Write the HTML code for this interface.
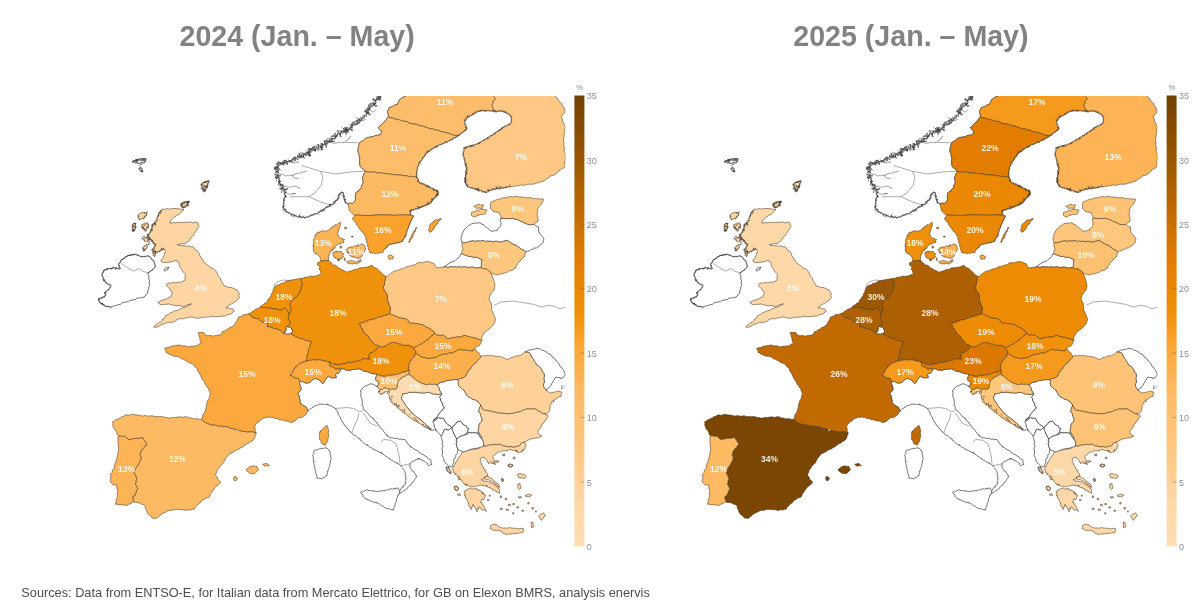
<!DOCTYPE html>
<html><head><meta charset="utf-8"><title>Maps</title>
<style>
html,body{margin:0;padding:0;background:#fff}
body{width:1192px;height:600px;position:relative;overflow:hidden;font-family:"Liberation Sans",Arial,sans-serif}
.t{position:absolute;top:19.5px;font-size:28.6px;font-weight:bold;color:#808284;white-space:nowrap;line-height:32px}
.src{position:absolute;left:21.3px;top:585.7px;font-size:12.76px;color:#4d4d4d;white-space:nowrap;line-height:14px}
svg{position:absolute;left:0;top:0}
.lb{font:bold 8.5px "Liberation Sans",Arial,sans-serif;fill:#fff;text-anchor:middle;opacity:.88}
.tk{font:9px "Liberation Sans",Arial,sans-serif;fill:#8a8f98}
.pc{font:7.5px "Liberation Sans",Arial,sans-serif;fill:#8a8a8a;text-anchor:middle}
</style></head><body>
<div class="t" style="left:179.5px">2024 (Jan. – May)</div>
<div class="t" style="left:793.3px">2025 (Jan. – May)</div>
<svg width="1192" height="600" viewBox="0 0 1192 600">
<defs>
<clipPath id="clip"><rect x="80" y="96" width="485.5" height="456"/></clipPath>
<linearGradient id="cb" x1="0" y1="0" x2="0" y2="1">
<stop offset="0" stop-color="#734002"/>
<stop offset="0.0285714" stop-color="#7b4502"/>
<stop offset="0.0571429" stop-color="#834a02"/>
<stop offset="0.0857143" stop-color="#8b4e02"/>
<stop offset="0.114286" stop-color="#945202"/>
<stop offset="0.142857" stop-color="#9c5701"/>
<stop offset="0.171429" stop-color="#a45c01"/>
<stop offset="0.2" stop-color="#ac6001"/>
<stop offset="0.228571" stop-color="#b66502"/>
<stop offset="0.257143" stop-color="#c16a02"/>
<stop offset="0.285714" stop-color="#ca6f02"/>
<stop offset="0.314286" stop-color="#d27402"/>
<stop offset="0.342857" stop-color="#da7802"/>
<stop offset="0.371429" stop-color="#e37d02"/>
<stop offset="0.4" stop-color="#e68203"/>
<stop offset="0.428571" stop-color="#ea8703"/>
<stop offset="0.457143" stop-color="#ed8c04"/>
<stop offset="0.485714" stop-color="#f0910c"/>
<stop offset="0.514286" stop-color="#f59a1c"/>
<stop offset="0.542857" stop-color="#faa22d"/>
<stop offset="0.571429" stop-color="#fba93e"/>
<stop offset="0.6" stop-color="#fcaf4a"/>
<stop offset="0.628571" stop-color="#fdb457"/>
<stop offset="0.657143" stop-color="#feba63"/>
<stop offset="0.685714" stop-color="#febd6a"/>
<stop offset="0.714286" stop-color="#fec071"/>
<stop offset="0.742857" stop-color="#ffc377"/>
<stop offset="0.771429" stop-color="#ffc67e"/>
<stop offset="0.8" stop-color="#ffc985"/>
<stop offset="0.828571" stop-color="#ffcd8f"/>
<stop offset="0.857143" stop-color="#fed199"/>
<stop offset="0.885714" stop-color="#fed5a3"/>
<stop offset="0.914286" stop-color="#fed8a8"/>
<stop offset="0.942857" stop-color="#fedaac"/>
<stop offset="0.971429" stop-color="#fedcb1"/>
<stop offset="1" stop-color="#fedfb6"/>
</linearGradient>
<g id="under" fill="#fff" stroke="#2e3238" stroke-width=".7">
<path d="M380.8 96.0L380.7 97.0L380.5 97.3L380.6 98.2L380.8 99.1L380.1 98.3L380.0 97.4L379.6 96.6L380.4 98.6L378.2 97.0L379.5 99.5L378.6 99.4L378.6 98.7L379.0 99.6L379.8 99.9L380.6 100.2L379.4 100.2L378.7 99.8L378.3 99.1L376.6 98.0L377.6 100.3L376.0 99.4L375.7 100.0L376.1 101.1L374.5 100.8L376.3 102.8L375.7 103.2L375.4 103.9L373.2 103.2L374.7 105.0L374.0 103.9L374.9 103.6L375.8 103.7L374.9 104.1L374.0 104.3L373.7 105.1L373.7 104.7L374.6 105.0L375.4 105.7L376.5 105.5L377.3 106.3L376.4 105.9L375.3 106.1L374.5 105.5L373.6 105.3L372.4 105.1L371.9 105.6L371.6 106.2L370.3 106.1L370.3 107.0L369.4 107.2L369.7 108.3L370.0 109.4L368.5 109.2L368.0 109.7L367.7 110.3L368.3 111.6L367.3 111.8L368.4 113.4L367.8 112.6L368.7 112.7L369.6 112.9L368.6 113.2L367.6 113.2L366.3 112.8L366.3 113.6L367.1 113.1L368.0 113.6L368.9 113.7L369.8 114.6L370.7 114.6L369.7 115.0L368.8 114.3L367.9 114.0L367.1 113.5L366.5 114.7L366.5 115.5L366.5 116.4L363.7 115.2L364.6 116.7L364.5 117.5L362.9 117.2L363.2 118.3L362.3 118.5L361.2 118.2L361.8 120.1L361.3 120.6L359.4 119.3L360.2 121.5L359.6 121.8L359.6 123.1L357.6 121.6L358.5 123.9L356.9 122.9L357.3 124.6L355.6 123.5L355.8 125.0L355.1 125.2L353.5 124.2L353.1 124.9L352.2 124.8L352.4 126.2L351.2 125.8L352.3 128.5L350.6 127.4L350.2 128.0L349.7 128.5L350.2 128.4L350.6 129.3L351.4 129.6L352.1 130.0L352.9 130.3L351.8 130.5L351.1 129.9L350.4 129.7L350.0 128.9L348.9 128.6L348.7 129.6L348.5 130.7L346.9 129.0L347.5 130.3L347.9 131.1L348.1 132.0L348.1 132.9L347.6 132.1L347.5 131.2L347.0 130.4L346.1 128.8L346.8 130.7L346.5 131.7L346.2 132.6L346.3 133.6L346.1 134.5L345.9 133.5L345.9 132.6L346.1 131.6L346.3 130.7L345.8 129.8L345.9 131.5L345.0 131.1L345.0 132.7L343.1 130.4L343.5 132.6L342.9 132.9L342.5 133.5L340.8 131.7L340.4 132.3L340.7 134.4L339.3 133.0L340.1 134.1L340.5 135.0L340.5 136.1L341.3 136.8L340.0 136.2L340.1 135.2L339.7 134.3L338.8 133.6L337.7 133.3L337.5 134.2L337.9 135.7L337.4 136.1L336.0 135.5L336.4 137.1L334.8 136.3L335.6 138.3L335.0 138.6L334.7 139.3L333.1 138.5L332.0 138.3L332.1 139.5L331.1 139.1L332.0 140.7L332.7 141.1L333.7 141.3L334.6 141.6L333.5 141.7L332.5 141.5L331.7 141.1L331.7 141.4L331.4 140.7L332.0 141.2L332.2 142.0L331.7 141.4L331.0 141.1L331.1 141.8L329.9 141.2L330.1 143.0L328.1 141.0L328.4 142.8L326.8 141.5L327.7 144.3L326.3 143.4L325.5 143.3L325.8 144.2L326.3 145.0L326.2 145.9L326.6 146.7L326.0 147.7L326.3 146.7L325.7 146.0L326.0 145.1L325.4 144.3L325.8 145.2L324.1 143.7L323.7 144.5L323.3 145.1L322.2 144.5L322.9 147.3L321.7 146.4L321.9 147.3L322.5 148.1L321.3 147.4L321.3 146.4L321.9 146.8L320.5 145.4L321.1 148.1L320.9 146.8L321.5 147.5L321.8 148.4L322.0 149.4L323.2 149.6L321.5 149.6L321.5 148.7L321.1 147.7L320.6 147.2L320.4 148.1L318.5 145.9L318.8 148.0L318.7 149.3L318.0 149.3L316.5 147.9L316.1 148.5L315.5 148.8L315.5 149.5L315.2 150.4L315.0 151.3L314.7 150.4L314.9 149.5L315.8 150.9L314.9 150.5L313.7 149.5L312.9 149.6L312.5 150.3L311.6 149.8L311.3 150.7L310.7 151.0L310.9 152.8L309.2 151.0L309.5 153.1L308.8 153.1L308.7 153.0L309.2 153.8L309.2 154.8L309.5 155.7L309.8 156.6L309.2 155.9L308.8 155.0L308.8 153.9L308.2 153.2L307.3 151.7L308.4 153.0L309.0 153.6L309.4 154.4L309.9 155.1L311.0 155.2L309.6 155.5L309.1 154.9L308.7 153.9L308.0 153.4L306.8 152.1L307.3 154.5L306.2 153.8L306.2 155.3L304.6 153.6L304.2 154.4L303.6 154.6L303.5 155.9L303.3 156.9L302.7 156.1L303.4 156.7L304.2 157.4L304.3 158.4L303.8 157.6L303.1 156.9L302.3 156.4L301.6 155.1L302.2 157.7L300.7 156.2L300.9 158.1L299.4 156.5L299.4 158.1L298.6 157.9L298.2 158.5L298.0 159.7L296.8 158.8L295.7 158.0L295.6 159.4L295.5 160.6L295.0 161.0L293.5 159.6L292.6 158.8L292.9 161.8L292.3 162.2L291.6 162.3L290.2 160.1L290.2 162.3L289.4 161.9L288.4 161.1L288.0 162.0L287.0 160.9L287.0 162.5L287.6 163.2L287.6 163.9L287.4 164.7L287.3 164.0L287.0 163.2L286.6 162.5L287.0 163.2L286.4 163.3L285.9 163.9L284.4 161.7L284.2 163.1L283.9 163.5L284.4 164.2L284.0 165.0L283.9 164.2L283.5 163.5L283.5 163.0L282.8 162.9L282.1 162.9L282.1 164.6L280.9 163.4L280.2 163.5L279.9 164.4L279.2 164.3L278.9 165.3L278.4 165.7L277.6 165.5L278.0 166.2L278.3 166.9L276.8 167.4L278.0 167.9L278.7 168.4L279.3 169.0L280.0 169.4L280.4 170.2L279.7 169.7L278.9 169.3L278.5 168.8L277.7 168.2L278.2 168.3L277.4 168.9L277.0 169.5L278.1 170.3L278.9 171.1L276.9 171.5L276.7 172.2L278.4 172.5L278.2 173.2L279.2 173.7L277.6 174.8L276.9 175.7L279.2 175.8L278.7 175.9L279.6 175.5L280.7 175.8L279.7 176.0L278.9 176.4L278.4 176.8L278.3 177.5L279.7 177.9L278.4 178.9L278.8 179.4L279.1 180.1L279.9 180.4L279.6 181.3L279.4 182.2L279.3 183.0L279.7 183.6L280.3 184.0L280.4 184.8L282.7 184.4L281.8 185.6L283.8 185.5L283.0 186.6L281.8 187.8L283.1 188.1L284.3 188.3L283.5 189.4L284.3 189.5L285.2 189.8L286.1 188.8L287.0 188.8L287.9 188.7L287.0 189.3L286.1 189.1L285.2 190.2L284.3 190.0L285.5 189.3L285.8 190.0L284.3 191.3L284.1 192.2L286.6 191.9L284.4 193.5L285.1 194.0L284.6 194.6L285.7 195.5L285.7 195.2L286.2 195.9L286.7 196.5L286.0 196.3L285.5 195.6L284.7 196.0L285.9 196.9L285.7 197.6L283.9 198.0L284.3 198.7L283.4 199.3L284.9 200.2L283.1 200.6L283.8 201.4L284.0 202.2L283.6 202.8L284.6 203.7L283.7 204.2L283.1 204.8L284.1 205.7L283.7 206.3L282.6 206.8L284.1 206.5L283.4 207.9L283.6 208.5L283.8 209.2L284.8 209.3L285.9 209.3L286.3 209.8L285.4 211.3L286.5 211.3L286.9 211.8L286.8 212.7L287.9 211.8L288.4 212.3L288.7 213.6L289.8 212.7L290.3 213.2L291.0 213.5L291.1 215.0L292.3 214.0L292.9 214.4L293.3 215.2L294.4 214.3L294.6 215.6L295.2 216.0L296.1 215.3L296.5 216.2L297.1 216.5L297.8 216.6L298.6 216.3L299.2 216.6L299.6 216.5L299.4 215.3L300.2 214.6L299.7 215.4L300.1 216.6L299.7 217.2L300.2 217.7L300.8 216.6L301.6 218.2L302.1 217.2L302.7 216.6L303.3 216.1L304.1 217.7L304.8 217.7L305.4 216.9L306.1 217.5L306.7 216.8L307.4 217.2L308.0 217.2L308.6 216.9L309.1 216.1L309.6 215.5L310.4 215.7L311.1 215.6L311.4 214.5L312.2 214.7L313.2 215.3L313.4 213.9L314.0 213.4L314.8 213.6L315.7 213.9L316.5 214.2L317.0 213.5L317.5 212.9L318.2 212.8L318.4 211.8L319.6 212.6L320.0 211.9L320.1 210.5L321.1 210.9L321.8 211.0L322.5 210.8L321.8 210.5L321.3 209.7L322.0 210.0L322.8 209.8L323.7 210.2L323.6 208.7L324.6 209.1L325.0 208.5L325.6 208.2L325.8 207.2L326.3 206.8L326.5 207.6L326.5 206.9L326.8 207.3L327.2 207.0L327.5 206.1L328.8 206.8L328.9 205.8L330.3 206.6L329.7 205.1L329.9 204.1L330.0 205.1L329.8 204.7L330.4 204.5L330.5 204.6L329.5 204.8L330.9 204.3L330.9 204.0L332.1 204.6L332.6 204.1L333.5 204.3L333.8 203.5L333.3 202.0L334.1 201.9L335.4 202.4L335.1 201.1L335.1 200.2L336.1 200.3L337.3 200.5L337.1 199.5L337.1 198.5L338.7 199.2L338.8 198.4L339.3 197.9L338.1 197.0L338.8 196.5L338.8 195.8L338.9 195.2L338.7 195.5L338.1 194.9L338.7 194.9L339.6 194.7L339.3 194.0L339.7 193.4L340.3 193.2L341.1 193.3L341.4 191.9L342.3 192.4L343.0 192.6L343.7 193.1L342.7 193.9L343.3 194.5L344.0 195.1L343.4 195.8L344.8 196.3L343.3 197.2L343.7 197.8L343.9 198.4L344.8 198.7L344.0 199.8L345.0 199.8L345.8 199.3L345.0 200.1L344.9 200.1L344.4 201.0L345.8 201.1L345.0 202.1L345.5 202.6L346.2 202.6L346.6 203.5L347.2 203.9L348.1 203.5L349.5 203.3L350.9 203.1L352.2 203.5L353.7 202.6L354.5 201.2L355.6 200.1L355.4 198.4L355.3 196.7L355.7 195.1L355.6 193.4L356.6 192.0L358.5 191.6L359.1 189.8L360.6 189.0L361.5 187.4L361.5 185.5L362.8 184.0L363.2 182.2L363.1 180.5L362.7 178.9L362.3 177.2L363.5 175.9L363.7 174.1L364.8 172.8L365.7 171.3L364.4 170.4L363.3 169.0L361.9 168.2L360.6 167.1L360.0 165.5L359.7 163.9L359.8 162.1L359.5 160.4L359.9 158.7L359.6 157.0L359.0 155.4L359.1 153.7L358.1 152.1L357.9 150.4L358.1 148.7L358.3 147.2L358.8 145.7L359.1 144.2L359.8 142.8L361.2 141.6L362.8 140.8L364.1 139.5L365.7 138.6L367.2 137.6L369.0 137.6L370.6 136.7L372.5 137.0L374.1 136.1L375.7 135.4L377.4 135.2L379.1 135.1L380.8 134.4L381.3 132.8L381.6 131.1L380.5 129.9L379.3 128.9L378.3 127.7L379.8 126.4L381.3 125.1L382.4 123.5L383.8 122.3L385.2 121.2L386.0 119.5L387.3 118.3L388.3 116.8L388.3 115.1L387.9 113.4L387.5 111.8L387.8 110.3L388.8 109.1L389.2 107.6L390.9 107.2L392.6 106.5L394.1 105.4L395.8 104.8L397.6 104.2L398.1 102.8L398.9 101.5L399.2 100.0L400.8 98.8L402.4 97.7L404.1 96.7L405.9 96.0L405.9 94.3L405.8 92.7L405.9 91.0L404.0 91.4L402.0 90.7L400.0 91.4L398.1 90.8L396.1 90.7L394.1 90.6L392.1 90.6L390.2 91.1L388.2 90.7L386.2 91.3L384.2 91.0L382.3 91.0L382.1 92.8L381.2 94.3Z"/>
<path d="M126.9 256.0L128.6 255.4L130.4 255.6L131.9 254.4L133.6 254.5L135.3 254.3L137.0 255.0L138.8 255.4L140.2 256.5L142.0 256.8L143.7 256.3L145.5 256.9L147.0 255.8L148.8 256.0L150.3 257.0L151.2 258.5L152.2 260.1L153.8 261.0L154.3 262.7L154.6 264.5L155.5 266.0L154.7 267.7L153.3 268.9L152.1 270.2L150.5 270.8L149.6 272.3L147.9 272.8L148.1 274.7L148.8 276.6L148.8 278.6L149.3 280.3L149.5 281.9L149.1 283.7L149.6 285.3L148.8 286.9L148.7 288.7L147.9 290.3L147.9 292.0L147.2 293.4L146.4 294.7L145.0 295.6L144.6 297.1L142.6 297.3L140.7 297.9L138.7 297.9L136.9 298.2L135.5 299.7L133.6 299.5L132.0 300.4L130.2 300.3L128.7 301.7L127.0 301.8L125.3 302.1L123.5 302.5L121.8 303.1L120.4 304.4L118.6 304.6L116.9 305.2L115.1 305.7L113.4 306.1L111.8 307.1L110.2 306.9L108.5 306.7L106.8 306.6L105.1 306.3L104.7 305.8L103.9 305.8L104.1 304.4L102.9 304.9L102.4 304.5L102.2 303.6L101.2 303.9L102.2 303.8L102.6 302.8L102.4 304.2L100.7 303.4L100.5 302.7L99.8 302.5L99.3 302.1L99.8 301.3L98.6 300.8L98.5 300.2L99.1 299.3L98.4 298.8L99.4 299.4L99.4 299.4L99.2 300.2L99.1 299.4L99.8 298.8L100.4 298.6L101.1 298.4L101.8 298.5L101.9 296.9L102.9 297.7L103.5 297.4L104.2 297.5L104.4 296.2L105.1 296.2L105.5 295.4L105.9 295.6L105.8 294.7L105.5 294.0L105.2 293.4L104.3 292.9L105.4 293.2L105.9 292.8L105.7 291.5L106.5 291.4L107.0 290.8L107.7 290.7L107.9 289.9L108.5 289.5L109.1 289.1L109.6 288.6L109.8 287.9L110.5 287.5L110.9 286.9L110.5 285.9L111.0 285.3L110.5 284.8L109.8 284.9L109.4 284.1L108.7 284.2L107.9 284.3L107.4 283.9L106.8 283.7L106.4 283.2L106.3 282.3L105.3 282.3L105.2 281.4L104.7 280.9L103.9 280.8L104.5 280.3L104.2 279.6L105.0 280.4L103.5 280.3L103.9 279.4L103.0 279.0L103.5 278.2L102.8 277.7L102.3 277.2L102.7 276.3L102.7 275.7L101.8 275.3L102.1 274.7L102.2 274.0L102.2 273.3L102.5 272.7L103.6 272.4L103.8 271.7L103.4 270.9L103.5 270.2L104.3 270.7L104.6 269.5L105.4 269.8L106.1 269.8L106.5 268.7L107.3 269.0L107.4 269.6L107.1 270.2L106.9 269.6L107.7 268.3L108.5 268.6L109.2 268.9L109.8 268.2L110.6 269.1L111.2 268.6L111.8 268.1L111.6 268.7L111.7 269.3L111.3 268.7L112.4 268.0L113.1 267.9L113.7 267.5L114.4 267.7L115.0 267.7L115.7 267.8L116.3 268.1L116.1 268.9L115.2 269.4L115.7 268.6L117.0 267.7L117.6 268.0L118.2 268.9L118.9 268.7L119.5 269.2L120.2 268.6L119.9 268.0L119.9 267.3L119.2 266.9L119.1 266.2L119.8 265.4L119.2 265.5L118.7 265.0L118.6 264.4L119.2 263.9L119.1 263.0L119.8 262.7L120.7 262.4L121.1 261.8L120.7 260.8L121.1 260.2L121.8 260.1L121.9 259.1L122.7 259.1L123.5 259.0L123.7 258.3L124.7 258.5L124.9 257.6L125.4 257.2L125.7 256.5L126.7 256.8Z"/>
<path d="M307.9 411.4L308.4 410.9L308.9 410.1L309.5 409.5L310.2 409.1L310.5 408.7L310.8 408.6L311.6 408.2L312.4 407.9L312.7 407.0L313.6 406.7L314.3 406.2L315.2 405.9L316.0 405.6L316.8 405.3L317.7 405.0L318.6 405.0L319.3 404.2L320.3 404.2L321.1 404.0L322.0 404.2L322.8 404.4L323.6 404.3L324.5 404.6L325.4 404.2L326.2 404.5L327.0 404.6L327.5 404.6L327.5 403.8L328.0 404.8L327.9 404.5L328.7 405.0L329.3 405.6L330.2 405.7L331.0 405.9L331.8 406.1L332.6 406.5L333.0 407.5L333.8 407.8L334.7 407.8L335.4 408.4L335.6 409.2L336.1 409.9L336.9 410.4L337.3 411.1L337.6 411.9L338.0 412.6L338.3 413.5L338.2 414.4L338.7 415.1L339.3 415.8L339.9 416.4L340.1 417.2L340.6 417.9L340.5 418.9L340.9 419.6L341.7 420.1L342.0 420.9L342.1 421.8L342.5 422.5L343.5 422.8L343.7 423.7L343.9 424.6L344.9 425.0L345.1 425.8L345.6 426.5L346.3 427.0L346.7 427.8L347.1 428.5L348.1 428.8L348.5 429.7L348.9 430.5L349.6 431.0L350.1 431.8L351.1 432.1L351.5 432.9L352.1 433.6L352.8 434.1L353.3 434.8L354.1 435.1L354.9 435.4L355.6 435.9L356.4 436.3L357.1 436.7L357.7 437.4L358.2 438.0L358.9 438.6L359.9 438.8L360.1 439.9L361.0 440.2L361.5 441.0L362.2 441.5L362.8 442.2L363.5 442.8L364.3 443.2L365.0 443.8L365.6 444.5L366.2 445.2L367.0 445.5L367.4 445.0L367.5 444.4L367.8 445.2L368.0 445.6L368.7 446.2L369.3 446.8L369.9 447.4L370.9 447.5L371.6 448.0L372.3 448.7L372.9 449.2L374.0 449.0L374.5 449.8L375.2 450.2L376.1 450.4L376.7 450.9L377.5 451.2L378.4 451.4L379.0 452.0L379.7 452.6L380.0 451.8L380.7 452.6L381.2 453.5L381.8 453.1L381.6 452.4L382.2 453.3L382.2 453.4L382.8 454.3L383.7 454.5L384.3 455.2L385.0 455.7L385.7 456.2L386.5 456.6L387.2 457.0L388.0 457.5L388.7 458.0L389.2 458.8L390.3 458.7L390.7 459.6L391.3 460.3L392.3 460.3L393.0 460.9L393.6 461.5L394.5 461.7L395.2 462.2L395.8 462.9L396.6 463.0L396.8 462.5L397.2 463.6L398.1 463.7L398.8 464.0L399.4 464.6L400.0 465.2L400.8 465.4L401.1 466.3L401.6 467.0L402.3 467.6L402.8 468.3L403.3 469.0L403.8 469.7L404.2 470.5L404.9 471.2L404.7 472.1L405.3 472.9L405.3 473.8L405.3 474.7L405.4 475.5L405.4 476.4L405.8 477.2L406.2 478.1L405.7 478.9L405.5 479.7L405.6 480.6L405.8 481.4L405.1 482.2L405.2 483.1L405.9 483.4L405.0 483.9L404.6 484.7L403.8 485.0L403.3 485.7L403.1 486.6L403.6 486.6L402.2 486.9L401.8 487.6L401.2 488.2L400.8 488.9L400.5 489.7L400.2 490.6L399.3 491.0L399.2 492.0L398.7 492.7L398.3 493.5L397.4 494.0L398.2 493.5L399.2 493.7L399.9 493.0L400.8 493.1L401.3 492.4L402.0 492.1L402.7 491.7L403.3 491.1L404.1 490.8L404.8 490.5L405.3 489.7L406.1 489.5L406.7 488.9L407.2 488.2L407.9 487.7L408.1 486.8L408.7 486.2L409.3 485.5L410.3 485.4L410.9 484.7L411.3 483.9L411.6 483.0L412.2 482.4L413.3 482.1L413.8 481.3L414.2 480.5L414.4 479.7L415.0 479.1L415.7 478.5L416.1 477.8L416.1 476.9L416.7 476.3L416.5 475.5L415.5 475.2L415.4 474.3L414.8 473.7L414.4 473.0L414.2 472.1L413.5 471.7L413.2 470.9L412.2 470.8L411.6 470.3L411.1 469.6L410.9 468.8L410.4 468.0L410.1 467.2L410.0 466.3L409.9 465.5L410.2 464.6L410.0 463.8L410.5 462.9L411.2 462.3L412.2 462.2L412.7 461.4L413.5 461.0L414.2 460.4L415.1 460.3L415.9 459.9L416.7 459.6L417.6 459.3L418.4 459.0L417.6 458.5L419.3 458.7L420.2 458.7L420.6 459.7L421.4 459.9L422.0 460.4L423.0 460.2L423.6 460.8L424.3 461.2L424.9 461.9L425.5 462.4L426.4 462.7L427.0 463.3L427.7 463.4L427.4 464.1L427.8 464.9L428.5 465.4L429.3 465.3L430.2 465.1L431.0 464.6L431.8 464.6L431.4 463.8L431.0 463.0L431.2 462.1L430.7 461.3L431.0 460.4L430.5 459.7L429.6 459.6L429.0 459.0L428.2 458.7L427.8 457.9L427.0 457.5L426.7 456.6L426.0 456.2L425.0 456.1L424.3 455.5L423.8 454.7L422.9 454.5L422.0 454.3L421.4 453.5L420.6 453.2L419.7 452.9L419.3 452.0L418.6 451.4L417.9 450.9L417.0 450.7L416.2 450.2L415.3 450.0L414.8 449.2L414.0 448.9L413.2 448.5L412.6 447.8L411.9 447.3L410.9 447.2L410.7 446.2L410.7 446.8L409.8 446.0L409.1 445.6L408.6 444.8L408.3 443.9L407.5 443.6L407.1 442.9L406.9 442.1L406.2 441.5L405.8 440.9L405.1 440.3L405.0 439.4L404.1 439.6L403.3 439.5L402.4 439.7L401.7 438.8L400.8 439.2L399.9 439.4L399.1 439.2L398.3 438.9L397.4 438.6L396.6 438.5L395.7 438.6L394.9 438.4L394.1 438.4L393.2 438.3L392.4 437.7L391.6 438.0L390.7 437.8L389.8 437.7L389.3 436.8L388.6 436.4L387.7 436.1L387.6 436.5L387.4 435.2L386.5 434.8L386.0 435.2L386.2 434.0L385.5 433.5L385.0 432.8L384.4 432.1L383.7 431.6L383.5 430.6L382.9 430.0L382.3 429.4L381.5 429.0L381.1 428.2L380.3 427.7L379.9 427.5L380.2 426.7L379.5 426.1L378.6 425.8L378.4 424.8L378.0 424.0L377.3 423.5L376.5 423.0L376.3 422.1L375.5 421.6L374.8 421.1L374.6 420.2L373.7 419.8L373.6 418.7L372.5 418.5L372.3 417.6L371.4 417.2L370.8 416.5L370.0 416.1L369.5 415.4L369.1 414.5L368.3 414.0L367.7 413.3L367.2 412.6L366.7 411.9L366.2 411.3L365.1 411.1L364.6 410.4L364.4 409.5L363.4 409.2L363.1 408.4L363.2 406.4L362.1 404.5L362.4 402.5L362.1 400.5L361.8 398.8L361.3 397.1L360.5 395.5L361.0 393.8L361.0 392.1L360.5 390.5L361.8 389.6L362.6 388.1L363.8 387.1L365.4 386.0L367.2 385.4L368.8 384.5L370.5 383.8L372.3 384.0L373.9 384.6L374.9 385.5L376.4 385.9L377.2 387.1L377.4 385.5L378.7 384.5L378.9 382.9L378.2 381.4L376.5 380.8L375.6 379.6L375.9 377.8L376.3 376.1L377.2 374.5L375.6 374.0L373.9 373.7L372.1 373.5L370.5 372.9L368.9 372.3L367.2 371.7L365.6 371.4L363.8 371.2L362.5 370.2L361.0 369.6L359.6 368.7L357.7 369.2L355.7 368.9L353.8 369.5L352.1 369.5L350.5 370.4L348.7 370.1L347.0 370.3L345.4 369.7L343.8 368.9L341.9 368.9L340.3 368.2L340.3 370.2L339.5 372.0L338.4 373.3L336.5 373.3L335.3 374.5L336.0 376.1L336.1 377.9L334.7 377.5L333.3 377.9L331.9 377.9L330.2 377.2L328.6 376.2L327.2 377.1L326.5 378.6L325.2 379.6L324.6 381.1L323.9 382.6L322.7 383.8L321.3 382.3L320.3 380.6L318.5 379.6L317.2 379.1L315.8 378.5L314.3 378.7L312.7 379.5L311.5 381.0L310.1 382.1L308.5 382.8L306.9 383.2L305.1 382.9L303.6 381.9L301.9 381.4L300.1 381.2L299.6 382.5L299.5 383.8L300.2 385.4L300.7 387.1L301.1 388.8L300.6 390.3L299.8 391.5L298.3 392.4L297.8 393.8L298.8 395.3L299.4 397.0L299.5 398.9L300.2 400.5L300.0 402.2L300.3 403.9L302.0 404.4L303.2 405.6L304.8 406.3L306.2 407.2L307.0 408.5L307.4 410.0L307.9 411.4Z"/>
<path d="M314.4 450.3L315.2 449.9L316.2 450.2L317.0 450.0L317.7 449.2L318.7 449.5L319.4 448.7L320.3 448.7L321.1 448.4L321.9 448.3L322.8 448.6L323.6 448.3L324.4 447.9L325.3 448.0L326.2 448.2L327.0 447.8L327.4 448.6L328.2 449.1L328.7 449.9L329.0 450.8L329.8 451.3L330.3 452.0L330.0 452.9L330.4 453.7L330.2 454.6L330.7 455.4L330.5 456.3L331.0 457.0L330.9 457.9L331.2 458.7L331.1 459.6L330.4 460.3L330.6 461.2L330.1 462.0L330.5 463.0L329.9 463.7L329.8 464.5L329.7 465.4L329.6 466.3L329.5 467.1L328.8 467.8L328.6 468.7L328.3 469.5L328.1 470.3L327.9 471.2L327.5 472.0L327.2 471.7L327.4 472.9L327.2 473.7L327.2 474.6L327.0 475.5L326.1 475.7L325.6 476.6L324.9 477.0L324.1 477.4L323.2 477.6L322.5 478.2L321.9 478.9L321.1 478.9L320.3 478.4L319.4 478.4L318.6 478.2L317.8 478.1L316.9 478.0L317.2 477.1L316.7 476.3L316.3 475.5L316.3 474.6L316.5 473.7L315.7 473.0L315.5 472.2L315.8 471.2L315.2 470.5L315.0 469.6L315.0 468.8L314.9 467.9L314.4 467.2L314.7 466.2L314.7 465.4L314.0 464.6L314.1 463.7L313.6 462.9L313.6 462.1L313.6 461.2L314.3 461.0L313.4 460.4L313.1 459.6L313.5 458.7L313.3 457.9L313.3 457.0L313.1 456.2L312.7 455.4L313.2 454.6L313.7 453.8L313.7 452.9L313.7 452.0L314.0 451.2Z"/>
<path d="M360.5 492.3L361.3 491.7L362.4 492.0L363.2 491.6L363.9 491.0L364.7 490.7L365.6 490.4L366.5 490.2L367.2 489.8L368.0 490.4L368.8 490.6L369.2 491.0L369.8 490.3L370.6 490.4L371.4 490.9L372.2 491.1L373.2 490.7L374.0 491.0L374.8 491.0L375.6 491.4L376.5 491.6L377.3 491.5L378.2 491.5L379.0 491.0L379.9 491.2L380.7 490.8L381.5 490.9L382.4 490.8L383.2 490.9L384.0 490.6L384.9 490.7L385.8 490.5L386.5 489.8L387.4 489.9L388.3 490.0L389.1 489.3L390.0 489.4L390.7 488.9L391.6 488.8L392.5 489.2L392.9 489.2L393.3 488.7L394.1 488.3L394.9 488.4L395.6 489.2L395.8 488.2L396.6 488.1L397.4 488.1L398.3 488.1L398.6 488.9L398.9 489.6L399.1 490.5L399.3 491.3L400.1 491.8L399.6 492.5L399.4 493.3L398.6 493.9L398.8 494.9L397.9 495.4L397.5 495.4L397.6 496.1L397.4 497.0L397.2 497.8L396.8 498.5L396.5 499.3L396.5 500.2L396.4 501.1L396.1 501.9L395.6 502.7L395.2 503.5L395.1 504.3L395.1 505.2L395.0 506.1L394.2 506.8L393.8 507.6L393.9 508.6L393.7 509.4L393.4 510.3L392.7 509.7L391.8 509.7L390.9 509.8L390.1 509.1L389.3 509.0L388.5 508.6L387.6 508.5L386.7 508.6L386.0 508.1L385.3 507.6L384.4 507.4L383.7 506.7L383.0 506.2L382.2 505.8L381.4 505.5L380.6 505.0L380.0 504.4L379.3 503.9L378.6 503.4L377.8 503.1L376.9 503.0L376.1 502.8L376.3 502.1L375.3 502.3L374.3 502.6L373.6 502.1L372.7 501.9L372.0 501.5L371.3 500.9L370.4 501.1L369.7 500.4L368.8 500.5L368.2 499.7L368.4 499.4L367.2 499.8L366.5 499.5L366.1 498.5L365.1 498.5L364.6 497.7L363.9 497.3L363.3 496.7L363.2 495.7L362.8 494.9L361.9 494.5L361.6 493.7L361.2 492.9Z"/>
<path d="M441.8 393.8L440.4 393.8L439.0 394.4L437.7 394.7L436.0 394.0L434.2 394.0L432.5 393.8L430.9 393.0L429.3 392.5L427.6 392.4L425.9 392.5L424.2 393.0L422.6 393.0L420.9 392.7L419.2 392.8L417.5 392.6L415.8 392.4L414.2 392.1L412.5 392.5L410.8 392.3L409.1 392.2L407.4 393.0L405.8 393.5L404.1 393.5L402.4 393.8L402.6 395.6L401.3 397.1L401.6 398.9L402.3 400.8L404.0 402.0L404.8 403.8L405.8 405.6L407.0 407.1L408.2 408.5L409.3 410.2L410.8 411.4L411.7 413.1L413.3 414.0L414.6 415.2L415.8 416.5L417.2 417.6L418.8 418.3L420.1 419.4L421.6 420.4L422.6 421.8L423.9 422.8L425.3 423.8L426.3 425.2L427.1 426.7L428.5 427.7L429.2 428.0L430.2 428.0L429.7 429.5L430.5 429.7L431.0 430.2L432.7 430.4L434.4 429.7L436.1 430.2L436.0 428.4L434.7 426.9L434.4 425.2L434.6 423.6L434.0 422.1L433.6 420.6L434.7 418.9L436.2 417.7L437.8 416.4L438.4 414.9L439.3 413.5L440.3 412.2L441.8 411.0L442.7 409.1L444.5 408.0L443.7 406.6L442.8 405.3L442.5 403.7L441.9 402.1L440.7 400.7L440.7 398.6L439.4 397.1L440.5 396.2L441.2 395.1L441.8 393.8Z"/>
<path d="M432.7 421.8L434.2 420.8L435.9 420.1L437.0 418.5L438.6 417.6L440.2 418.1L442.0 417.9L443.6 418.5L444.4 419.8L445.0 421.2L445.8 422.5L447.0 423.5L448.1 424.7L449.5 425.6L450.9 426.5L452.0 427.7L450.8 428.4L449.6 429.2L448.7 430.2L447.3 429.9L445.9 429.3L444.5 429.4L443.7 431.1L443.0 432.8L442.3 434.6L441.1 436.1L440.0 434.4L438.8 433.0L437.2 431.8L436.1 430.2L435.6 428.4L434.3 427.0L434.2 425.1L433.7 423.4Z"/>
<path d="M441.1 436.1L442.3 434.6L443.0 432.8L443.7 431.1L444.5 429.4L445.9 429.3L447.3 429.9L448.7 430.2L449.6 429.2L450.8 428.4L452.0 427.7L452.4 429.2L452.3 430.8L453.6 432.0L453.7 433.6L454.7 434.7L455.1 436.2L455.8 437.6L457.0 438.6L456.3 440.2L457.0 442.0L456.2 443.6L456.6 445.1L456.7 446.7L457.7 448.0L457.9 449.5L457.7 450.9L457.4 452.3L457.0 453.7L455.8 454.9L455.8 456.9L454.6 458.2L453.7 459.6L453.8 461.3L453.8 463.0L452.8 464.6L452.9 466.3L451.6 467.1L449.9 466.3L448.7 467.1L447.9 465.6L446.9 464.3L445.8 463.1L444.5 462.1L443.9 460.4L443.7 458.6L442.9 456.9L441.9 455.4L442.5 453.7L442.4 452.0L442.4 450.3L442.1 448.6L442.8 447.0L442.9 445.3L442.1 443.7L442.6 441.9L441.9 440.3L441.9 438.8L441.4 437.5Z"/>
<path d="M452.0 427.7L453.0 426.0L454.7 424.9L455.9 423.3L457.0 421.8L458.8 421.5L460.4 421.0L461.9 422.3L462.8 424.2L464.6 425.2L466.3 425.9L467.1 427.7L468.8 428.5L468.1 429.9L467.5 431.2L467.1 432.7L466.3 434.0L464.9 434.4L463.8 435.2L462.0 435.9L460.2 436.4L458.7 437.7L457.0 438.6L455.8 437.6L455.1 436.2L454.7 434.7L453.7 433.6L453.6 432.0L452.3 430.8L452.4 429.2Z"/>
<path d="M457.0 438.6L458.7 437.7L460.2 436.4L462.0 435.9L463.8 435.2L465.5 434.9L467.2 434.2L468.6 432.9L470.5 432.7L472.4 432.8L474.2 432.3L476.1 433.1L478.0 432.7L478.6 434.5L479.7 436.0L480.7 437.5L481.7 439.0L483.1 440.3L483.3 442.2L483.9 444.1L483.9 446.1L482.2 446.6L480.6 447.4L478.9 447.8L477.2 448.3L475.5 448.3L473.8 448.7L472.1 449.1L470.3 449.4L468.8 450.3L467.1 450.9L465.5 451.6L463.8 452.0L462.3 451.5L460.9 450.6L459.3 450.3L457.9 449.5L457.7 448.0L456.7 446.7L456.6 445.1L456.2 443.6L457.0 442.0L456.3 440.2Z"/>
<path d="M437.7 384.6L438.5 383.4L439.8 382.8L441.0 382.1L442.7 382.1L444.4 381.6L446.0 380.9L447.6 380.3L449.4 380.4L451.0 379.8L452.7 379.8L454.4 379.7L456.1 379.6L457.8 379.6L458.6 381.4L458.2 383.5L458.7 385.4L459.8 387.0L461.5 388.2L462.9 389.6L464.4 390.6L465.1 392.4L466.3 393.8L466.7 395.2L467.6 396.2L468.8 397.1L470.6 397.7L472.1 398.9L473.8 399.6L475.4 399.8L476.5 401.0L478.0 401.3L478.7 402.5L479.4 403.7L480.5 404.7L480.3 406.5L479.4 408.1L478.9 409.9L478.9 411.7L480.2 413.2L480.5 415.1L481.2 416.7L481.8 418.4L482.2 420.1L481.7 421.6L480.3 422.5L479.6 423.8L478.9 425.2L478.9 426.9L478.7 428.6L478.0 430.2L478.6 432.0L479.5 433.7L480.5 435.2L481.8 436.7L481.7 438.8L483.1 440.3L481.7 439.0L480.7 437.5L479.7 436.0L478.6 434.5L478.0 432.7L476.1 433.1L474.2 432.3L472.4 432.8L470.5 432.7L468.8 432.2L467.1 432.7L467.5 431.2L468.1 429.9L468.8 428.5L467.1 427.7L466.3 425.9L464.6 425.2L462.8 424.2L461.9 422.3L460.4 421.0L458.8 421.5L457.0 421.8L455.9 423.3L454.7 424.9L453.0 426.0L452.0 427.7L450.9 426.5L449.5 425.6L448.1 424.7L447.0 423.5L445.8 422.5L445.0 421.2L444.4 419.8L443.6 418.5L442.0 417.9L440.2 418.1L438.6 417.6L436.9 418.4L435.1 419.1L433.6 420.1L433.6 420.6L434.7 418.9L436.2 417.7L437.8 416.4L438.4 414.9L439.3 413.5L440.3 412.2L441.8 411.0L442.7 409.1L444.5 408.0L443.7 406.6L442.8 405.3L442.5 403.7L441.9 402.1L440.7 400.7L440.7 398.6L439.4 397.1L440.5 396.2L441.2 395.1L441.8 393.8L440.7 392.9L440.6 391.3L439.3 390.5L439.3 388.9L438.7 387.5L437.7 386.2L437.7 384.6Z"/>
<path d="M287.1 326.2L288.7 327.0L290.4 327.1L291.5 328.0L291.7 329.6L293.0 330.4L292.2 332.1L291.3 333.8L289.9 333.9L288.5 334.1L287.1 334.1L285.6 334.1L284.2 333.7L282.9 333.0L284.1 332.5L285.4 332.1L285.9 330.7L286.1 329.1L286.3 327.6L287.1 326.2Z"/>
<path d="M443.8 267.1L445.5 266.7L447.2 267.3L448.9 267.4L450.5 266.6L452.2 266.7L453.9 267.1L455.6 266.5L457.2 267.5L458.9 266.6L460.6 267.2L462.3 267.0L464.0 267.1L465.7 266.6L467.3 267.7L469.0 267.5L470.7 267.2L472.4 267.0L474.0 267.6L475.7 268.0L477.4 268.0L479.1 267.6L480.7 267.6L481.4 265.8L481.4 263.9L481.4 262.4L481.7 261.0L482.2 259.7L480.5 258.9L478.7 258.3L477.2 257.1L475.5 257.3L473.8 257.0L472.1 256.9L470.5 256.3L468.7 256.4L467.0 255.8L465.4 255.0L463.8 254.6L462.6 253.9L461.2 253.8L460.4 254.9L459.9 256.4L459.0 257.5L457.5 258.4L456.1 259.6L454.8 260.9L453.0 261.5L451.1 262.0L449.7 263.1L448.0 264.0L446.5 264.9L445.4 266.3Z"/>
<path d="M525.0 351.8L526.9 351.3L528.6 350.1L530.7 350.0L532.6 349.3L534.3 349.4L535.8 348.4L537.6 348.5L539.3 348.5L540.8 349.5L542.6 350.3L544.4 350.8L546.0 351.8L547.2 352.7L548.3 353.8L550.0 353.9L551.0 355.2L551.9 356.8L553.8 357.4L554.6 359.1L556.0 360.2L556.9 361.5L557.9 362.6L559.0 363.7L559.4 365.2L560.6 366.4L561.3 367.9L562.7 368.9L563.6 370.3L564.3 371.9L564.9 373.6L565.3 375.3L563.8 376.4L562.7 377.8L561.1 378.7L559.6 377.6L557.7 377.5L556.0 377.0L554.9 377.9L554.6 379.4L553.5 380.3L552.8 382.1L551.6 383.6L551.0 385.4L549.9 386.5L549.0 387.9L547.7 388.7L546.5 389.2L546.0 390.4L545.2 389.0L544.1 387.7L543.5 386.2L543.4 384.2L544.3 382.3L544.3 380.3L543.8 378.4L544.3 376.4L544.3 374.5L543.6 372.9L542.2 371.8L541.9 370.0L540.9 368.6L539.8 367.2L538.5 365.9L536.8 365.2L535.9 363.6L535.2 362.2L534.2 361.1L533.7 359.6L532.6 358.5L531.7 357.1L530.9 355.6L530.4 353.9L529.2 352.7L527.8 352.2L526.3 352.6Z"/>
<path d="M132.0 161.8L133.6 160.9L135.4 160.2L137.0 159.3L138.9 159.5L140.7 158.6L142.6 159.3L144.4 158.7L146.2 158.8L145.7 160.1L145.5 161.5L144.6 162.6L142.6 163.0L140.6 162.8L138.7 163.5L137.0 163.1L135.4 162.6L133.7 162.0Z"/>
<path d="M138.7 168.5L139.8 167.7L141.2 167.7L142.1 168.9L142.3 170.4L142.9 171.8L141.5 171.8L140.4 171.0L139.8 169.6Z"/>
<path d="M163.9 270.2L164.8 268.6L166.4 267.7L167.8 267.8L168.9 266.9L168.0 268.0L168.1 269.4L166.3 270.0L165.2 271.4Z"/>
</g>
<g id="rSE1"><path d="M388.3 116.8L388.3 115.1L387.9 113.4L387.5 111.8L387.8 110.3L388.8 109.1L389.2 107.6L390.9 107.2L392.6 106.5L394.1 105.4L395.8 104.8L397.6 104.2L398.1 102.8L398.9 101.5L399.2 100.0L400.8 98.8L402.4 97.7L404.1 96.7L405.9 96.0L405.9 94.3L405.8 92.7L405.9 91.0L407.9 91.0L409.9 91.4L411.9 91.0L413.9 91.3L415.8 91.4L417.8 90.9L419.8 90.8L421.8 91.0L423.8 90.9L425.8 90.9L427.7 91.1L429.7 90.6L431.7 91.2L433.7 90.7L435.7 91.5L437.6 91.2L439.6 91.5L441.6 91.0L443.6 90.5L445.6 91.5L447.5 91.3L449.5 90.7L451.5 90.8L453.5 90.8L455.5 91.2L457.5 90.6L459.4 90.9L461.4 90.9L463.4 91.2L465.4 90.9L467.4 90.8L469.3 91.5L471.3 91.3L473.3 91.4L475.3 91.0L477.3 90.6L479.3 91.2L481.2 90.5L483.2 91.3L485.2 91.1L487.2 90.7L489.2 90.9L491.1 91.0L493.1 91.0L492.6 92.7L493.6 94.4L493.1 96.0L494.3 97.2L495.6 98.4L495.0 99.7L493.6 100.3L493.1 101.7L493.3 103.2L492.1 104.4L492.3 105.9L492.6 107.4L493.4 108.7L494.0 110.1L494.5 110.5L494.7 111.2L495.1 111.6L494.4 112.1L494.8 111.5L495.7 110.8L495.9 111.6L496.5 111.8L495.8 112.0L495.2 111.2L494.6 111.2L494.0 110.5L493.4 110.6L493.3 109.7L493.8 110.5L493.2 111.6L492.6 110.8L492.0 110.8L491.9 110.3L491.3 110.9L490.6 111.0L489.9 110.6L489.3 111.0L488.6 110.4L487.9 110.6L487.2 110.2L486.6 111.0L485.9 111.3L485.2 110.3L484.6 110.7L484.9 110.2L485.4 109.6L485.3 110.4L483.9 111.0L483.2 110.7L482.5 111.0L481.8 110.3L481.1 110.8L481.7 110.5L481.6 109.7L482.1 110.5L480.5 110.9L479.9 111.0L479.5 110.4L480.3 110.8L479.9 111.6L479.1 110.8L478.5 111.5L477.8 110.9L477.2 111.8L476.2 111.5L476.0 112.5L475.0 112.2L475.1 113.5L474.5 113.8L473.7 113.9L473.3 114.5L472.9 113.9L472.7 113.2L473.2 113.6L472.5 114.4L472.1 115.2L471.8 115.8L470.7 115.1L470.2 115.4L469.9 116.2L469.1 116.2L468.5 116.2L468.8 116.8L467.9 116.6L468.2 117.1L467.6 116.4L467.4 115.5L468.0 116.2L467.8 117.7L467.1 117.7L465.9 117.8L466.4 118.7L466.6 119.5L466.1 120.0L465.9 120.6L464.7 120.3L464.0 119.5L464.8 119.9L464.6 120.6L464.7 121.4L464.8 122.1L464.6 122.7L464.2 123.6L464.5 124.2L465.5 124.4L464.7 125.5L465.2 125.9L465.5 126.5L466.1 126.9L467.0 127.2L466.1 127.6L465.4 127.8L465.8 127.2L466.0 128.4L467.1 128.6L466.6 129.0L466.3 129.7L465.8 130.2L464.6 129.9L464.6 130.8L463.7 131.0L463.8 131.9L462.9 131.9L462.3 132.2L462.0 132.9L461.2 132.9L460.7 133.3L460.5 134.1L459.5 133.8L459.7 135.2L459.2 135.6L458.1 135.2L458.0 136.1L456.2 135.2L454.1 135.5L452.3 134.7L450.4 134.1L448.6 133.3L446.7 132.9L444.8 132.3L442.9 131.9L440.9 131.7L439.2 130.5L437.3 130.1L435.3 130.2L433.6 129.0L431.6 128.9L429.6 128.7L427.8 127.8L426.0 127.1L424.1 126.8L422.3 125.7L420.2 126.0L418.4 125.2L416.6 124.4L414.7 124.0L412.7 124.0L410.8 123.4L408.9 123.0L407.2 121.8L405.3 121.2L403.3 121.4L401.5 120.6L399.6 120.1L397.8 119.2L395.7 119.3L393.9 118.6L392.1 117.9L390.1 117.7L388.3 116.8Z"/></g>
<g id="rSE2"><path d="M388.3 116.8L390.1 117.7L392.1 117.9L393.9 118.6L395.7 119.3L397.8 119.2L399.6 120.1L401.5 120.6L403.3 121.4L405.3 121.2L407.2 121.8L408.9 123.0L410.8 123.4L412.7 124.0L414.7 124.0L416.6 124.4L418.4 125.2L420.2 126.0L422.3 125.7L424.1 126.8L426.0 127.1L427.8 127.8L429.6 128.7L431.6 128.9L433.6 129.0L435.3 130.2L437.3 130.1L439.2 130.5L440.9 131.7L442.9 131.9L444.8 132.3L446.7 132.9L448.6 133.3L450.4 134.1L452.3 134.7L454.1 135.5L456.2 135.2L458.0 136.1L457.0 135.8L456.5 136.4L456.0 136.9L455.8 138.0L454.7 137.5L453.9 137.5L453.3 137.9L453.3 139.1L452.6 139.4L451.8 139.4L451.3 140.0L450.3 139.7L450.1 140.6L449.6 141.1L448.6 140.6L447.9 140.8L447.5 141.6L447.2 142.6L446.4 142.6L445.7 141.8L445.3 141.0L446.0 141.5L445.6 142.4L444.8 142.3L444.3 142.9L443.8 143.5L443.0 143.5L442.2 143.4L441.8 144.1L441.2 144.5L440.5 144.6L439.7 144.6L439.2 145.1L438.4 144.9L437.8 145.3L437.6 146.4L436.6 145.8L436.5 147.2L435.7 147.0L435.4 146.7L435.0 146.3L435.7 146.5L434.9 147.0L434.7 148.0L433.6 147.2L433.0 147.6L432.8 148.7L432.1 148.9L431.2 148.9L431.0 149.8L430.5 150.4L430.0 150.8L429.7 151.6L428.8 151.5L428.6 151.1L427.9 150.8L429.1 150.8L427.7 151.3L427.8 152.5L426.8 152.2L426.3 151.5L427.2 151.8L427.3 153.0L426.1 152.6L426.1 153.7L425.2 153.9L425.1 153.7L425.6 155.0L424.6 155.1L424.9 156.1L424.5 156.6L423.6 156.8L423.1 157.3L423.1 158.1L422.4 158.4L422.5 159.3L421.9 159.6L421.9 160.4L421.2 160.8L420.3 161.0L420.3 161.8L420.2 162.5L419.6 162.3L419.1 162.6L419.6 161.9L419.1 162.7L418.9 163.3L419.0 164.2L418.8 164.8L418.5 165.5L417.8 165.9L418.1 166.7L417.4 167.2L417.6 168.0L417.9 168.7L417.6 169.4L417.2 169.9L416.8 170.5L417.2 171.2L416.0 171.8L416.9 172.5L416.9 173.2L417.1 173.9L417.0 174.5L415.9 175.2L417.0 175.9L416.9 176.5L416.8 177.2L414.9 176.6L412.9 177.1L411.0 176.1L408.9 176.8L407.0 175.8L405.0 175.9L403.1 175.5L401.1 175.0L399.1 175.2L397.2 174.7L395.2 174.8L393.2 174.8L391.3 173.9L389.3 174.3L387.3 173.7L385.4 173.5L383.4 173.4L381.4 172.9L379.5 172.7L377.4 173.1L375.5 172.2L373.5 172.3L371.6 171.7L369.6 172.2L367.6 172.1L365.7 171.3L364.4 170.4L363.3 169.0L361.9 168.2L360.6 167.1L360.0 165.5L359.7 163.9L359.8 162.1L359.5 160.4L359.9 158.7L359.6 157.0L359.0 155.4L359.1 153.7L358.1 152.1L357.9 150.4L358.1 148.7L358.3 147.2L358.8 145.7L359.1 144.2L359.8 142.8L361.2 141.6L362.8 140.8L364.1 139.5L365.7 138.6L367.2 137.6L369.0 137.6L370.6 136.7L372.5 137.0L374.1 136.1L375.7 135.4L377.4 135.2L379.1 135.1L380.8 134.4L381.3 132.8L381.6 131.1L380.5 129.9L379.3 128.9L378.3 127.7L379.8 126.4L381.3 125.1L382.4 123.5L383.8 122.3L385.2 121.2L386.0 119.5L387.3 118.3L388.3 116.8Z"/></g>
<g id="rSE3"><path d="M365.7 171.3L367.6 172.1L369.6 172.2L371.6 171.7L373.5 172.3L375.5 172.2L377.4 173.1L379.5 172.7L381.4 172.9L383.4 173.4L385.4 173.5L387.3 173.7L389.3 174.3L391.3 173.9L393.2 174.8L395.2 174.8L397.2 174.7L399.1 175.2L401.1 175.0L403.1 175.5L405.0 175.9L407.0 175.8L408.9 176.8L411.0 176.1L412.9 177.1L414.9 176.6L416.8 177.2L417.7 177.5L417.2 178.4L417.9 178.8L418.5 179.2L418.6 179.8L419.0 180.3L417.9 181.0L417.5 181.6L417.6 180.7L418.2 181.4L419.0 181.7L419.4 182.2L419.6 183.6L420.4 183.4L421.5 182.5L421.6 184.2L422.3 184.2L423.4 183.5L423.8 184.3L424.2 185.1L425.0 185.0L425.6 185.4L426.5 184.9L426.7 185.8L425.9 186.2L426.3 185.7L426.9 185.8L427.8 185.6L428.2 186.2L427.8 186.5L427.2 186.9L426.6 187.3L427.0 186.5L427.6 186.2L429.0 186.2L429.7 186.5L429.6 188.0L430.7 187.5L431.0 188.3L431.7 188.6L432.8 188.1L433.2 188.7L433.8 189.2L434.6 189.1L433.7 189.9L433.3 190.5L433.4 189.6L434.8 190.1L435.7 189.9L436.1 190.6L436.6 190.2L437.6 191.3L436.8 191.1L437.2 191.9L436.4 191.0L437.8 190.0L436.9 190.8L437.6 191.3L437.8 191.9L438.7 192.4L438.1 193.1L437.9 193.8L438.7 194.2L437.5 194.0L438.1 195.6L436.9 194.7L436.2 194.3L437.2 194.4L436.6 195.0L436.6 195.1L437.1 194.2L436.7 193.6L437.7 194.0L437.0 195.0L435.9 195.2L436.3 196.5L435.9 197.1L435.4 196.6L435.8 195.8L435.8 196.4L435.2 197.3L434.9 197.9L434.5 198.4L433.3 198.3L433.2 199.1L432.4 199.2L432.3 200.0L432.4 199.8L431.7 199.5L431.0 199.4L431.9 199.0L432.6 199.5L432.4 200.9L431.4 201.0L431.6 202.0L431.2 202.5L430.6 202.9L430.3 203.5L429.8 204.0L428.6 203.1L428.5 204.5L427.3 203.5L427.3 205.2L426.7 205.5L426.0 205.8L425.3 205.8L424.2 205.1L423.9 206.1L423.2 206.2L422.7 206.8L422.1 207.0L421.9 206.3L422.4 205.7L422.4 206.4L421.6 207.5L420.9 207.6L420.2 207.5L419.3 207.1L419.3 208.7L419.1 207.5L419.3 206.8L418.8 206.1L419.7 206.9L419.7 207.6L418.0 207.3L418.0 209.0L417.1 208.6L416.2 208.1L416.0 209.3L415.3 208.9L414.7 209.3L414.2 210.2L413.5 209.9L412.8 209.3L412.3 210.3L411.5 209.5L411.0 210.2L411.4 210.8L410.1 210.9L409.2 210.9L410.1 210.6L411.0 211.5L409.8 212.2L410.0 212.9L411.2 213.5L409.8 214.2L411.0 214.9L409.0 215.4L407.1 214.9L405.2 215.1L403.2 215.1L401.3 214.6L399.3 214.8L397.4 215.4L395.5 214.9L393.5 215.5L391.6 215.0L389.7 214.6L387.7 215.4L385.8 215.0L383.8 214.6L381.9 215.2L380.0 214.5L378.0 215.2L376.1 214.8L374.1 215.4L372.2 215.1L370.3 215.6L368.3 215.6L366.4 215.5L364.5 215.3L362.5 215.6L360.6 215.1L358.6 215.0L356.7 215.2L354.8 215.2L353.4 214.7L352.4 213.7L351.4 212.7L350.2 211.5L349.3 210.1L348.9 208.5L348.8 206.8L348.0 205.2L348.1 203.5L349.5 203.3L350.9 203.1L352.2 203.5L353.7 202.6L354.5 201.2L355.6 200.1L355.4 198.4L355.3 196.7L355.7 195.1L355.6 193.4L356.6 192.0L358.5 191.6L359.1 189.8L360.6 189.0L361.5 187.4L361.5 185.5L362.8 184.0L363.2 182.2L363.1 180.5L362.7 178.9L362.3 177.2L363.5 175.9L363.7 174.1L364.8 172.8L365.7 171.3Z"/></g>
<g id="rSE4"><path d="M354.8 215.2L354.2 215.9L353.9 216.6L353.3 217.3L353.0 218.1L352.2 218.6L352.7 219.3L353.3 220.0L354.1 220.6L354.7 221.3L355.0 222.1L355.9 222.6L356.3 223.4L356.4 224.4L356.9 225.2L357.5 225.9L358.2 226.6L358.6 227.5L359.5 228.0L359.7 229.0L360.3 229.7L360.8 230.5L361.5 231.1L361.8 232.0L362.9 232.3L363.3 233.1L364.0 233.8L364.0 234.9L364.9 235.3L365.4 236.1L365.7 237.0L365.8 237.8L365.8 238.7L366.6 238.9L365.9 239.6L366.1 240.4L366.8 241.1L366.5 242.0L366.8 242.9L367.1 243.7L367.7 244.4L367.5 245.4L367.4 246.3L368.4 247.0L368.2 247.9L368.2 248.8L368.5 249.7L369.0 250.5L369.8 251.1L369.5 252.1L369.9 253.0L370.9 252.8L371.9 252.9L372.8 253.4L373.4 252.8L373.9 253.0L374.7 253.7L375.7 253.8L376.6 253.1L377.6 253.5L378.6 253.3L379.5 252.8L380.5 252.8L381.4 252.6L382.4 253.0L382.7 252.0L383.5 251.3L383.6 250.2L384.6 249.7L385.0 248.8L385.7 248.1L386.6 247.6L387.1 246.7L387.4 245.6L388.5 245.3L389.2 244.6L390.1 244.6L391.0 243.9L392.0 244.1L392.8 243.6L393.7 243.3L394.7 243.2L395.6 242.8L396.6 242.9L397.6 242.9L398.3 242.3L399.3 242.4L400.1 242.2L400.8 241.6L401.7 241.4L402.6 241.2L402.9 240.3L403.2 239.3L403.5 238.4L404.4 237.8L404.6 236.8L405.7 236.3L405.9 235.3L406.4 234.5L405.9 233.3L406.3 232.4L406.6 231.5L407.4 230.7L407.1 229.6L407.7 228.7L408.3 227.9L408.5 226.9L409.0 226.2L409.2 225.3L409.3 224.3L410.2 223.7L410.0 222.6L410.6 221.9L411.0 221.1L411.0 220.0L412.0 219.5L412.2 218.5L412.4 217.6L413.2 216.9L413.5 216.0L412.6 215.7L411.8 215.2L411.0 214.9L409.0 215.4L407.1 214.9L405.2 215.1L403.2 215.1L401.3 214.6L399.3 214.8L397.4 215.4L395.5 214.9L393.5 215.5L391.6 215.0L389.7 214.6L387.7 215.4L385.8 215.0L383.8 214.6L381.9 215.2L380.0 214.5L378.0 215.2L376.1 214.8L374.1 215.4L372.2 215.1L370.3 215.6L368.3 215.6L366.4 215.5L364.5 215.3L362.5 215.6L360.6 215.1L358.6 215.0L356.7 215.2L354.8 215.2Z"/><path d="M408.5 242.0L409.5 240.5L409.9 238.6L411.1 237.1L411.4 235.1L412.7 233.7L413.2 231.8L414.8 230.5L415.6 228.9L416.0 226.9L416.8 227.8L415.8 229.3L415.5 231.3L413.9 232.6L413.5 234.5L412.8 236.1L412.4 237.9L411.0 239.1L410.2 240.7L409.6 242.4Z"/><path d="M428.6 231.1L428.8 229.4L429.4 227.8L429.5 226.0L430.3 224.4L431.6 223.0L433.4 221.9L434.5 220.2L436.1 219.7L437.9 219.9L439.5 218.8L441.2 218.6L440.4 220.2L438.7 221.2L437.8 222.8L437.2 224.2L435.8 225.1L435.0 226.4L434.5 227.8L433.4 229.3L432.4 230.7L431.1 232.0L429.7 232.1Z"/></g>
<g id="rFI"><path d="M554.4 96.0L556.1 97.1L557.5 98.4L558.6 100.1L559.4 101.5L560.4 102.9L561.9 103.8L562.2 105.7L563.6 106.8L564.3 108.4L564.3 110.3L565.3 111.8L564.3 113.2L563.1 114.2L562.0 115.5L561.1 116.8L561.9 118.4L562.7 120.0L562.8 121.9L563.9 123.1L564.1 124.9L565.3 126.1L565.2 128.0L564.7 129.8L564.9 131.8L564.4 133.6L564.0 135.3L563.9 137.0L563.5 138.6L563.6 140.3L564.0 142.0L564.1 143.7L563.7 145.4L564.4 147.0L564.4 148.7L564.1 150.5L565.0 152.1L565.3 153.7L565.4 155.4L565.3 157.1L565.7 159.0L565.2 160.8L564.9 162.7L564.8 164.5L565.3 166.3L564.0 167.8L562.1 168.5L560.6 169.7L559.0 170.8L557.7 172.2L556.3 173.7L554.6 174.7L552.8 175.4L550.8 175.9L549.3 177.2L547.7 178.3L545.9 179.2L544.5 180.8L542.6 181.4L540.8 181.5L539.4 182.9L537.5 182.7L535.9 183.4L534.2 184.0L532.6 184.2L530.9 184.2L529.2 184.2L527.5 184.3L525.8 184.8L524.2 185.5L522.5 185.0L520.8 185.1L519.1 185.6L517.4 185.6L515.8 185.8L514.2 186.6L512.4 186.3L510.7 186.7L510.1 186.8L509.4 186.9L508.6 186.1L508.0 187.1L507.3 186.5L506.8 187.9L506.0 187.3L505.3 187.4L504.7 187.5L504.1 188.4L503.3 187.4L502.8 188.5L502.0 188.1L501.4 188.6L500.7 188.4L500.0 188.2L499.5 189.0L498.6 187.9L498.1 189.1L497.2 187.9L496.7 188.9L496.9 188.2L496.4 187.6L496.3 186.8L496.7 187.4L497.3 188.1L496.0 188.4L495.6 189.7L494.8 189.4L494.2 189.6L493.6 189.9L492.7 188.9L492.6 188.9L493.5 188.1L492.9 189.0L492.3 190.0L491.5 189.9L491.1 190.5L490.3 190.3L489.6 190.4L489.2 191.0L488.6 190.4L488.8 189.3L489.1 190.2L488.7 191.7L488.2 192.0L487.3 191.7L486.7 191.9L486.4 192.8L485.6 192.6L484.8 192.8L484.4 191.4L483.4 192.5L482.9 191.8L482.1 192.1L481.8 190.4L481.1 190.5L480.5 190.1L479.8 190.0L478.9 190.9L478.1 190.9L478.0 189.4L477.8 189.6L478.9 189.5L478.1 189.9L476.9 190.5L476.8 189.0L475.8 189.8L475.2 189.5L475.6 188.8L475.3 188.2L476.2 188.8L474.9 188.5L474.1 188.7L473.4 188.8L472.9 188.2L472.1 188.4L470.5 187.7L468.8 187.2L467.1 186.5L467.6 185.5L467.5 184.9L466.4 184.8L465.9 184.3L466.1 183.5L466.1 182.8L464.9 182.7L464.5 182.2L464.6 181.4L464.6 180.8L465.8 180.3L465.4 179.6L464.4 178.8L465.9 179.0L465.4 178.2L464.8 177.5L465.8 177.0L466.0 176.5L465.4 176.2L465.4 175.6L465.9 175.0L465.4 174.2L465.9 173.6L466.8 173.0L465.6 172.2L466.4 172.9L467.2 173.0L466.2 173.1L466.4 171.6L466.1 170.9L466.3 170.2L466.8 169.6L466.3 168.9L467.1 168.0L466.8 167.7L467.4 167.4L466.9 168.0L466.4 167.5L465.6 167.0L466.2 166.2L466.1 165.5L465.2 165.0L465.3 164.4L466.3 164.7L467.3 164.1L466.2 165.2L465.5 163.7L465.3 163.0L464.6 162.5L464.4 161.9L465.4 161.0L464.6 160.5L465.2 159.6L464.2 159.2L464.3 158.4L464.2 157.7L464.3 157.0L463.4 156.5L462.9 155.9L463.1 155.1L464.1 154.2L462.9 153.8L463.0 153.1L463.1 152.5L464.1 151.9L463.9 151.2L464.4 150.6L464.3 150.0L464.4 149.3L464.3 148.6L463.8 147.9L464.4 147.6L465.2 147.9L466.0 147.8L466.6 148.6L465.6 148.1L465.5 147.0L465.6 148.1L466.5 147.6L466.8 146.4L467.5 146.7L468.4 147.2L468.8 146.2L469.4 145.6L470.4 146.8L470.7 145.3L471.4 145.2L471.2 146.4L470.9 147.3L470.7 146.4L472.1 145.0L472.8 146.0L473.2 146.7L472.5 146.2L472.8 145.1L473.5 145.1L474.4 145.9L475.0 145.5L475.5 144.5L475.9 143.8L476.8 144.1L477.3 143.6L478.1 143.6L478.9 143.8L479.6 143.2L480.1 143.9L479.2 143.7L478.9 142.2L479.9 142.6L480.3 141.9L481.0 141.8L481.6 141.4L482.2 141.2L482.7 140.7L483.7 140.9L483.7 139.7L484.2 139.3L485.3 139.8L485.8 139.3L486.2 138.7L487.2 139.0L487.7 138.3L488.5 138.7L487.4 138.7L487.2 137.8L487.9 137.5L488.3 137.0L489.2 137.1L489.9 137.1L490.2 136.2L490.6 135.6L491.6 135.9L491.8 134.9L492.9 135.4L493.1 134.5L493.5 133.8L494.7 134.4L494.6 133.1L495.6 133.4L495.6 132.3L496.2 132.1L497.0 132.0L497.4 131.4L498.5 131.9L498.2 130.3L499.0 130.3L499.3 129.6L500.7 130.4L501.0 129.7L501.0 128.6L501.4 128.1L502.2 128.1L502.2 128.6L502.5 129.2L501.7 128.8L502.5 127.3L503.3 127.3L504.3 127.6L504.6 126.8L504.9 126.1L505.5 126.0L506.3 126.2L506.9 126.0L507.6 125.9L508.0 125.3L508.4 124.5L508.8 124.0L509.9 124.7L510.3 124.3L510.7 123.6L511.0 122.9L511.4 122.3L511.6 121.7L510.9 120.9L511.9 120.4L511.6 119.7L510.9 118.9L511.2 118.3L511.6 117.7L512.0 116.5L510.4 116.8L510.6 115.8L510.1 115.3L510.1 114.4L509.1 114.3L508.5 113.9L507.7 113.9L507.3 113.3L506.5 113.4L506.0 112.8L505.7 112.1L506.3 111.7L506.1 112.3L505.4 112.5L504.7 112.4L504.6 111.0L503.5 111.8L503.0 111.2L502.3 111.0L501.7 111.4L500.9 110.4L500.4 111.0L499.8 111.5L499.1 111.4L498.3 110.7L497.8 111.4L497.1 111.4L496.5 111.8L496.4 110.9L495.9 110.5L495.0 110.8L494.5 110.4L494.0 110.1L493.4 108.7L492.6 107.4L492.3 105.9L492.1 104.4L493.3 103.2L493.1 101.7L493.6 100.3L495.0 99.7L495.6 98.4L494.3 97.2L493.1 96.0L493.6 94.4L492.6 92.7L493.1 91.0L495.1 90.7L497.1 91.5L499.0 91.5L501.0 90.9L503.0 90.7L505.0 90.7L506.9 90.6L508.9 90.8L510.9 91.3L512.9 91.1L514.9 91.1L516.8 91.1L518.8 90.9L520.8 90.8L522.8 90.5L524.7 91.1L526.7 90.5L528.7 90.7L530.7 91.1L532.6 91.3L534.6 91.3L536.6 90.9L538.6 90.7L540.5 91.3L542.5 90.7L544.5 91.5L546.5 90.9L548.4 91.2L550.4 91.3L552.4 91.2L554.4 91.0L554.6 92.7L554.6 94.4Z"/></g>
<g id="rEE"><path d="M500.7 218.6L501.1 217.3L500.7 216.0L499.6 214.5L499.0 212.7L497.4 212.2L495.6 212.1L494.0 211.8L492.7 210.9L491.9 209.4L490.6 208.5L490.6 206.5L490.3 204.6L490.6 202.6L492.1 201.4L494.0 201.1L495.6 200.1L497.3 199.5L498.9 198.9L500.8 198.9L502.3 198.1L504.0 197.6L505.8 197.8L507.4 197.5L509.0 196.8L510.7 196.4L512.5 197.0L514.1 196.4L515.8 196.3L517.5 196.5L519.1 197.1L520.8 197.1L522.5 197.1L524.4 197.4L526.4 197.7L528.4 197.8L530.4 197.6L532.3 198.2L534.2 198.4L536.0 198.9L537.9 198.6L539.7 199.3L541.6 198.7L543.5 199.3L543.2 200.8L542.4 202.1L541.8 203.5L540.7 204.9L539.4 206.1L538.4 207.7L537.7 209.0L537.7 210.6L537.7 212.2L536.7 213.5L537.5 215.1L537.8 216.8L537.6 218.6L538.4 220.2L537.3 221.9L535.3 222.8L534.2 224.4L532.6 224.5L530.9 224.7L529.2 224.6L527.5 224.4L526.0 223.3L524.1 222.8L522.5 221.9L520.7 221.3L519.1 220.3L517.4 219.4L515.8 219.2L514.1 218.8L512.5 218.3L510.7 218.6L508.8 218.7L506.8 218.4L504.9 218.6L503.5 218.4L502.1 218.0L500.7 218.6Z"/><path d="M471.3 212.7L472.7 212.0L474.2 211.7L475.5 211.0L477.1 210.2L478.9 210.3L480.4 209.3L482.2 209.3L483.9 209.5L485.6 209.8L487.2 210.2L486.0 211.6L485.6 213.5L484.0 214.3L482.2 214.5L480.5 214.6L478.9 215.2L477.1 215.5L475.7 216.8L473.8 216.9L472.4 216.2L471.3 215.2L471.6 213.9Z"/><path d="M473.8 206.0L475.6 205.8L477.2 204.8L478.9 204.3L480.5 205.0L482.2 204.9L483.9 205.1L482.7 206.7L482.2 208.5L480.3 208.2L478.3 208.0L476.3 208.5L475.4 206.9Z"/></g>
<g id="rLV"><path d="M462.1 242.9L461.4 241.0L461.0 239.0L461.2 237.0L461.9 235.4L462.0 233.5L463.3 232.0L463.8 230.3L465.0 229.0L466.4 227.9L467.5 226.5L468.8 225.3L470.5 224.8L472.0 223.5L473.9 223.6L475.5 222.8L477.2 223.3L478.9 222.8L480.5 222.8L481.5 224.2L483.4 224.5L484.4 225.8L485.6 226.9L487.2 227.6L488.3 228.8L489.6 229.8L490.6 231.1L492.3 231.2L494.0 230.8L495.6 230.6L497.3 230.3L497.7 228.7L499.1 227.9L500.2 226.8L500.7 225.3L501.0 223.6L500.7 221.9L500.1 220.2L500.7 218.6L502.1 218.0L503.5 218.4L504.9 218.6L506.8 218.4L508.8 218.7L510.7 218.6L512.5 218.3L514.1 218.8L515.8 219.2L517.4 219.4L519.1 220.3L520.7 221.3L522.5 221.9L524.1 222.8L526.0 223.3L527.5 224.4L529.2 224.6L530.9 224.7L532.6 224.5L534.2 224.4L535.4 225.6L536.8 226.4L538.4 226.9L538.6 228.9L538.6 230.9L539.3 232.8L540.1 234.2L541.4 235.3L542.4 236.6L543.5 237.9L543.9 239.3L543.2 240.6L543.5 242.0L542.2 243.6L540.6 244.7L539.4 246.2L537.6 247.1L536.1 248.2L534.1 247.9L532.7 249.3L530.9 249.6L529.4 250.9L527.4 251.0L525.8 252.1L524.9 251.4L524.2 250.4L522.3 249.7L520.6 248.6L519.1 247.4L517.4 246.2L516.0 245.0L513.9 244.9L512.5 243.6L510.7 242.9L509.5 241.9L508.1 241.0L506.5 240.4L505.1 240.9L503.6 241.2L502.3 242.1L500.7 242.0L499.0 242.1L497.4 241.4L495.7 241.2L493.9 241.7L492.3 241.7L490.6 241.2L488.9 241.4L487.2 241.1L485.6 241.6L483.9 240.7L482.2 240.7L480.5 241.2L478.9 241.1L477.2 240.7L475.5 241.7L473.8 240.9L472.1 241.1L470.5 241.2L468.8 241.8L467.2 242.3L465.5 242.6L463.8 242.6L462.1 242.9Z"/></g>
<g id="rLT"><path d="M462.1 242.9L463.8 242.6L465.5 242.6L467.2 242.3L468.8 241.8L470.5 241.2L472.1 241.1L473.8 240.9L475.5 241.7L477.2 240.7L478.9 241.1L480.5 241.2L482.2 240.7L483.9 240.7L485.6 241.6L487.2 241.1L488.9 241.4L490.6 241.2L492.3 241.7L493.9 241.7L495.7 241.2L497.4 241.4L499.0 242.1L500.7 242.0L502.3 242.1L503.6 241.2L505.1 240.9L506.5 240.4L508.1 241.0L509.5 241.9L510.7 242.9L512.5 243.6L513.9 244.9L516.0 245.0L517.4 246.2L519.1 247.4L520.6 248.6L522.3 249.7L524.2 250.4L524.9 251.4L525.8 252.1L525.1 253.7L524.9 255.5L524.2 257.1L522.7 257.9L521.7 259.1L520.8 260.5L519.5 261.4L518.4 262.6L517.4 263.9L517.0 265.3L515.9 266.5L515.8 268.1L513.9 268.5L512.7 270.2L510.7 270.6L508.9 270.7L507.5 272.2L505.9 272.8L504.0 273.1L502.5 273.9L500.6 273.7L499.0 274.6L497.3 274.8L495.7 275.0L494.2 274.0L492.7 273.9L491.1 273.5L490.3 271.9L488.9 270.8L487.4 269.8L485.9 268.9L484.0 269.1L482.4 268.3L480.7 267.6L481.4 265.8L481.4 263.9L481.4 262.4L481.7 261.0L482.2 259.7L480.5 258.9L478.7 258.3L477.2 257.1L475.5 257.3L473.8 257.0L472.1 256.9L470.5 256.3L468.7 256.4L467.0 255.8L465.4 255.0L463.8 254.6L462.6 253.9L461.2 253.8L462.1 252.2L462.1 250.3L462.9 248.8L462.1 246.9L461.9 244.9L462.1 242.9Z"/></g>
<g id="rDK1"><path d="M340.5 222.5L339.7 222.5L339.1 223.1L338.4 223.4L337.8 223.8L337.2 224.4L336.6 224.9L335.6 224.4L335.0 225.0L334.8 225.9L333.7 225.7L333.5 226.5L333.2 226.8L332.7 226.6L332.0 227.0L331.9 227.9L331.0 228.0L330.2 228.3L329.9 229.2L329.3 229.7L328.6 230.1L328.0 230.6L327.0 230.5L326.3 231.1L325.6 231.0L324.9 231.1L324.2 231.4L323.4 230.8L322.7 230.7L322.0 231.0L321.3 230.9L320.6 231.1L320.0 231.7L319.5 232.2L319.4 232.2L319.5 232.8L318.9 232.3L318.7 231.9L318.0 232.0L317.3 232.3L317.2 233.2L317.1 234.0L316.5 233.5L316.1 234.1L315.9 234.9L316.2 235.2L315.0 235.0L315.3 235.9L314.7 236.5L314.8 237.3L314.2 237.9L314.2 238.6L313.7 239.3L313.5 240.0L313.5 240.7L313.3 241.4L314.0 242.2L313.7 242.9L313.1 243.6L313.3 244.3L313.0 245.0L313.5 245.7L313.4 246.0L314.1 245.8L313.3 246.2L312.8 246.4L313.3 247.1L313.5 247.9L313.3 248.6L313.3 249.3L313.0 250.0L313.5 250.5L313.5 251.3L314.0 251.7L314.0 252.5L314.5 253.0L314.9 253.6L316.0 253.1L316.3 254.0L317.1 253.9L317.4 254.7L318.0 255.0L318.5 255.5L318.9 256.1L319.7 256.5L319.8 257.3L320.2 257.4L320.0 258.0L320.7 258.6L319.8 259.4L320.5 260.0L321.0 260.6L320.4 261.3L322.0 261.0L323.7 260.6L325.4 260.3L327.1 260.6L328.8 260.5L328.5 259.8L328.5 259.0L328.3 258.2L328.9 257.5L328.2 257.7L328.2 256.6L329.0 256.0L328.7 255.1L329.8 254.6L329.8 253.8L330.0 253.0L330.5 252.6L330.4 251.9L330.0 251.5L330.6 251.6L330.5 251.8L330.7 251.1L331.1 250.6L332.0 250.5L332.8 250.3L331.9 249.2L333.2 249.5L333.9 249.1L334.3 248.4L333.9 247.9L335.0 248.0L335.1 247.2L335.4 246.5L335.9 246.0L336.5 245.6L337.0 245.0L337.6 244.3L338.4 244.1L339.3 244.3L340.0 244.0L340.4 243.1L341.2 243.0L341.9 243.0L342.5 242.5L343.3 242.8L344.0 242.5L343.6 241.7L343.9 240.9L343.8 240.2L344.5 239.5L343.9 239.2L343.6 239.9L343.1 239.5L342.7 238.5L342.0 238.5L341.2 238.6L340.7 238.1L340.0 238.0L339.5 237.5L339.1 236.8L338.5 236.5L338.2 235.8L338.5 235.0L337.6 234.3L337.9 233.5L337.9 232.8L338.0 232.0L338.4 231.4L338.2 230.5L339.2 230.1L338.9 229.1L339.4 228.6L340.0 228.0L339.5 227.2L340.0 226.4L340.4 225.7L340.4 224.9L340.3 224.1L340.4 223.3L340.5 222.5Z"/><path d="M333.0 252.5L333.6 252.1L334.5 252.9L334.4 252.3L334.9 251.6L335.7 251.5L336.2 251.0L336.3 252.2L337.0 251.0L337.6 251.3L338.3 251.6L338.9 251.8L339.6 251.8L340.3 251.3L340.9 251.8L341.0 251.5L341.7 251.8L341.7 252.8L342.1 253.4L343.2 253.3L343.5 254.0L343.4 254.8L342.9 255.5L343.3 256.2L343.5 257.0L342.6 257.0L342.5 257.8L342.1 258.3L341.1 258.1L341.0 259.0L340.2 259.3L339.4 259.0L338.6 258.5L337.8 259.3L337.0 259.0L336.6 258.4L336.1 257.9L335.1 258.3L334.8 257.3L334.0 257.5L333.7 256.9L333.9 256.1L333.2 255.6L333.0 255.0L332.8 254.4L332.9 253.8L332.8 253.1Z"/><path d="M344.5 227.5L345.5 227.1L346.5 227.2L346.8 228.5L345.8 228.9L344.8 228.8Z"/><path d="M351.5 236.2L353.0 236.0L353.2 237.0L351.7 237.2Z"/><path d="M340.0 246.2L341.2 246.0L341.6 247.0L341.4 248.0L340.2 248.2L340.0 247.2Z"/><path d="M337.5 259.5L338.2 259.0L339.0 259.0L339.4 259.7L338.2 260.0L339.5 260.5L338.0 261.0Z"/></g>
<g id="rDK2"><path d="M346.5 249.5L347.4 249.4L347.4 248.4L347.8 247.8L348.9 247.9L349.0 247.0L349.7 247.0L350.4 247.3L351.0 247.1L351.7 246.6L352.1 247.6L352.4 247.1L353.0 246.5L353.7 246.4L354.4 246.0L355.1 245.9L355.9 245.8L356.7 246.0L357.5 245.9L357.6 245.7L357.4 246.3L357.2 245.8L358.0 245.0L358.7 244.7L359.6 245.4L360.3 245.2L360.8 244.4L361.5 244.0L362.3 244.1L363.0 244.0L363.7 244.3L364.0 245.0L364.7 245.3L365.0 246.0L364.9 246.7L365.1 247.4L365.4 248.1L365.6 248.8L365.5 249.5L364.7 249.9L364.9 250.8L364.6 251.5L364.0 252.0L363.6 252.7L363.6 253.5L362.9 254.1L363.0 255.0L362.3 255.3L362.2 256.2L361.4 256.4L361.0 257.0L360.5 257.6L359.8 257.6L359.0 257.4L358.7 258.5L358.0 258.5L357.3 258.1L356.5 258.1L355.9 257.3L355.0 257.5L354.2 257.6L353.5 257.0L353.6 256.4L352.7 257.3L352.0 257.0L351.7 256.2L350.8 256.2L350.2 255.8L349.4 255.6L349.0 255.0L349.2 254.0L348.4 253.7L348.1 253.0L348.0 252.5L348.3 252.0L348.3 252.8L347.5 252.5L346.9 251.9L347.4 250.9L346.4 250.4Z"/><path d="M346.5 262.0L347.3 261.9L348.0 261.7L348.8 261.5L349.2 260.6L350.0 260.5L350.6 260.7L351.3 260.6L352.0 260.8L352.6 261.1L353.4 260.8L354.0 261.0L354.6 261.6L355.4 261.9L356.2 261.8L357.0 262.0L357.8 261.8L358.0 261.0L358.8 260.8L359.0 260.0L359.6 259.8L360.4 259.8L361.0 259.5L360.5 260.0L360.3 260.7L360.9 261.4L360.5 262.0L359.6 261.8L359.4 262.7L358.6 262.8L358.1 263.2L357.5 263.6L357.0 264.0L356.3 264.3L355.6 263.4L354.9 263.5L354.1 263.6L353.4 263.5L353.4 263.2L352.7 264.1L352.0 264.0L351.4 263.4L350.7 263.9L350.0 263.7L349.3 263.7L348.7 263.3L348.0 263.5L347.7 262.8L347.1 262.4Z"/><path d="M388.0 256.0L389.3 255.0L391.0 255.0L392.1 256.0L393.5 256.5L392.8 257.7L393.0 259.0L391.4 258.7L390.0 259.5L389.0 259.0L388.5 258.0L388.2 257.0Z"/><path d="M344.2 258.0L345.0 257.8L344.9 259.2L345.4 260.5L344.6 260.7L344.3 259.4Z"/></g>
<g id="rPL"><path d="M385.8 276.4L387.6 276.0L389.0 274.8L390.4 273.5L392.0 272.6L393.3 271.4L395.2 270.9L396.9 270.7L398.5 269.9L400.1 269.1L401.9 268.8L403.6 268.4L405.1 267.5L406.8 266.8L408.5 266.2L410.4 266.2L411.9 265.1L413.8 265.1L415.4 264.5L416.9 263.3L418.5 262.6L420.3 262.6L422.1 262.9L423.7 262.0L425.4 261.9L427.0 261.5L428.7 261.7L430.4 262.1L432.0 263.1L433.8 263.4L435.0 264.5L435.2 266.3L436.3 267.6L438.2 267.7L440.1 267.6L441.9 267.0L443.8 267.1L445.5 266.7L447.2 267.3L448.9 267.4L450.5 266.6L452.2 266.7L453.9 267.1L455.6 266.5L457.2 267.5L458.9 266.6L460.6 267.2L462.3 267.0L464.0 267.1L465.7 266.6L467.3 267.7L469.0 267.5L470.7 267.2L472.4 267.0L474.0 267.6L475.7 268.0L477.4 268.0L479.1 267.6L480.7 267.6L482.4 268.3L484.0 269.1L485.9 268.9L487.4 269.8L488.9 270.8L490.3 271.9L491.1 273.5L491.8 275.2L492.6 276.8L493.3 278.5L493.6 280.2L494.3 281.8L494.5 283.6L495.0 285.2L494.7 286.9L494.3 288.5L494.2 290.2L492.9 291.3L491.9 292.6L491.1 294.0L490.0 295.3L489.7 297.0L489.1 298.6L489.5 300.5L490.6 302.1L491.6 303.7L491.5 305.3L491.6 307.0L491.6 308.7L491.9 310.5L492.8 312.0L493.3 313.7L494.3 315.3L494.7 317.2L495.8 318.8L495.3 320.5L494.5 322.0L494.2 323.8L493.1 325.2L491.7 326.4L490.5 327.6L489.1 328.8L487.9 329.9L486.5 330.8L485.4 332.0L484.1 333.0L483.6 334.6L482.5 335.9L481.6 337.2L481.9 338.9L481.6 340.6L480.3 339.8L478.8 339.3L477.4 338.9L475.7 338.3L474.1 337.7L472.4 337.4L470.7 337.2L468.9 336.8L467.3 336.3L465.6 335.5L463.8 335.6L462.2 336.3L460.6 337.2L458.9 336.9L457.2 337.0L455.6 337.5L453.9 337.2L452.3 338.1L450.4 338.0L448.9 338.9L447.3 338.5L446.2 337.5L444.9 336.7L443.8 335.5L442.1 335.0L440.5 335.6L438.8 335.1L437.1 335.5L435.8 334.3L434.6 333.0L433.5 331.3L431.6 330.4L430.4 328.8L428.6 328.1L426.9 327.4L425.3 326.4L423.7 325.5L422.2 324.5L420.3 324.5L418.7 323.8L417.0 323.6L415.2 323.7L413.6 323.0L411.9 323.1L410.3 323.8L409.2 322.4L408.4 320.7L406.9 319.6L405.3 318.7L403.6 318.4L401.9 318.4L400.2 317.9L398.4 317.6L396.9 316.6L395.2 316.2L393.5 315.1L391.5 314.6L389.8 313.7L389.9 311.7L390.3 309.8L390.3 307.8L389.9 306.0L388.7 304.5L388.6 302.7L387.8 301.1L387.1 299.5L387.4 297.7L387.7 296.0L386.9 294.4L386.3 292.8L385.0 291.6L384.1 290.1L383.6 288.5L383.3 286.5L384.5 284.6L384.4 282.6L384.8 281.1L385.6 279.6L385.1 277.9L385.8 276.4Z"/></g>
<g id="rDE"><path d="M301.3 278.4L303.3 278.3L305.0 277.1L307.0 277.2L308.9 276.7L310.7 276.0L312.7 276.6L314.5 275.9L316.4 275.9L318.1 275.0L319.9 274.4L321.5 273.4L320.5 272.1L320.2 270.3L319.0 269.2L319.4 268.0L320.4 267.2L319.0 266.4L317.9 265.2L317.0 263.9L317.8 262.6L319.3 262.2L320.4 261.3L322.0 261.0L323.7 260.6L325.4 260.3L327.1 260.6L328.8 260.5L329.7 261.8L331.1 262.6L332.1 263.9L333.6 265.1L335.7 265.2L337.1 266.4L338.6 267.7L340.4 268.7L342.1 269.7L343.9 270.6L345.5 271.5L347.2 272.2L348.8 271.4L350.6 271.1L352.2 270.6L353.8 269.7L355.6 269.4L357.4 269.1L359.0 268.1L360.6 267.8L362.3 267.5L364.0 267.7L365.7 267.2L367.4 267.0L369.1 266.6L370.6 265.6L372.4 265.5L373.4 267.0L374.9 267.8L376.7 268.2L377.9 269.4L379.1 270.6L380.2 271.7L381.5 272.7L382.4 273.9L383.4 275.0L384.7 275.5L385.8 276.4L385.1 277.9L385.6 279.6L384.8 281.1L384.4 282.6L384.5 284.6L383.3 286.5L383.6 288.5L384.1 290.1L385.0 291.6L386.3 292.8L386.9 294.4L387.7 296.0L387.4 297.7L387.1 299.5L387.8 301.1L388.6 302.7L388.7 304.5L389.9 306.0L390.3 307.8L390.3 309.8L389.9 311.7L389.8 313.7L388.1 314.5L386.3 315.0L384.5 315.5L382.7 316.2L381.1 316.8L379.2 316.8L377.6 317.5L376.1 318.6L374.3 318.7L372.7 319.4L371.0 319.9L369.1 319.7L367.7 321.1L365.9 321.2L364.3 322.0L362.7 322.8L360.8 322.9L359.2 323.7L360.4 324.9L360.5 326.8L361.7 327.9L362.7 329.3L363.1 330.9L364.3 332.1L365.3 333.8L366.7 335.1L368.4 336.2L369.3 338.0L370.1 339.7L371.7 340.7L372.5 342.3L373.9 343.5L375.4 344.7L377.4 345.0L378.9 346.3L377.9 347.7L376.9 349.1L375.6 350.2L373.8 351.1L372.3 352.5L370.3 353.0L368.9 354.4L369.5 356.0L368.9 357.8L369.7 359.4L368.3 358.9L366.8 359.2L365.5 358.6L363.7 358.7L362.1 359.5L360.5 360.3L358.7 360.4L357.2 361.5L355.4 361.2L353.8 361.9L352.1 362.5L350.5 362.8L348.7 362.1L347.0 362.8L345.4 363.5L343.7 363.7L342.0 363.9L340.3 364.5L338.7 364.8L337.0 364.4L335.3 364.0L333.6 364.5L332.4 363.3L330.9 362.6L329.4 361.9L327.5 361.8L325.6 361.1L323.6 361.1L322.0 360.2L320.2 360.1L318.5 359.4L316.9 360.1L315.2 360.2L313.4 359.6L311.8 360.3L309.8 360.1L307.9 360.8L305.9 361.1L306.5 359.3L306.8 357.4L307.2 355.6L307.4 353.9L308.4 352.3L307.9 350.4L308.9 348.9L309.8 347.3L309.6 345.3L310.6 343.8L311.4 342.2L309.6 341.4L307.7 340.6L305.7 340.6L303.9 339.7L302.4 338.6L300.4 338.7L298.7 338.1L297.1 337.1L295.4 336.8L294.1 335.6L292.6 334.9L291.3 333.8L292.2 332.1L293.0 330.4L291.7 329.6L291.5 328.0L290.4 327.1L288.7 327.0L287.1 326.2L288.3 325.2L289.7 324.4L290.4 322.9L290.0 321.2L288.7 320.1L287.9 318.7L288.7 317.2L288.6 315.6L288.8 314.0L290.0 312.7L290.6 311.0L291.3 309.5L290.6 307.8L290.2 306.1L289.6 304.4L290.7 303.2L290.8 301.4L292.1 300.2L293.4 299.2L294.3 297.7L296.2 297.4L297.1 296.0L298.0 294.6L299.2 293.3L299.8 291.7L300.5 290.2L300.9 288.5L301.0 286.7L302.2 285.2L302.2 283.5L301.6 281.8L301.4 280.1L301.3 278.4Z"/></g>
<g id="rNL"><path d="M260.2 306.9L261.4 305.6L263.0 304.9L264.3 303.6L266.0 303.0L267.1 301.6L267.7 299.8L269.2 298.6L270.0 297.0L271.2 295.7L271.3 293.9L272.5 292.6L273.0 291.0L273.3 289.4L274.0 288.0L274.8 286.8L276.0 286.0L277.2 285.0L278.8 285.0L280.0 284.0L281.6 283.3L283.5 283.0L285.0 282.0L286.5 281.0L288.2 280.7L290.0 280.5L291.5 280.1L293.0 279.8L294.4 279.3L296.0 279.5L297.7 278.8L299.6 278.8L301.3 278.4L301.4 280.1L301.6 281.8L302.2 283.5L302.2 285.2L301.0 286.7L300.9 288.5L300.5 290.2L299.8 291.7L299.2 293.3L298.0 294.6L297.1 296.0L296.2 297.4L294.3 297.7L293.4 299.2L292.1 300.2L290.8 301.4L290.7 303.2L289.6 304.4L290.2 306.1L290.6 307.8L291.3 309.5L290.6 311.0L290.0 312.7L288.8 314.0L288.8 312.8L287.9 312.0L287.4 310.6L286.4 309.4L285.4 308.3L283.6 308.5L282.2 309.9L280.4 310.0L278.7 309.9L277.1 309.1L275.4 308.9L273.7 309.0L272.0 308.6L270.3 308.2L268.7 307.7L266.9 307.8L265.3 307.5L263.6 307.5L261.8 307.7L260.2 306.9Z"/></g>
<g id="rBE"><path d="M248.5 313.7L250.1 313.1L251.6 312.3L252.9 311.1L254.4 310.3L255.7 309.2L257.4 308.7L258.9 308.0L260.2 306.9L261.8 307.7L263.6 307.5L265.3 307.5L266.9 307.8L268.7 307.7L270.3 308.2L272.0 308.6L273.7 309.0L275.4 308.9L277.1 309.1L278.7 309.9L280.4 310.0L282.2 309.9L283.6 308.5L285.4 308.3L286.4 309.4L287.4 310.6L287.9 312.0L288.8 312.8L288.8 314.0L288.6 315.6L288.7 317.2L287.9 318.7L288.7 320.1L290.0 321.2L290.4 322.9L289.7 324.4L288.3 325.2L287.1 326.2L286.3 327.6L286.1 329.1L285.9 330.7L285.4 332.1L284.1 332.5L282.9 333.0L281.7 331.6L280.4 330.4L278.7 329.6L277.0 329.2L275.4 328.5L273.7 328.8L272.8 327.6L271.1 327.5L270.3 326.2L269.1 326.9L267.8 327.1L267.0 325.8L267.7 324.2L266.9 322.9L265.2 323.0L263.6 322.3L261.9 322.0L260.5 321.0L259.2 319.7L257.7 318.7L256.0 318.4L254.4 317.8L252.7 317.9L251.6 316.1L249.8 315.2L248.5 313.7Z"/></g>
<g id="rGB"><path d="M161.3 209.6L163.1 208.9L165.0 209.6L166.7 208.5L168.6 208.9L170.5 208.9L172.2 208.4L174.2 208.5L176.2 208.6L178.2 208.6L180.1 209.3L182.1 209.2L184.0 209.6L182.7 210.8L181.5 212.1L180.0 213.3L178.7 214.8L176.6 215.1L175.4 216.7L173.7 217.5L172.2 218.8L171.2 220.1L170.5 221.6L169.7 223.0L171.6 222.9L173.4 222.6L175.3 222.7L177.1 222.5L179.0 222.2L180.8 222.7L182.7 222.3L184.5 222.3L186.3 222.5L188.2 222.1L190.0 221.9L191.9 222.5L193.7 222.9L195.6 222.1L197.4 222.5L198.2 223.7L198.3 225.2L199.1 226.4L197.9 227.7L197.4 229.6L196.1 230.9L195.0 232.4L194.1 233.9L193.2 235.6L191.9 237.0L190.7 238.3L189.9 240.0L188.5 241.3L186.7 242.1L185.7 243.7L184.0 243.7L182.3 243.6L180.6 243.8L179.0 244.6L177.3 244.7L178.9 245.1L180.6 245.4L182.3 245.7L184.0 245.6L185.7 246.1L187.4 245.9L189.1 246.1L190.7 246.8L192.4 246.7L193.8 247.6L194.8 249.0L195.9 250.3L197.4 250.9L198.4 252.3L199.5 253.6L199.7 255.4L200.8 256.8L201.2 258.5L202.8 259.5L203.5 261.1L204.1 262.7L205.6 263.7L207.3 264.5L208.5 265.9L210.0 266.9L211.4 268.0L213.3 268.5L214.7 269.6L215.9 271.1L217.0 272.6L217.6 274.4L218.4 276.1L219.3 277.3L220.5 278.3L220.6 280.1L221.7 281.1L222.5 282.9L223.7 284.4L224.3 286.2L226.0 286.3L227.6 287.1L229.2 287.5L231.0 287.3L232.4 288.0L233.9 288.3L235.2 289.4L236.8 289.5L237.6 290.9L238.5 292.3L239.4 293.7L238.8 295.4L239.3 297.2L238.5 298.8L237.4 300.3L235.8 301.1L234.3 302.1L233.0 303.1L231.6 303.8L230.1 304.6L228.5 305.4L227.1 306.6L225.9 308.0L227.6 307.9L229.3 308.4L231.0 308.8L232.7 308.8L233.5 310.1L234.3 311.3L232.9 311.9L232.0 313.3L230.7 314.0L229.3 314.7L227.5 314.5L226.0 315.5L224.4 316.2L222.6 316.0L220.9 316.4L219.2 316.5L217.6 316.8L215.9 316.7L214.2 316.6L212.5 316.4L210.8 316.3L209.2 317.0L207.5 317.0L205.8 317.2L204.1 317.0L202.4 317.3L200.8 317.7L199.1 318.1L197.4 318.4L195.7 317.9L194.1 317.5L192.4 317.2L190.6 316.9L189.1 317.8L187.3 317.5L185.7 318.1L184.0 318.5L182.4 319.0L180.6 318.3L179.0 318.9L177.2 319.6L175.7 320.7L174.1 321.8L172.2 322.2L170.6 322.5L168.8 322.2L167.2 322.7L165.5 323.1L163.8 323.9L162.1 324.5L160.3 325.2L158.8 326.4L157.2 327.0L155.5 327.3L153.8 327.3L154.7 326.1L155.5 324.8L157.4 324.0L158.8 322.6L160.7 322.0L162.2 320.6L162.6 319.0L164.3 318.3L165.1 317.0L165.5 315.5L167.3 314.9L169.0 314.0L170.5 312.9L172.2 312.2L173.8 311.1L175.5 310.8L177.3 310.4L179.0 309.7L180.5 308.7L182.2 308.1L183.9 307.4L185.7 307.1L187.0 306.1L188.6 305.4L190.2 304.8L191.5 303.8L189.6 304.2L187.7 304.8L185.9 305.6L184.0 306.3L182.3 306.4L180.6 305.9L179.0 305.4L177.3 305.8L175.6 305.5L173.8 305.4L172.2 304.7L170.4 304.7L168.9 303.8L167.2 304.3L165.5 304.2L163.9 304.6L162.2 304.7L160.5 304.6L159.0 303.7L158.0 302.1L159.6 301.8L160.8 300.5L162.5 300.5L163.9 299.6L165.6 299.2L167.2 298.4L168.9 297.6L170.6 297.1L171.2 295.4L172.1 293.9L172.2 292.0L171.0 291.2L170.3 290.0L169.7 288.7L168.4 287.8L167.3 286.7L166.4 285.3L167.3 283.7L168.9 282.8L170.6 283.4L172.2 282.5L173.9 282.6L175.6 282.8L177.5 282.5L179.5 282.0L181.5 282.0L183.1 281.0L184.8 280.3L185.2 278.6L184.8 276.9L185.7 275.3L184.8 273.7L183.6 272.4L182.3 271.1L181.8 269.5L180.9 268.1L179.8 266.9L179.3 265.5L179.2 264.1L179.0 262.7L177.3 261.8L176.4 260.2L175.0 260.7L173.6 261.4L172.1 261.5L170.6 261.8L168.9 262.3L167.3 262.6L165.5 262.4L163.9 262.7L162.4 262.2L161.6 261.1L160.5 260.2L161.9 259.0L163.1 257.7L163.9 256.0L164.3 254.5L164.7 253.1L165.5 251.8L164.8 250.1L163.9 248.4L163.2 248.5L163.2 249.4L162.7 249.7L161.9 249.5L161.7 250.1L161.5 249.2L161.4 248.5L161.3 247.8L161.7 248.4L162.0 249.1L160.8 249.7L160.7 250.6L160.3 251.1L159.7 251.1L159.7 252.1L158.8 251.8L157.9 250.8L157.5 251.7L157.2 252.4L156.6 252.6L156.2 253.1L155.3 252.0L155.2 251.0L154.9 250.2L155.7 250.9L155.6 251.8L155.2 252.0L154.9 253.1L154.1 252.5L153.8 253.5L154.6 252.5L153.7 252.3L153.9 251.6L153.1 251.4L153.3 250.7L151.9 250.8L152.1 250.1L151.8 249.2L153.2 249.5L154.2 249.5L153.5 248.4L154.6 248.5L154.0 247.4L154.5 247.1L154.5 246.4L155.3 246.3L155.1 245.5L155.5 245.1L155.9 243.8L154.8 244.1L154.2 243.9L154.2 243.0L153.0 243.4L152.9 242.6L153.3 241.3L152.1 241.7L151.5 241.5L152.2 240.0L151.8 240.5L152.5 240.4L152.1 240.8L151.9 239.4L150.7 239.7L150.1 239.5L150.0 238.8L150.2 237.8L148.8 238.4L148.9 237.7L149.3 237.4L150.1 236.9L149.6 237.9L148.6 237.2L148.6 236.6L147.8 236.4L148.5 235.5L147.3 235.5L147.1 235.0L148.2 235.5L147.6 233.9L148.8 234.6L149.7 234.8L149.3 233.4L149.5 232.9L150.3 232.9L150.4 232.2L150.2 231.6L151.3 231.3L152.3 230.9L150.4 229.9L152.1 229.7L152.1 229.1L151.9 229.5L152.6 230.1L151.7 229.8L151.9 228.5L152.2 227.9L153.1 227.6L152.0 226.7L151.6 226.0L152.1 225.5L152.1 224.8L152.8 225.8L153.6 226.2L152.5 226.1L152.3 224.2L153.2 224.1L153.7 223.7L153.9 223.2L154.8 223.8L155.4 224.6L156.1 225.2L155.2 225.0L154.5 224.2L154.6 222.9L154.6 222.2L155.4 223.1L155.3 224.2L155.8 225.1L154.9 224.4L154.8 223.3L156.2 222.8L155.6 221.5L155.7 220.8L156.3 220.5L157.7 220.4L157.7 219.7L156.6 218.7L156.8 218.2L157.3 217.7L157.1 217.0L157.9 216.6L157.4 215.8L159.2 215.9L158.2 214.8L158.5 214.3L158.8 213.8L158.5 213.0L159.4 212.9L160.4 212.8L160.5 212.9L160.7 213.7L160.0 213.2L159.6 211.7L161.0 211.9L161.7 211.7L162.0 211.2L160.9 209.9Z"/><path d="M137.6 215.5L137.8 214.9L138.3 214.8L139.0 214.8L139.2 214.1L139.5 213.7L139.9 213.3L140.7 213.4L141.3 213.3L141.3 212.5L141.9 212.8L142.4 212.3L142.9 211.9L143.6 212.9L144.1 212.6L144.2 212.7L144.6 213.1L143.9 212.8L144.6 211.9L144.9 212.6L144.7 213.4L144.5 212.8L145.3 212.7L145.6 212.8L145.8 212.4L146.3 212.0L146.9 212.3L147.4 211.7L146.6 212.1L146.8 212.7L147.3 213.4L146.4 213.8L147.2 214.5L146.1 214.7L146.7 214.9L145.8 214.9L146.6 215.5L145.7 215.4L145.4 216.0L145.3 216.7L144.9 217.2L144.4 216.7L143.9 216.2L144.9 216.5L144.8 217.9L144.3 218.2L143.8 218.6L142.9 218.5L142.9 218.3L142.5 217.8L143.2 218.0L142.8 219.3L142.1 218.6L141.5 218.7L141.0 219.1L140.4 219.3L140.0 220.2L139.3 219.8L138.8 220.0L139.4 219.3L139.2 219.1L139.7 218.7L139.5 219.5L139.3 218.7L138.6 218.3L137.8 217.9L138.1 217.2L137.8 216.6L138.5 216.3L139.1 216.3L138.5 216.8L138.5 215.9Z"/><path d="M132.3 224.4L132.7 224.1L133.1 223.7L133.7 223.6L134.3 223.7L134.5 223.0L135.1 222.9L134.8 223.5L134.7 224.1L135.7 224.5L135.4 225.1L135.9 225.5L135.8 226.1L135.6 226.7L134.9 227.0L135.8 227.2L135.8 227.8L135.5 227.1L135.6 228.4L134.2 228.4L135.0 229.5L134.4 229.8L134.0 230.3L133.7 229.9L133.3 229.2L134.0 229.6L134.1 231.0L133.8 230.3L133.7 231.5L133.3 231.2L133.3 230.5L133.2 229.9L132.3 230.1L132.9 229.5L132.8 228.9L132.1 228.4L132.2 227.8L132.6 227.2L132.9 226.6L131.9 226.1L132.7 225.5L132.8 224.9Z"/><path d="M180.7 203.9L181.6 204.3L181.8 203.5L182.1 203.0L182.5 202.4L183.0 202.2L184.0 202.9L184.2 202.5L184.1 201.9L184.7 202.3L184.1 202.4L184.3 203.1L183.8 202.2L185.2 202.0L185.7 201.7L186.3 202.0L186.9 202.3L187.3 201.4L187.9 201.7L188.3 201.1L188.1 202.3L189.0 202.0L189.4 201.2L188.4 201.3L188.6 202.0L189.0 202.9L188.1 203.0L187.9 203.6L187.8 204.1L187.7 204.7L187.4 205.2L186.6 204.9L186.7 204.8L186.7 206.1L186.1 206.1L185.6 206.3L185.0 206.4L184.9 207.3L183.9 206.7L184.0 207.9L183.4 207.9L182.9 207.7L183.0 207.1L183.2 206.6L183.4 207.2L182.3 207.6L182.1 206.8L181.8 206.1L181.4 206.8L182.0 206.2L181.7 205.7L180.8 205.4L181.5 204.7L181.5 204.3L182.4 204.8L181.6 204.8L180.6 204.4Z"/><path d="M200.9 184.7L201.0 184.0L201.7 183.9L202.3 183.9L202.6 184.6L202.1 184.5L202.3 183.8L202.7 183.3L203.3 183.2L203.6 182.7L203.6 182.0L204.3 182.4L204.8 182.3L204.2 182.6L205.3 182.1L205.5 182.0L205.7 182.6L205.3 182.4L205.9 181.9L206.2 181.1L207.0 181.8L207.3 180.7L207.6 181.8L208.0 181.2L208.5 181.2L209.0 180.6L209.1 181.2L208.4 181.6L207.9 182.0L208.8 182.8L208.5 183.3L207.4 183.6L208.3 184.4L207.1 184.6L207.6 185.3L207.3 185.8L207.4 186.4L206.9 186.8L206.4 187.2L205.9 186.9L206.2 187.7L205.8 187.7L206.0 188.2L206.0 188.8L205.4 189.2L205.0 188.6L205.5 188.9L206.1 189.5L205.7 189.9L205.2 190.3L204.9 190.7L204.9 191.4L205.1 190.4L203.8 190.8L204.1 189.7L203.7 189.3L202.9 189.4L203.1 188.7L202.4 188.3L202.9 187.5L202.5 187.1L202.3 186.5L201.8 186.1L201.4 185.7L201.2 185.1L202.2 185.1Z"/><path d="M141.4 224.9L142.0 224.8L142.3 224.3L142.8 224.1L142.9 224.7L143.4 224.0L143.7 223.5L144.2 223.3L144.7 222.9L145.2 223.2L145.8 223.4L146.3 223.1L146.8 223.4L146.3 223.8L147.3 223.0L147.8 222.9L147.9 223.5L148.5 223.9L147.7 224.8L148.7 225.0L147.9 225.3L149.0 225.5L149.0 226.1L148.7 226.6L147.8 226.2L147.9 227.2L146.9 226.7L147.0 227.7L147.1 228.3L145.9 228.4L146.7 229.2L146.0 229.5L145.6 229.9L145.8 230.5L145.3 230.4L145.1 229.5L144.4 229.7L143.9 229.5L143.9 228.6L143.4 229.3L143.0 228.9L142.9 228.3L142.3 228.0L143.1 228.0L143.0 226.8L143.4 228.4L141.8 227.7L141.7 227.2L142.5 227.0L141.3 226.6L141.7 226.0L141.8 225.4Z"/><path d="M143.5 238.7L144.2 238.7L144.4 238.1L144.8 237.7L145.6 237.9L145.7 237.1L146.1 236.8L146.4 238.3L147.2 236.8L147.5 238.4L148.3 236.4L148.8 237.2L148.2 237.9L149.0 238.3L149.4 238.7L149.9 239.1L148.8 239.8L148.3 240.3L148.6 239.4L149.5 239.8L149.0 240.1L149.2 239.3L148.8 240.6L148.4 239.7L147.6 239.7L148.7 239.3L147.8 240.2L147.8 241.1L147.5 241.6L146.9 241.7L146.3 242.0L145.8 241.4L145.2 241.8L144.8 241.3L144.2 241.3L144.9 240.6L143.8 240.3L143.7 239.8L143.5 239.3Z"/><path d="M142.4 247.9L143.2 248.0L143.1 247.2L143.4 246.7L143.7 246.3L144.8 246.6L144.7 245.7L145.4 246.0L145.5 245.2L146.1 245.2L146.4 244.6L146.9 244.6L146.7 245.2L146.9 245.7L147.5 246.1L147.5 246.7L147.7 247.2L146.8 247.2L146.5 247.6L146.8 248.5L146.0 248.0L145.8 248.5L145.7 249.1L145.3 249.1L145.8 249.8L145.3 250.1L144.6 250.0L144.0 250.0L144.4 249.9L144.2 251.3L143.5 251.3L143.2 250.8L142.9 250.3L144.0 250.1L144.2 249.1L144.2 250.4L143.1 249.6L143.2 248.9L143.3 248.5L143.9 248.5L143.4 249.0L142.6 248.5Z"/><path d="M152.9 251.9L153.8 252.4L154.2 251.8L154.3 250.8L154.9 250.7L155.5 251.0L154.7 251.4L154.3 251.9L154.5 251.0L155.0 251.9L155.4 252.3L155.1 253.0L156.1 253.1L155.5 253.5L155.9 254.2L154.9 254.5L155.5 255.2L155.7 255.8L155.3 256.3L154.7 256.7L154.5 255.3L153.9 255.7L153.3 255.9L153.1 255.4L152.9 254.8L153.7 254.1L152.7 253.7L153.0 253.1L153.2 252.5Z"/></g>
<g id="rFR"><path d="M201.5 419.3L202.4 417.6L202.6 415.6L203.5 413.9L204.7 412.3L205.4 410.7L205.7 409.0L206.3 407.3L206.3 405.6L206.9 403.9L207.2 402.1L207.8 400.4L208.9 398.9L209.5 397.2L209.6 395.4L210.5 393.8L209.7 392.1L209.0 390.4L208.5 388.6L207.2 387.1L206.6 385.5L205.1 384.4L204.6 382.7L203.8 381.2L202.7 380.0L202.0 378.4L201.1 377.0L200.5 375.4L199.6 373.7L198.5 372.1L197.6 370.5L197.1 368.7L196.0 367.5L194.7 366.6L193.8 365.3L192.4 363.8L190.5 363.1L188.5 362.5L187.0 361.1L185.2 360.6L183.7 359.3L181.8 359.1L180.3 357.8L178.8 356.9L177.1 356.3L175.3 356.2L173.5 356.2L171.9 355.2L170.4 354.7L168.9 354.2L167.8 352.9L166.1 352.7L166.0 351.1L165.4 349.7L164.4 348.5L166.2 347.7L168.3 347.6L170.1 346.8L171.9 346.0L173.6 345.9L175.3 345.6L177.0 345.6L178.6 344.9L180.3 345.2L181.9 346.0L183.7 345.8L185.4 345.8L187.0 346.8L188.7 346.8L190.4 346.5L192.0 346.1L193.7 346.2L195.4 345.7L197.1 346.0L198.3 344.7L199.6 343.9L201.3 343.5L200.9 342.0L200.0 340.7L200.0 339.1L199.6 337.6L199.3 335.9L198.6 334.2L198.0 332.6L199.9 332.5L201.9 332.5L203.8 332.6L204.7 333.8L205.5 335.1L207.1 335.7L208.8 335.7L210.6 335.3L212.2 336.1L213.9 335.9L215.5 335.4L217.3 335.5L218.9 334.9L220.6 335.1L221.5 333.4L222.3 331.7L224.2 331.4L225.6 330.0L227.3 329.3L229.0 328.4L230.0 327.2L231.7 327.0L232.9 326.0L234.0 325.0L235.3 324.0L235.5 322.4L236.5 321.3L237.4 320.0L238.0 318.5L238.4 317.0L240.3 316.6L242.0 315.8L243.5 314.5L245.2 314.7L246.9 314.4L248.5 313.7L249.8 315.2L251.6 316.1L252.7 317.9L254.4 317.8L256.0 318.4L257.7 318.7L259.2 319.7L260.5 321.0L261.9 322.0L263.6 322.3L265.2 323.0L266.9 322.9L267.7 324.2L267.0 325.8L267.8 327.1L269.1 326.9L270.3 326.2L271.1 327.5L272.8 327.6L273.7 328.8L275.4 328.5L277.0 329.2L278.7 329.6L280.4 330.4L281.7 331.6L282.9 333.0L284.2 333.7L285.6 334.1L287.1 334.1L288.5 334.1L289.9 333.9L291.3 333.8L292.6 334.9L294.1 335.6L295.4 336.8L297.1 337.1L298.7 338.1L300.4 338.7L302.4 338.6L303.9 339.7L305.7 340.6L307.7 340.6L309.6 341.4L311.4 342.2L310.6 343.8L309.6 345.3L309.8 347.3L308.9 348.9L307.9 350.4L308.4 352.3L307.4 353.9L307.2 355.6L306.8 357.4L306.5 359.3L305.9 361.1L304.5 361.7L303.1 362.0L301.7 362.8L300.1 363.2L298.8 364.2L297.6 365.3L296.2 366.3L295.6 367.9L294.1 368.8L293.4 370.3L292.9 371.8L292.0 373.0L290.9 374.1L290.0 375.4L291.9 375.8L293.4 377.0L294.7 377.7L296.1 378.1L297.6 377.9L298.7 378.8L299.1 380.2L300.1 381.2L299.6 382.5L299.5 383.8L300.2 385.4L300.7 387.1L301.1 388.8L300.6 390.3L299.8 391.5L298.3 392.4L297.8 393.8L298.8 395.3L299.4 397.0L299.5 398.9L300.2 400.5L300.0 402.2L300.3 403.9L302.0 404.4L303.2 405.6L304.8 406.3L306.2 407.2L307.0 408.5L307.4 410.0L307.9 411.4L306.7 412.8L306.0 414.5L304.5 415.6L303.1 416.6L301.6 417.5L299.8 417.6L298.1 418.1L296.8 419.3L295.4 419.9L294.5 421.4L293.0 421.7L291.7 422.7L290.0 422.4L288.5 421.3L286.8 421.1L285.0 421.0L283.3 420.5L281.6 419.8L279.6 419.9L278.0 418.9L276.2 418.5L274.4 418.4L273.0 417.2L271.1 417.6L269.5 416.8L267.9 417.4L266.0 417.2L264.5 418.1L262.8 418.5L261.6 419.5L260.5 420.4L259.2 421.2L257.8 421.8L257.1 423.2L256.1 424.3L254.9 425.4L254.4 426.8L255.1 428.2L255.2 429.8L255.3 431.3L256.1 432.7L254.4 432.8L252.8 431.8L251.1 431.8L249.4 431.9L247.6 432.2L246.0 431.9L244.3 431.3L242.6 431.6L241.0 431.0L239.3 430.5L237.7 429.8L236.0 429.7L234.3 429.4L232.7 428.5L230.8 428.5L229.1 427.7L227.6 426.8L225.9 426.6L224.1 426.9L222.5 426.6L220.8 426.0L219.1 426.3L217.4 426.1L215.8 425.6L214.2 424.9L212.4 425.2L210.6 424.9L209.0 424.1L207.3 423.6L205.7 422.7L204.2 421.8L202.8 420.6L201.5 419.3Z"/><path d="M319.4 431.9L320.4 431.6L320.3 432.1L320.8 430.8L321.2 430.0L322.0 429.7L322.6 429.1L323.1 428.4L323.6 427.7L324.5 427.4L325.1 426.9L325.6 426.1L326.3 425.6L327.0 425.2L327.2 425.9L327.4 426.6L327.9 427.2L327.7 428.1L328.2 428.7L328.7 429.4L328.3 430.2L328.8 431.0L328.6 431.9L328.3 432.7L328.3 433.6L328.6 434.4L328.7 435.2L328.2 436.0L328.6 436.9L328.5 437.8L327.8 438.5L328.0 439.4L327.9 440.3L327.8 441.1L327.2 441.7L326.9 442.4L326.3 443.0L325.9 443.8L325.6 444.5L325.3 445.3L324.6 444.9L324.0 444.6L323.9 444.0L323.2 444.4L322.6 444.0L321.9 443.6L321.5 442.9L321.1 442.3L321.2 441.3L320.6 440.7L320.3 439.9L319.6 439.4L319.4 438.6L319.5 437.8L319.4 436.9L319.7 436.1L319.4 435.2L319.6 434.4L319.3 433.6L319.7 432.7Z"/></g>
<g id="rCH"><path d="M305.9 361.1L307.9 360.8L309.8 360.1L311.8 360.3L313.4 359.6L315.2 360.2L316.9 360.1L318.5 359.4L320.2 360.1L322.0 360.2L323.6 361.1L325.6 361.1L327.5 361.8L329.4 361.9L329.4 363.4L329.7 364.8L330.3 366.1L332.0 366.8L333.8 367.5L335.3 368.7L337.0 369.0L338.7 368.6L340.3 368.2L340.3 370.2L339.5 372.0L338.4 373.3L336.5 373.3L335.3 374.5L336.0 376.1L336.1 377.9L334.7 377.5L333.3 377.9L331.9 377.9L330.2 377.2L328.6 376.2L327.2 377.1L326.5 378.6L325.2 379.6L324.6 381.1L323.9 382.6L322.7 383.8L321.3 382.3L320.3 380.6L318.5 379.6L317.2 379.1L315.8 378.5L314.3 378.7L312.7 379.5L311.5 381.0L310.1 382.1L308.5 382.8L306.9 383.2L305.1 382.9L303.6 381.9L301.9 381.4L300.1 381.2L299.1 380.2L298.7 378.8L297.6 377.9L296.1 378.1L294.7 377.7L293.4 377.0L291.9 375.8L290.0 375.4L290.9 374.1L292.0 373.0L292.9 371.8L293.4 370.3L294.1 368.8L295.6 367.9L296.2 366.3L297.6 365.3L298.8 364.2L300.1 363.2L301.7 362.8L303.1 362.0L304.5 361.7L305.9 361.1Z"/></g>
<g id="rAT"><path d="M378.9 346.3L380.6 346.7L382.3 346.8L383.7 346.4L385.2 346.0L386.5 345.2L387.9 344.4L389.2 343.4L390.7 342.7L392.3 342.4L394.0 342.2L395.7 342.9L397.4 342.7L398.9 343.9L401.0 343.9L402.4 345.2L404.1 345.0L405.8 345.6L407.4 345.0L409.1 345.2L410.7 346.1L412.6 346.6L414.2 347.7L414.4 349.5L415.7 350.9L415.8 352.7L415.0 354.0L415.1 355.7L414.2 356.9L412.9 358.2L411.6 359.5L410.8 361.1L409.6 362.3L409.3 364.0L408.3 365.3L409.1 366.9L408.5 368.7L409.1 370.3L407.3 370.9L405.8 372.0L404.0 372.1L402.3 372.5L400.7 373.1L399.1 373.7L397.4 374.3L395.8 374.8L394.0 374.6L392.4 375.4L390.7 375.4L388.9 375.1L387.3 375.4L385.7 376.4L384.0 376.2L382.2 376.2L380.5 375.7L378.9 375.1L377.2 374.5L375.6 374.0L373.9 373.7L372.1 373.5L370.5 372.9L368.9 372.3L367.2 371.7L365.6 371.4L363.8 371.2L362.5 370.2L361.0 369.6L359.6 368.7L357.7 369.2L355.7 368.9L353.8 369.5L352.1 369.5L350.5 370.4L348.7 370.1L347.0 370.3L345.4 369.7L343.8 368.9L341.9 368.9L340.3 368.2L338.7 368.6L337.0 369.0L335.3 368.7L333.8 367.5L332.0 366.8L330.3 366.1L329.7 364.8L329.4 363.4L329.4 361.9L330.9 362.6L332.4 363.3L333.6 364.5L335.3 364.0L337.0 364.4L338.7 364.8L340.3 364.5L342.0 363.9L343.7 363.7L345.4 363.5L347.0 362.8L348.7 362.1L350.5 362.8L352.1 362.5L353.8 361.9L355.4 361.2L357.2 361.5L358.7 360.4L360.5 360.3L362.1 359.5L363.7 358.7L365.5 358.6L366.8 359.2L368.3 358.9L369.7 359.4L368.9 357.8L369.5 356.0L368.9 354.4L370.3 353.0L372.3 352.5L373.8 351.1L375.6 350.2L376.9 349.1L377.9 347.7L378.9 346.3Z"/></g>
<g id="rCZ"><path d="M389.8 313.7L391.5 314.6L393.5 315.1L395.2 316.2L396.9 316.6L398.4 317.6L400.2 317.9L401.9 318.4L403.6 318.4L405.3 318.7L406.9 319.6L408.4 320.7L409.2 322.4L410.3 323.8L411.9 323.1L413.6 323.0L415.2 323.7L417.0 323.6L418.7 323.8L420.3 324.5L422.2 324.5L423.7 325.5L425.3 326.4L426.9 327.4L428.6 328.1L430.4 328.8L431.6 330.4L433.5 331.3L434.6 333.0L433.7 334.7L432.1 335.5L430.7 336.4L429.6 337.6L428.7 338.9L427.7 340.1L426.0 340.3L425.1 341.6L423.7 342.2L422.2 343.5L420.5 344.3L418.7 344.8L417.4 346.1L415.5 346.5L414.2 347.7L412.6 346.6L410.7 346.1L409.1 345.2L407.4 345.0L405.8 345.6L404.1 345.0L402.4 345.2L401.0 343.9L398.9 343.9L397.4 342.7L395.7 342.9L394.0 342.2L392.3 342.4L390.7 342.7L389.2 343.4L387.9 344.4L386.5 345.2L385.2 346.0L383.7 346.4L382.3 346.8L380.6 346.7L378.9 346.3L377.4 345.0L375.4 344.7L373.9 343.5L372.5 342.3L371.7 340.7L370.1 339.7L369.3 338.0L368.4 336.2L366.7 335.1L365.3 333.8L364.3 332.1L363.1 330.9L362.7 329.3L361.7 327.9L360.5 326.8L360.4 324.9L359.2 323.7L360.8 322.9L362.7 322.8L364.3 322.0L365.9 321.2L367.7 321.1L369.1 319.7L371.0 319.9L372.7 319.4L374.3 318.7L376.1 318.6L377.6 317.5L379.2 316.8L381.1 316.8L382.7 316.2L384.5 315.5L386.3 315.0L388.1 314.5L389.8 313.7Z"/></g>
<g id="rSK"><path d="M434.6 333.0L435.8 334.3L437.1 335.5L438.8 335.1L440.5 335.6L442.1 335.0L443.8 335.5L444.9 336.7L446.2 337.5L447.3 338.5L448.9 338.9L450.4 338.0L452.3 338.1L453.9 337.2L455.6 337.5L457.2 337.0L458.9 336.9L460.6 337.2L462.2 336.3L463.8 335.6L465.6 335.5L467.3 336.3L468.9 336.8L470.7 337.2L472.4 337.4L474.1 337.7L475.7 338.3L477.4 338.9L478.8 339.3L480.3 339.8L481.6 340.6L481.1 342.2L480.5 343.8L479.6 345.2L478.4 346.2L476.8 346.5L475.8 347.6L474.6 348.5L473.6 349.7L472.9 351.0L471.2 351.0L469.5 350.5L467.8 350.5L466.2 350.2L464.5 350.1L462.8 350.1L461.1 349.8L459.5 349.4L457.7 350.0L456.3 351.3L454.4 351.9L452.9 352.8L451.2 353.2L449.3 352.9L447.7 353.6L446.2 354.4L444.3 354.1L442.6 354.4L441.0 355.2L439.1 355.4L437.8 356.8L436.1 357.4L434.3 357.8L432.6 357.9L431.0 358.3L429.3 358.4L427.6 358.6L425.9 358.0L424.3 357.5L422.6 357.3L420.9 356.9L419.8 355.7L418.3 354.9L416.8 354.2L415.8 352.7L415.7 350.9L414.4 349.5L414.2 347.7L415.5 346.5L417.4 346.1L418.7 344.8L420.5 344.3L422.2 343.5L423.7 342.2L425.1 341.6L426.0 340.3L427.7 340.1L428.7 338.9L429.6 337.6L430.7 336.4L432.1 335.5L433.7 334.7L434.6 333.0Z"/></g>
<g id="rHU"><path d="M415.8 352.7L416.8 354.2L418.3 354.9L419.8 355.7L420.9 356.9L422.6 357.3L424.3 357.5L425.9 358.0L427.6 358.6L429.3 358.4L431.0 358.3L432.6 357.9L434.3 357.8L436.1 357.4L437.8 356.8L439.1 355.4L441.0 355.2L442.6 354.4L444.3 354.1L446.2 354.4L447.7 353.6L449.3 352.9L451.2 353.2L452.9 352.8L454.4 351.9L456.3 351.3L457.7 350.0L459.5 349.4L461.1 349.8L462.8 350.1L464.5 350.1L466.2 350.2L467.8 350.5L469.5 350.5L471.2 351.0L472.9 351.0L473.6 349.7L474.6 348.5L476.0 349.8L476.8 351.7L478.7 352.6L479.6 354.4L480.2 355.4L481.3 356.1L480.6 357.6L479.3 358.7L478.1 359.9L477.1 361.1L476.1 362.7L474.7 363.8L473.2 364.8L472.0 366.1L471.2 367.7L470.3 369.3L468.6 370.3L467.9 372.0L466.9 373.2L466.5 374.8L465.8 376.1L464.5 377.0L462.9 378.0L461.2 378.4L459.4 378.8L457.8 379.6L456.1 379.6L454.4 379.7L452.7 379.8L451.0 379.8L449.4 380.4L447.6 380.3L446.0 380.9L444.4 381.6L442.7 382.1L441.0 382.1L439.8 382.8L438.5 383.4L437.7 384.6L435.9 384.7L434.3 384.1L432.6 384.6L430.9 384.3L429.2 384.2L427.6 384.6L425.8 384.6L424.1 384.2L422.5 383.5L420.9 382.9L419.5 382.3L418.2 381.4L416.9 380.7L415.8 379.6L414.4 378.9L413.4 377.5L412.1 376.7L410.8 375.7L409.6 375.1L408.3 374.5L409.0 373.2L409.0 371.8L409.1 370.3L408.5 368.7L409.1 366.9L408.3 365.3L409.3 364.0L409.6 362.3L410.8 361.1L411.6 359.5L412.9 358.2L414.2 356.9L415.1 355.7L415.0 354.0L415.8 352.7Z"/></g>
<g id="rSI"><path d="M377.2 374.5L378.9 375.1L380.5 375.7L382.2 376.2L384.0 376.2L385.7 376.4L387.3 375.4L388.9 375.1L390.7 375.4L392.4 375.4L394.0 374.6L395.8 374.8L397.4 374.3L399.1 373.7L400.7 373.1L402.3 372.5L404.0 372.1L405.8 372.0L407.3 370.9L409.1 370.3L409.0 371.8L409.0 373.2L408.3 374.5L406.6 374.7L405.5 376.2L403.9 376.5L402.4 377.0L401.6 378.4L400.1 379.2L399.1 380.4L398.2 381.7L397.9 383.2L397.4 384.6L397.4 386.1L397.3 387.5L396.5 388.8L394.6 389.4L392.6 389.0L390.7 389.6L389.1 388.8L387.3 388.5L385.6 388.0L383.8 388.2L382.4 389.5L380.6 389.6L379.2 389.2L378.5 387.8L377.2 387.1L377.4 385.5L378.7 384.5L378.9 382.9L378.2 381.4L376.5 380.8L375.6 379.6L375.9 377.8L376.3 376.1L377.2 374.5Z"/></g>
<g id="rHR"><path d="M408.3 374.5L409.6 375.1L410.8 375.7L412.1 376.7L413.4 377.5L414.4 378.9L415.8 379.6L416.9 380.7L418.2 381.4L419.5 382.3L420.9 382.9L422.5 383.5L424.1 384.2L425.8 384.6L427.6 384.6L429.2 384.2L430.9 384.3L432.6 384.6L434.3 384.1L435.9 384.7L437.7 384.6L437.7 386.2L438.7 387.5L439.3 388.9L439.3 390.5L440.6 391.3L440.7 392.9L441.8 393.8L440.4 393.8L439.0 394.4L437.7 394.7L436.0 394.0L434.2 394.0L432.5 393.8L430.9 393.0L429.3 392.5L427.6 392.4L425.9 392.5L424.2 393.0L422.6 393.0L420.9 392.7L419.2 392.8L417.5 392.6L415.8 392.4L414.2 392.1L412.5 392.5L410.8 392.3L409.1 392.2L407.4 393.0L405.8 393.5L404.1 393.5L402.4 393.8L402.6 395.6L401.3 397.1L401.6 398.9L402.3 400.8L404.0 402.0L404.8 403.8L405.8 405.6L407.0 407.1L408.2 408.5L409.3 410.2L410.8 411.4L411.7 413.1L413.3 414.0L414.6 415.2L415.8 416.5L417.2 417.6L418.8 418.3L420.1 419.4L421.6 420.4L422.6 421.8L423.9 422.8L425.3 423.8L426.3 425.2L427.1 426.7L428.5 427.7L428.6 428.5L429.8 428.4L430.0 429.2L430.3 429.9L431.0 430.2L430.6 429.3L430.6 429.2L431.3 428.6L431.0 429.3L430.0 428.8L429.1 429.0L428.7 428.2L427.9 428.0L426.8 428.6L426.5 427.6L425.9 426.9L424.9 427.3L424.3 426.8L424.0 425.8L422.8 426.3L422.5 425.3L421.9 424.7L421.1 424.6L420.6 423.9L419.8 423.6L419.3 422.9L418.1 423.3L417.6 422.7L417.1 422.0L417.0 421.2L417.3 420.3L417.3 421.4L416.4 421.5L415.6 421.3L414.9 421.0L414.6 420.0L413.5 420.2L412.7 420.1L412.2 419.2L411.7 418.7L410.9 418.5L410.3 418.0L409.5 417.7L409.2 416.8L408.4 416.6L407.9 416.1L407.2 415.7L407.0 414.7L406.3 414.3L405.6 414.0L405.3 413.2L404.2 413.4L404.1 412.3L403.1 412.3L402.2 412.3L401.7 411.8L401.2 411.1L401.0 410.2L400.4 409.8L400.0 409.1L399.0 409.2L398.4 408.7L397.9 408.2L397.4 407.6L396.7 407.4L396.9 405.9L396.1 405.8L395.8 405.0L394.5 405.4L394.4 404.3L394.2 403.8L394.9 403.2L394.6 404.0L393.4 404.5L393.0 403.8L392.4 403.4L391.8 403.0L392.4 401.7L390.8 401.9L391.1 400.8L390.6 400.4L389.9 400.0L389.9 399.2L389.7 398.5L389.1 397.8L389.0 397.1L390.1 396.1L389.0 395.5L388.9 394.8L388.3 394.3L388.1 393.6L387.2 393.3L387.9 392.1L387.1 391.7L386.5 391.3L386.1 392.0L384.9 391.5L384.9 392.7L384.5 393.3L383.1 392.6L383.1 393.8L382.2 393.2L382.0 394.6L381.2 394.3L380.6 394.7L380.7 393.7L380.3 393.1L379.0 393.2L378.6 392.6L379.1 391.5L378.1 391.3L378.8 391.0L379.3 391.4L380.1 391.2L379.0 391.7L379.4 390.5L379.8 389.8L380.6 389.6L382.4 389.5L383.8 388.2L385.6 388.0L387.3 388.5L389.1 388.8L390.7 389.6L392.6 389.0L394.6 389.4L396.5 388.8L397.3 387.5L397.4 386.1L397.4 384.6L397.9 383.2L398.2 381.7L399.1 380.4L400.1 379.2L401.6 378.4L402.4 377.0L403.9 376.5L405.5 376.2L406.6 374.7L408.3 374.5Z"/></g>
<g id="rRO"><path d="M481.3 356.1L482.7 355.5L484.3 355.8L485.8 355.9L487.2 355.2L488.9 355.7L490.6 355.7L492.3 355.4L494.0 356.0L495.6 356.2L497.3 356.4L499.0 356.4L500.7 356.8L502.5 357.2L504.0 358.1L505.7 358.8L507.4 359.4L509.1 358.8L510.6 357.8L512.4 357.5L514.1 356.8L515.7 356.0L517.4 355.7L519.2 355.8L520.8 355.2L522.2 354.1L523.6 353.0L525.0 351.8L526.3 352.6L527.8 352.2L529.2 352.7L530.4 353.9L530.9 355.6L531.7 357.1L532.6 358.5L533.7 359.6L534.2 361.1L535.2 362.2L535.9 363.6L536.8 365.2L538.5 365.9L539.8 367.2L540.9 368.6L541.9 370.0L542.2 371.8L543.6 372.9L544.3 374.5L544.3 376.4L543.8 378.4L544.3 380.3L544.3 382.3L543.4 384.2L543.5 386.2L544.1 387.7L545.2 389.0L546.0 390.4L547.7 391.1L549.1 392.6L551.0 392.9L552.7 392.6L554.4 392.1L556.1 391.8L557.7 391.2L559.2 391.3L560.5 391.7L561.9 392.1L561.1 393.4L561.4 394.9L561.1 396.3L559.2 396.7L557.7 397.9L556.0 398.8L554.8 400.1L553.0 400.7L551.8 402.1L551.2 403.8L550.2 405.3L550.2 407.2L549.6 408.9L549.6 410.7L548.5 412.2L547.1 413.3L546.0 414.7L544.4 413.7L542.4 413.4L540.9 412.2L539.2 411.5L537.6 410.5L536.1 409.3L534.2 408.9L532.6 408.7L530.9 409.2L529.2 409.2L527.5 408.9L525.8 409.3L524.1 410.0L522.3 410.3L520.8 411.4L519.2 412.0L517.4 412.1L515.8 412.7L514.1 413.1L512.4 413.5L510.7 413.5L509.1 413.8L507.4 413.9L505.7 413.5L504.0 413.4L502.3 413.3L500.7 413.1L498.9 413.3L497.3 412.8L495.7 412.1L494.0 412.2L492.3 411.7L490.7 411.1L488.9 411.2L487.2 410.5L485.4 410.4L483.7 409.9L482.2 408.9L482.1 407.3L480.7 406.2L480.5 404.7L479.4 403.7L478.7 402.5L478.0 401.3L476.5 401.0L475.4 399.8L473.8 399.6L472.1 398.9L470.6 397.7L468.8 397.1L467.6 396.2L466.7 395.2L466.3 393.8L465.1 392.4L464.4 390.6L462.9 389.6L461.5 388.2L459.8 387.0L458.7 385.4L458.2 383.5L458.6 381.4L457.8 379.6L459.4 378.8L461.2 378.4L462.9 378.0L464.5 377.0L465.8 376.1L466.5 374.8L466.9 373.2L467.9 372.0L468.6 370.3L470.3 369.3L471.2 367.7L472.0 366.1L473.2 364.8L474.7 363.8L476.1 362.7L477.1 361.1L478.1 359.9L479.3 358.7L480.6 357.6L481.3 356.1Z"/></g>
<g id="rBG"><path d="M480.5 404.7L480.7 406.2L482.1 407.3L482.2 408.9L483.7 409.9L485.4 410.4L487.2 410.5L488.9 411.2L490.7 411.1L492.3 411.7L494.0 412.2L495.7 412.1L497.3 412.8L498.9 413.3L500.7 413.1L502.3 413.3L504.0 413.4L505.7 413.5L507.4 413.9L509.1 413.8L510.7 413.5L512.4 413.5L514.1 413.1L515.8 412.7L517.4 412.1L519.2 412.0L520.8 411.4L522.3 410.3L524.1 410.0L525.8 409.3L527.5 408.9L529.2 409.2L530.9 409.2L532.6 408.7L534.2 408.9L536.1 409.3L537.6 410.5L539.2 411.5L540.9 412.2L542.4 413.4L544.4 413.7L546.0 414.7L547.3 415.3L548.5 415.9L547.3 417.1L546.5 418.6L546.0 420.1L544.4 421.3L543.6 423.3L541.8 424.3L541.4 426.2L540.6 427.9L539.3 429.4L538.1 430.9L537.6 432.7L539.0 433.8L540.1 435.3L541.8 436.1L540.4 436.9L539.0 437.3L537.5 437.8L535.9 437.8L534.3 438.5L532.5 438.4L530.9 439.0L529.2 439.4L527.9 440.4L526.5 441.2L525.0 441.9L523.6 442.5L522.0 442.6L520.8 443.6L520.3 445.1L519.1 446.1L517.4 446.1L515.8 446.9L514.1 447.0L512.4 447.3L510.7 446.4L509.1 446.9L507.4 447.0L505.8 446.2L503.9 446.1L502.2 445.6L500.7 444.5L499.0 444.2L497.3 444.8L495.6 444.4L494.0 444.5L492.3 444.8L490.6 444.8L488.9 445.3L487.3 445.7L485.6 446.3L483.9 446.1L483.9 444.1L483.3 442.2L483.1 440.3L481.7 438.8L481.8 436.7L480.5 435.2L479.5 433.7L478.6 432.0L478.0 430.2L478.7 428.6L478.9 426.9L478.9 425.2L479.6 423.8L480.3 422.5L481.7 421.6L482.2 420.1L481.8 418.4L481.2 416.7L480.5 415.1L480.2 413.2L478.9 411.7L478.9 409.9L479.4 408.1L480.3 406.5L480.5 404.7Z"/></g>
<g id="rGR"><path d="M483.9 446.1L485.6 446.3L487.3 445.7L488.9 445.3L490.6 444.8L492.3 444.8L494.0 444.5L495.6 444.4L497.3 444.8L499.0 444.2L500.7 444.5L502.2 445.6L503.9 446.1L505.8 446.2L507.4 447.0L509.1 446.9L510.7 446.4L512.4 447.3L514.1 447.0L515.8 446.9L517.4 446.1L519.1 446.1L520.3 445.1L520.8 443.6L522.0 442.6L523.6 442.5L525.0 441.9L524.5 442.8L524.8 443.4L525.4 443.8L526.1 444.3L526.0 445.0L526.1 445.7L525.4 446.3L525.3 447.0L525.1 447.6L525.1 448.3L525.0 449.0L524.4 449.4L524.2 450.2L523.0 450.0L522.5 450.5L522.7 450.3L522.0 449.9L523.0 450.0L522.1 451.1L522.0 452.0L521.3 452.3L520.8 451.4L520.3 451.9L519.7 452.5L519.0 453.0L518.5 452.4L517.9 451.9L517.0 452.1L516.7 451.0L516.9 451.4L517.0 450.7L517.4 451.7L516.0 450.7L515.8 450.6L515.8 449.8L516.2 450.8L515.0 451.0L514.4 450.5L513.6 450.7L512.8 450.7L512.1 450.4L511.6 449.5L510.7 450.0L510.0 450.0L509.2 449.6L508.5 449.8L507.9 450.6L507.0 450.0L506.5 451.0L505.7 450.8L505.0 451.0L504.1 450.4L503.5 450.8L502.7 450.8L502.0 450.9L501.3 451.1L500.7 451.6L500.0 452.0L499.1 451.8L498.4 452.1L497.7 452.3L497.0 452.7L496.3 453.0L496.0 454.0L495.5 454.5L494.9 454.9L494.1 455.1L493.5 455.4L493.0 456.0L492.8 456.8L493.3 457.4L493.0 458.1L493.0 458.8L493.7 459.4L494.0 460.0L494.6 460.6L495.4 460.4L496.0 461.2L497.0 460.5L497.7 460.7L498.1 461.8L499.0 461.5L498.3 461.5L497.8 462.1L497.2 462.4L496.4 462.4L496.0 463.0L495.3 463.0L495.0 462.0L494.4 461.7L493.5 462.0L493.0 461.5L493.8 461.9L494.1 462.6L493.9 463.8L495.1 463.8L495.5 464.5L494.8 464.1L494.1 464.2L493.5 463.5L492.8 463.3L492.0 464.0L491.9 463.1L491.2 462.8L491.7 462.8L490.9 462.1L490.0 462.0L489.6 462.7L489.1 463.2L489.0 464.0L488.7 463.3L488.5 462.5L487.8 462.2L487.0 462.0L487.0 461.2L487.1 460.5L486.5 460.0L485.8 459.6L485.5 459.0L485.1 458.3L484.4 458.1L484.0 457.2L483.0 457.5L482.2 457.2L481.7 457.8L480.9 457.8L480.5 458.5L480.1 459.3L481.0 460.0L481.0 460.7L480.2 461.6L480.6 462.3L481.0 463.0L481.7 463.4L481.3 464.5L482.2 464.8L482.5 465.5L482.8 466.2L482.9 466.9L483.3 467.6L484.0 468.0L483.7 469.0L484.3 469.5L485.3 469.8L484.9 470.9L485.8 471.2L486.0 472.0L486.5 472.5L487.0 473.0L487.3 473.6L487.7 474.1L487.6 474.9L488.0 475.5L487.0 475.5L487.2 476.5L486.9 477.1L486.3 477.4L486.0 478.0L485.4 478.4L484.8 478.5L484.2 479.0L483.3 478.6L483.0 479.5L482.2 479.1L481.5 479.3L481.0 480.0L481.7 480.0L482.3 480.5L482.9 480.9L483.7 480.6L484.2 481.5L485.0 481.0L485.7 481.1L486.4 481.2L487.2 481.1L487.8 481.8L488.4 482.4L489.3 481.8L490.0 482.0L490.6 482.6L491.1 483.0L491.7 483.5L492.7 483.3L493.0 484.3L494.0 484.0L494.3 484.8L495.1 484.9L495.4 485.7L496.2 485.8L496.8 486.2L497.0 487.1L498.0 487.0L498.2 487.7L498.2 488.6L499.2 488.8L499.5 489.5L500.0 490.0L499.3 490.6L499.5 491.4L499.4 492.1L499.0 492.7L499.5 493.5L499.0 492.6L498.3 492.5L497.5 492.4L497.0 491.7L496.0 492.0L495.8 491.1L495.2 490.6L494.6 490.4L493.9 490.0L493.0 490.1L492.9 489.0L492.0 489.0L491.3 488.8L490.5 488.6L490.3 487.3L489.3 487.6L488.5 487.6L488.0 487.0L487.3 486.8L487.0 486.3L486.7 485.8L487.4 486.2L486.8 486.1L486.2 486.1L486.5 485.3L486.6 486.0L486.1 486.2L485.5 485.8L484.8 485.6L484.0 486.0L483.4 485.7L483.1 485.3L482.7 484.8L483.3 485.1L482.7 485.4L482.0 485.7L481.4 485.4L480.7 484.9L480.0 485.5L479.2 485.1L478.5 485.8L477.8 486.2L477.0 486.0L476.4 486.4L475.6 485.9L475.0 486.4L474.4 486.8L473.7 486.9L473.0 487.0L472.4 486.4L471.7 486.7L471.1 486.3L470.3 486.7L469.7 486.1L469.0 486.5L468.5 485.8L467.9 485.3L467.2 485.3L466.3 485.6L466.8 485.0L466.9 484.2L467.2 485.2L465.8 484.9L465.0 485.0L464.5 484.4L465.3 484.1L464.4 483.4L463.3 483.4L462.8 482.7L462.5 482.0L462.1 481.3L462.0 480.4L461.1 480.1L460.3 479.8L460.0 479.0L459.7 478.3L458.9 478.1L458.2 477.8L458.0 477.0L457.8 476.2L457.5 475.5L456.8 475.2L456.4 474.6L455.3 474.7L456.0 473.9L455.0 474.0L454.3 473.5L454.6 472.4L453.5 472.2L453.5 471.2L452.9 470.7L452.5 470.0L452.8 468.4L453.4 466.8L454.4 465.5L455.0 464.0L455.8 462.3L457.0 460.7L457.7 458.9L459.0 457.5L459.8 456.0L461.0 454.7L461.5 453.0L463.0 452.2L464.6 451.8L466.0 451.0L467.6 450.8L469.0 450.1L470.5 450.0L472.0 449.5L473.5 449.4L475.0 449.2L476.5 448.9L478.0 448.5L479.4 448.2L480.6 447.6L481.5 446.5L482.8 446.8L483.9 446.1Z"/><path d="M463.9 491.0L464.8 491.3L465.3 490.7L465.7 489.9L466.4 489.8L467.2 489.7L467.6 488.9L468.4 489.0L468.9 488.5L469.7 488.9L470.4 488.1L471.2 488.1L471.9 488.5L472.7 488.9L473.4 488.8L474.1 488.6L474.9 489.1L475.6 488.5L476.5 488.5L476.6 489.8L477.6 489.5L478.1 490.3L478.8 490.6L478.3 490.2L479.8 490.2L480.4 490.7L481.1 491.0L481.4 492.1L482.3 491.8L482.3 492.9L483.5 492.9L482.6 493.4L482.6 494.1L482.3 493.2L483.9 493.5L484.5 494.0L484.2 495.2L485.5 495.2L485.7 496.0L485.1 496.6L484.9 497.3L484.4 497.9L484.6 498.8L484.0 499.4L483.2 499.5L482.7 500.0L482.3 499.4L481.8 499.1L482.5 499.1L481.8 500.0L481.3 500.6L480.7 501.0L480.4 502.1L481.5 502.3L481.5 503.2L481.8 503.9L482.7 504.2L482.8 505.1L483.3 505.6L484.0 506.1L483.9 506.9L483.8 507.1L484.4 507.5L484.8 508.0L485.0 508.7L485.0 509.5L485.4 510.1L485.7 510.7L486.5 511.1L485.8 511.3L485.3 510.2L484.6 510.0L483.9 509.8L483.1 510.0L482.3 510.3L481.8 509.7L481.2 509.2L480.8 508.5L480.4 507.8L479.9 507.1L479.0 506.9L478.0 507.4L478.6 508.4L478.2 509.0L478.0 508.2L478.0 509.8L477.3 510.3L477.0 511.1L477.3 511.9L476.7 511.5L476.6 510.8L476.3 510.1L476.5 509.2L475.7 508.8L475.4 508.2L474.8 507.8L474.5 507.0L474.5 506.2L473.5 505.9L473.4 505.1L473.1 504.4L473.2 505.2L472.2 505.7L472.6 506.6L471.8 507.1L471.5 507.8L471.8 508.7L471.4 509.4L470.7 509.1L470.5 508.4L470.8 507.3L470.0 507.0L469.6 506.4L468.9 506.1L468.7 505.3L468.2 504.7L469.0 503.7L468.5 503.8L468.5 503.0L468.4 502.3L467.4 501.7L467.5 500.9L467.2 500.2L467.0 499.5L466.3 499.2L466.2 498.4L465.5 498.0L465.3 497.3L465.6 496.3L464.7 496.0L464.5 495.3L465.5 495.2L464.9 494.5L464.8 493.8L464.0 493.2L464.9 492.3L464.4 491.6Z"/><path d="M490.7 525.4L492.4 524.8L494.0 524.4L495.8 524.5L497.4 525.5L498.9 526.7L500.6 527.4L502.5 527.9L504.2 528.2L505.8 527.9L507.5 528.3L509.2 527.4L510.9 527.9L512.6 528.1L514.2 528.4L515.9 528.2L517.6 528.7L519.5 528.7L521.5 528.2L523.5 528.7L523.4 530.2L523.1 531.6L522.6 532.9L520.9 532.6L519.3 533.1L517.6 533.3L515.9 533.5L514.2 533.8L512.5 533.4L510.9 533.9L509.2 534.1L507.5 534.2L505.8 534.6L504.8 533.4L503.1 533.3L502.2 531.8L500.8 531.2L499.2 530.7L497.5 530.5L495.8 530.2L494.1 530.4L492.6 530.0L491.4 529.0L489.9 528.7L490.4 527.1Z"/><path d="M538.6 516.1L539.6 515.0L541.0 514.3L542.3 513.5L543.6 512.8L544.4 514.1L545.3 515.3L544.3 516.6L543.3 517.9L542.4 519.3L541.1 520.3L540.4 518.8L539.7 517.4Z"/><path d="M531.0 522.3L532.1 522.5L533.0 522.0L533.1 523.7L533.6 525.3L533.5 527.0L532.4 527.2L531.5 527.9L531.4 526.0L531.3 524.2Z"/><path d="M484.0 477.0L484.7 476.8L485.3 476.5L486.0 476.5L486.7 476.7L487.3 476.4L488.0 476.5L489.4 477.0L490.5 478.2L492.0 478.5L493.2 479.9L494.4 481.2L496.0 482.0L496.7 483.3L498.2 483.8L499.0 485.0L499.0 486.4L500.0 487.5L499.3 487.2L498.9 486.5L498.1 486.4L497.6 485.9L497.0 485.5L496.7 484.7L495.8 484.8L495.3 484.2L494.9 483.5L494.5 482.8L493.8 482.6L493.0 482.5L491.8 481.4L490.2 481.0L489.0 480.0L487.7 479.6L486.2 479.8L485.0 479.0L484.6 478.4L485.2 477.5L484.7 477.5Z"/><path d="M517.0 475.0L518.3 473.9L520.0 473.5L521.3 473.9L522.6 474.3L524.0 474.0L525.2 475.1L526.0 476.5L525.2 477.7L524.0 478.5L522.7 478.1L521.4 477.7L520.0 478.0L518.6 477.4L518.3 475.7Z"/><path d="M517.5 484.0L518.8 483.9L520.0 483.5L520.2 485.3L521.0 487.0L520.6 488.5L519.5 489.5L518.7 488.7L517.8 488.0L517.7 486.7L518.1 485.3Z"/><path d="M525.1 495.2L526.8 494.7L528.5 494.0L530.2 494.5L531.8 495.2L530.7 496.1L529.3 496.8L527.7 496.7L526.0 496.8Z"/><path d="M508.0 465.0L509.2 464.3L510.5 464.0L511.6 465.0L513.0 465.0L512.5 466.2L511.5 467.0L510.2 466.9L508.8 466.8Z"/><path d="M502.5 454.0L503.5 454.3L504.5 453.8L504.8 454.8L504.8 455.8L503.8 455.6L502.8 456.0L503.0 454.9Z"/><path d="M513.0 457.5L513.9 457.0L515.0 457.2L515.2 458.6L513.3 458.8Z"/><path d="M501.0 479.0L502.5 478.5L503.5 479.6L503.5 481.0L502.0 481.5L501.7 480.2Z"/><path d="M446.0 467.0L447.2 467.7L448.5 467.5L449.4 468.5L449.7 469.9L450.5 471.0L451.2 472.2L451.0 473.5L449.8 473.4L449.0 472.5L447.6 471.6L447.0 470.0L446.4 468.5Z"/><path d="M454.0 487.0L455.1 486.1L456.5 486.0L457.3 487.2L458.5 488.0L458.2 489.3L457.5 490.5L456.2 490.3L455.0 490.0L454.5 488.5Z"/><path d="M457.8 476.8L458.3 476.4L458.9 476.4L459.5 476.5L459.5 477.3L460.1 477.9L459.7 478.8L460.0 479.5L458.5 479.8L458.2 478.3Z"/><path d="M457.5 494.0L458.6 494.2L459.5 493.5L460.4 494.3L460.5 495.5L459.5 495.7L458.5 496.0L457.7 495.2Z"/><path d="M500.0 496.0L501.3 495.8L501.6 497.7L500.2 497.8Z"/><path d="M505.0 498.5L506.6 498.3L506.9 499.7L505.3 499.9Z"/><path d="M508.4 504.4L510.2 504.1L510.5 505.6L508.6 505.7Z"/><path d="M512.6 503.6L514.2 503.3L514.4 504.7L512.8 504.9Z"/><path d="M500.0 508.6L501.0 508.0L502.1 508.3L502.4 509.5L501.3 509.1L500.2 509.7Z"/><path d="M505.8 509.4L507.0 509.2L508.3 509.2L508.5 510.4L507.3 510.1L506.1 510.5Z"/><path d="M516.7 506.9L518.4 506.7L518.6 507.9L517.0 508.0Z"/><path d="M521.8 510.3L523.4 510.0L523.6 511.2L522.0 511.4Z"/><path d="M512.6 512.8L513.6 512.5L513.9 514.0L512.8 514.1Z"/><path d="M518.4 496.8L519.8 496.8L521.1 496.6L521.4 497.8L520.0 498.0L518.7 498.0Z"/><path d="M527.7 502.7L529.0 502.5L529.2 503.9L527.9 504.1Z"/><path d="M531.8 507.8L533.5 507.5L533.7 508.9L532.1 509.1Z"/><path d="M535.2 511.1L536.3 510.9L536.5 512.0L535.5 512.2Z"/><path d="M501.6 479.2L503.0 479.0L503.6 480.0L503.2 481.1L501.9 481.3L502.1 480.2Z"/><path d="M487.4 499.4L488.7 499.1L489.0 500.5L487.6 500.7Z"/><path d="M489.1 495.2L490.1 494.9L490.4 496.1L489.3 496.3Z"/></g>
<g id="rES"><path d="M118.5 436.1L117.2 434.6L116.8 432.7L116.0 431.0L115.0 429.7L113.9 428.5L113.5 426.8L112.7 425.2L112.9 423.5L112.6 421.8L114.2 421.2L115.4 419.8L117.1 419.4L118.5 418.5L120.4 418.1L121.7 416.6L123.7 416.4L125.2 415.1L126.9 414.8L128.6 415.2L130.3 414.9L131.9 414.4L133.6 414.3L135.2 414.8L136.9 415.0L138.7 415.0L140.3 415.5L142.0 415.9L143.7 415.9L145.3 415.4L147.0 415.9L148.7 416.2L150.4 415.9L152.1 415.7L153.7 416.2L155.4 416.8L157.1 416.3L158.8 416.8L160.5 416.6L162.2 416.6L163.8 417.0L165.5 417.4L167.1 417.6L168.8 418.1L170.5 418.1L172.2 417.4L173.9 417.4L175.5 417.6L177.2 417.1L178.9 416.9L180.5 416.8L182.3 417.6L183.9 416.9L185.6 416.8L187.4 416.8L188.8 418.1L190.7 417.8L192.3 418.5L194.1 418.8L196.0 418.8L197.9 418.8L199.7 419.6L201.5 419.3L202.8 420.6L204.2 421.8L205.7 422.7L207.3 423.6L209.0 424.1L210.6 424.9L212.4 425.2L214.2 424.9L215.8 425.6L217.4 426.1L219.1 426.3L220.8 426.0L222.5 426.6L224.1 426.9L225.9 426.6L227.6 426.8L229.1 427.7L230.8 428.5L232.7 428.5L234.3 429.4L236.0 429.7L237.7 429.8L239.3 430.5L241.0 431.0L242.6 431.6L244.3 431.3L246.0 431.9L247.6 432.2L249.4 431.9L251.1 431.8L252.8 431.8L254.4 432.8L256.1 432.7L256.0 434.3L255.2 435.7L254.9 437.2L254.4 438.6L253.3 439.9L252.2 441.0L250.3 441.4L249.4 442.8L247.5 443.5L245.8 444.6L244.2 445.7L242.7 447.0L240.9 447.7L239.4 449.0L237.6 449.4L235.9 450.3L234.4 451.5L232.7 452.3L231.1 453.3L229.2 453.7L228.3 455.2L227.2 456.6L225.9 457.9L225.1 459.4L224.2 460.8L223.8 462.6L222.5 463.8L221.2 464.8L220.1 466.0L219.3 467.4L218.3 468.8L217.1 470.3L216.9 472.3L215.8 473.8L215.9 475.7L217.2 477.1L217.5 478.9L218.6 480.0L219.7 481.1L220.8 482.2L219.6 483.7L218.3 485.0L216.6 485.9L215.5 487.2L214.3 488.2L213.5 489.7L212.4 491.0L211.6 492.7L210.3 494.1L209.9 496.0L208.7 497.3L207.0 497.8L205.2 498.2L204.1 499.7L202.4 500.2L201.1 501.4L200.1 503.0L198.5 503.8L197.3 505.2L196.0 506.4L194.8 507.8L194.0 509.4L192.3 509.2L190.7 510.2L188.9 509.5L187.3 510.3L185.6 510.5L183.9 509.8L182.3 509.7L180.6 509.8L178.9 509.4L177.2 509.3L175.5 509.5L173.8 509.5L172.2 510.4L170.5 510.3L168.7 510.6L167.0 511.2L165.5 512.3L163.8 512.8L162.2 513.7L160.7 514.6L159.6 516.1L158.3 516.8L157.2 517.6L156.2 518.7L154.9 518.1L153.4 518.2L152.0 517.8L151.0 516.0L149.2 515.1L147.9 513.6L146.8 512.0L146.5 510.1L145.3 508.6L145.3 506.8L144.5 505.2L143.1 504.5L141.5 504.2L140.1 503.2L138.6 502.7L137.0 502.4L135.2 502.4L133.6 501.9L133.8 500.4L132.8 499.1L132.8 497.7L133.1 496.1L134.9 495.5L135.3 494.0L136.2 492.3L136.6 490.4L137.8 488.9L137.0 487.2L136.1 485.6L135.3 483.9L136.0 482.5L135.8 480.9L136.6 479.5L136.9 478.0L135.9 476.7L135.5 475.1L134.4 473.8L134.3 472.1L134.7 470.4L135.3 468.8L136.3 467.7L137.0 466.3L138.0 465.2L138.6 463.8L139.4 462.1L140.4 460.4L141.1 458.7L141.1 457.0L140.1 455.4L140.3 453.7L140.9 451.9L141.7 450.2L142.8 448.7L144.4 447.4L145.3 445.6L147.0 444.5L146.3 443.1L145.3 441.9L144.5 440.6L143.5 439.3L142.8 437.8L140.9 437.7L139.1 438.5L137.2 438.3L135.3 438.6L133.6 438.5L132.0 439.3L130.3 439.6L128.6 439.4L127.1 438.4L125.8 437.1L124.4 436.1L122.4 436.6L120.4 435.8L118.5 436.1Z"/><path d="M246.0 469.6L247.1 468.5L248.5 467.9L249.5 466.7L251.0 466.3L253.0 465.8L255.0 466.4L256.9 466.3L257.4 468.1L258.6 469.6L257.2 471.1L255.8 472.4L254.4 473.8L252.7 473.4L251.0 473.6L249.4 473.0L248.2 471.9L246.8 471.0Z"/><path d="M262.8 464.1L264.2 463.9L265.6 463.5L267.0 463.4L268.2 464.7L269.5 465.8L268.1 465.7L266.6 465.7L265.3 466.3L263.8 465.5Z"/><path d="M233.4 478.0L234.4 476.7L235.9 476.3L236.6 477.8L238.0 478.5L236.7 479.5L235.9 480.9L235.0 480.4L233.9 480.2L233.9 479.1Z"/></g>
<g id="rPT"><path d="M118.5 436.1L117.7 438.0L118.1 440.0L117.7 441.9L118.3 443.6L118.1 445.3L118.6 446.9L118.5 448.7L118.5 450.4L118.5 452.1L117.5 453.6L117.7 455.4L117.0 457.0L116.9 458.8L115.9 460.3L116.0 462.1L115.0 463.6L114.5 465.4L114.6 467.3L113.5 468.8L112.5 470.4L112.1 472.3L110.9 473.8L110.2 475.4L110.8 477.2L110.7 478.9L110.1 480.5L110.5 482.0L111.5 483.2L112.6 484.3L113.9 484.9L115.4 485.1L116.8 485.1L116.7 486.8L116.8 488.5L117.8 490.1L117.7 491.8L117.4 493.5L117.5 495.2L117.4 496.9L116.8 498.5L116.0 499.9L116.4 501.6L115.7 503.0L115.1 504.4L116.8 504.0L118.5 504.7L120.2 504.4L122.0 504.9L123.9 505.0L125.8 505.3L127.7 505.2L128.9 503.9L130.9 503.9L132.0 502.4L133.6 501.9L133.8 500.4L132.8 499.1L132.8 497.7L133.1 496.1L134.9 495.5L135.3 494.0L136.2 492.3L136.6 490.4L137.8 488.9L137.0 487.2L136.1 485.6L135.3 483.9L136.0 482.5L135.8 480.9L136.6 479.5L136.9 478.0L135.9 476.7L135.5 475.1L134.4 473.8L134.3 472.1L134.7 470.4L135.3 468.8L136.3 467.7L137.0 466.3L138.0 465.2L138.6 463.8L139.4 462.1L140.4 460.4L141.1 458.7L141.1 457.0L140.1 455.4L140.3 453.7L140.9 451.9L141.7 450.2L142.8 448.7L144.4 447.4L145.3 445.6L147.0 444.5L146.3 443.1L145.3 441.9L144.5 440.6L143.5 439.3L142.8 437.8L140.9 437.7L139.1 438.5L137.2 438.3L135.3 438.6L133.6 438.5L132.0 439.3L130.3 439.6L128.6 439.4L127.1 438.4L125.8 437.1L124.4 436.1L122.4 436.6L120.4 435.8L118.5 436.1Z"/></g>
<g id="over">
<g fill="#3a3a3a" fill-opacity=".75" stroke="none"><path d="M313.0 148.2L312.8 147.8L313.8 147.1L314.3 147.2L314.1 147.7L313.4 148.2Z"/><path d="M276.6 176.9L276.2 176.7L276.4 175.6L276.8 175.4L277.1 175.7L276.9 176.6Z"/><path d="M276.3 170.2L275.6 170.0L274.9 168.8L275.1 168.0L275.8 168.2L276.4 169.4Z"/><path d="M276.5 178.2L276.0 178.4L275.3 178.2L275.0 177.7L275.5 177.6L276.4 177.9Z"/><path d="M364.2 112.1L364.7 111.3L365.4 110.6L366.0 110.8L366.0 111.2L365.1 112.1Z"/><path d="M286.8 161.8L286.0 161.5L285.3 160.6L285.2 159.9L285.9 160.1L286.6 160.9Z"/><path d="M279.1 163.9L278.1 164.5L276.7 164.4L275.7 163.8L276.7 163.1L278.2 163.5Z"/><path d="M368.5 111.1L367.8 110.9L367.3 110.0L367.4 109.4L368.0 109.6L368.8 110.6Z"/><path d="M289.2 158.9L288.8 159.1L288.2 158.9L288.2 158.5L288.6 158.5L289.0 158.6Z"/><path d="M346.7 128.2L346.4 127.8L346.8 126.7L347.3 126.4L347.6 126.9L347.3 127.9Z"/><path d="M275.5 178.2L274.9 177.9L275.1 176.6L275.4 175.9L275.9 176.4L276.0 177.9Z"/><path d="M279.3 181.9L278.7 181.8L277.9 181.4L277.6 180.8L278.3 180.9L279.1 181.3Z"/><path d="M281.3 188.1L281.5 187.9L282.1 187.7L282.5 187.9L282.2 188.1L281.6 188.3Z"/><path d="M354.0 124.8L353.0 124.7L352.4 124.0L352.3 123.3L353.1 123.3L353.8 124.1Z"/><path d="M278.2 163.4L277.7 163.0L277.8 161.3L278.5 160.8L278.9 161.4L278.7 163.1Z"/><path d="M314.9 146.9L315.2 146.5L315.8 146.4L316.1 146.6L315.9 146.8L315.2 147.1Z"/><path d="M276.9 177.5L277.0 177.1L277.3 176.7L277.8 176.6L277.6 177.1L277.3 177.3Z"/><path d="M328.8 139.2L328.3 139.0L327.8 138.4L328.0 137.9L328.4 137.9L328.9 138.8Z"/><path d="M286.8 160.5L286.2 160.6L285.3 160.2L285.1 159.8L285.6 159.6L286.6 159.9Z"/><path d="M312.7 149.4L312.6 148.9L312.9 148.2L313.3 148.0L313.5 148.3L313.2 149.1Z"/><path d="M372.1 103.4L372.2 102.8L372.9 102.2L373.5 101.9L373.4 102.6L372.8 103.3Z"/><path d="M331.0 137.4L330.9 137.0L331.2 136.1L331.7 135.6L331.7 136.4L331.5 137.2Z"/><path d="M367.8 108.3L367.4 108.0L367.5 106.8L367.9 106.4L368.3 107.1L368.2 108.0Z"/><path d="M345.7 130.2L345.3 129.7L345.2 128.2L345.9 127.4L346.3 128.5L346.3 130.0Z"/><path d="M279.8 162.3L279.7 162.5L279.0 162.6L278.8 162.3L279.1 162.0L279.6 162.0Z"/><path d="M276.4 164.7L276.9 163.4L277.9 162.7L278.8 162.6L278.6 163.6L277.8 164.5Z"/><path d="M320.4 144.2L320.4 143.6L321.4 142.8L322.1 142.7L321.8 143.4L320.9 144.1Z"/><path d="M370.6 106.8L370.2 106.9L369.5 106.9L369.2 106.6L369.6 106.4L370.2 106.5Z"/><path d="M276.6 175.5L275.7 175.5L274.6 174.9L274.0 173.9L275.1 173.9L276.5 174.8Z"/><path d="M379.9 94.3L379.5 94.6L378.3 94.2L378.1 93.5L378.6 93.3L379.6 93.7Z"/><path d="M354.9 123.8L354.4 123.7L354.1 122.7L354.1 122.3L354.6 122.5L355.1 123.4Z"/><path d="M368.1 109.9L367.6 110.1L366.5 109.7L366.4 109.2L366.7 108.8L367.9 109.5Z"/><path d="M283.7 163.1L283.1 163.1L282.2 162.4L282.1 162.0L282.7 162.0L283.3 162.4Z"/><path d="M361.7 118.7L361.6 118.2L361.9 117.4L362.4 117.3L362.4 117.7L362.3 118.4Z"/><path d="M299.2 156.9L299.0 156.4L299.3 155.7L299.6 155.4L299.8 155.9L299.6 156.6Z"/><path d="M333.2 136.4L333.7 135.6L334.6 135.1L335.5 135.1L335.0 135.9L334.1 136.3Z"/><path d="M281.1 164.3L280.5 163.9L280.5 162.4L281.0 162.1L281.6 162.5L281.5 163.7Z"/><path d="M377.2 98.1L376.7 98.0L376.1 97.2L376.1 96.6L376.7 96.8L377.3 97.5Z"/><path d="M283.1 190.8L282.6 190.5L282.1 189.8L282.1 189.3L282.7 189.4L283.0 190.2Z"/><path d="M280.4 189.9L280.4 189.3L281.6 188.8L282.4 188.7L282.0 189.4L280.9 190.0Z"/><path d="M350.1 125.4L349.6 125.3L349.2 124.7L349.1 124.3L349.6 124.3L350.1 124.9Z"/><path d="M338.0 131.3L338.4 130.7L339.2 130.5L340.0 130.6L339.6 131.0L338.6 131.5Z"/><path d="M368.1 109.2L367.9 108.3L369.2 107.2L370.1 106.8L369.8 107.9L369.0 109.0Z"/><path d="M325.8 141.9L325.7 141.5L326.2 140.8L326.5 140.9L326.6 141.2L326.2 141.8Z"/><path d="M364.3 112.1L364.7 111.3L366.3 110.8L366.8 111.1L366.3 111.9L365.3 112.4Z"/><path d="M329.9 137.6L330.2 137.3L330.7 136.9L331.2 137.1L330.9 137.5L330.3 137.7Z"/><path d="M308.9 150.5L309.3 150.0L309.8 149.5L310.6 149.5L310.2 150.0L309.4 150.6Z"/><path d="M324.7 141.5L324.2 141.8L323.1 141.2L323.1 140.9L323.5 140.7L324.6 141.1Z"/><path d="M278.4 163.0L278.1 162.6L278.6 161.6L279.0 161.4L279.1 161.9L279.0 162.8Z"/><path d="M314.1 149.1L313.7 148.6L314.1 147.0L314.9 146.1L315.2 147.4L314.8 148.7Z"/><path d="M292.0 160.9L291.3 160.7L290.9 159.8L290.8 159.2L291.5 159.4L292.0 160.3Z"/><path d="M351.2 123.2L351.6 122.7L353.2 122.2L353.7 122.7L353.3 123.2L351.9 123.7Z"/><path d="M295.8 157.1L295.5 157.2L294.9 156.7L294.8 156.3L295.2 156.4L295.8 156.7Z"/><path d="M323.9 145.1L323.2 145.2L322.6 144.5L322.6 144.2L323.0 144.0L323.6 144.6Z"/><path d="M327.8 140.0L327.4 140.3L326.2 140.3L325.5 139.7L326.3 139.4L327.5 139.4Z"/><path d="M341.3 132.2L340.9 131.6L341.8 130.5L342.5 130.5L342.6 131.2L342.0 132.2Z"/><path d="M372.4 100.0L372.9 99.4L374.3 99.0L374.6 99.4L374.3 100.0L373.3 100.3Z"/><path d="M321.4 145.1L321.3 144.3L322.1 143.5L322.8 143.2L322.7 144.0L321.9 145.0Z"/><path d="M282.4 163.1L282.1 162.6L282.1 162.0L282.3 161.7L282.6 162.1L282.6 162.6Z"/><path d="M274.5 173.6L274.6 173.0L275.2 172.2L276.0 171.7L275.8 172.5L275.1 173.4Z"/><path d="M276.6 164.3L276.5 163.6L277.4 162.8L278.0 162.8L277.9 163.6L277.1 164.3Z"/><path d="M314.3 147.2L314.0 146.9L313.7 146.4L313.8 146.1L314.1 146.1L314.3 146.7Z"/><path d="M369.1 108.2L368.9 107.8L369.0 107.1L369.1 106.8L369.4 107.3L369.4 107.8Z"/><path d="M329.6 138.7L330.2 138.0L331.1 137.6L331.5 137.9L331.5 138.3L330.5 138.9Z"/><path d="M360.0 118.5L359.8 118.1L359.9 117.4L360.3 117.1L360.4 117.6L360.3 118.2Z"/><path d="M298.0 157.8L297.3 157.4L297.1 156.7L297.1 156.2L297.5 156.3L298.0 157.0Z"/><path d="M316.2 147.5L315.8 146.8L315.7 145.9L315.9 145.3L316.3 145.8L316.4 146.8Z"/><path d="M278.6 177.8L278.1 178.1L277.0 177.5L276.7 176.9L277.2 176.7L278.3 177.2Z"/><path d="M339.5 131.2L339.5 130.9L339.8 130.4L340.1 130.3L340.2 130.7L339.9 131.1Z"/><path d="M312.8 148.7L312.3 148.3L312.0 147.4L312.3 146.7L312.8 147.2L313.0 148.2Z"/><path d="M294.5 157.4L294.6 156.8L295.3 156.5L295.8 156.5L295.6 156.9L295.1 157.3Z"/><path d="M276.1 175.3L275.7 174.9L275.7 174.1L276.2 173.4L276.6 174.0L276.4 174.9Z"/><path d="M281.0 192.4L280.9 191.7L281.3 190.8L281.9 190.1L282.0 190.9L281.6 192.1Z"/><path d="M276.2 170.0L275.9 169.5L276.1 168.3L276.6 168.0L276.9 168.4L276.6 169.7Z"/><path d="M371.5 104.5L370.8 104.7L369.9 104.4L369.8 103.9L370.1 103.6L371.0 104.0Z"/><path d="M278.7 186.3L278.6 185.6L278.8 185.0L279.2 184.8L279.5 185.2L279.3 186.0Z"/><path d="M297.8 155.5L298.1 155.2L298.6 155.2L298.8 155.4L298.6 155.6L298.0 155.7Z"/><path d="M292.9 157.5L293.4 156.9L294.7 156.7L295.3 157.1L294.9 157.8L293.3 157.9Z"/><path d="M274.3 168.3L274.4 167.5L275.6 166.6L276.2 166.9L276.1 167.4L274.9 168.3Z"/><path d="M276.7 177.7L276.8 177.2L277.3 176.7L277.7 176.7L277.6 177.2L277.2 177.6Z"/><path d="M279.2 185.4L278.7 185.3L278.3 184.2L278.3 183.6L279.1 183.9L279.4 184.9Z"/><path d="M319.2 145.7L318.6 145.3L318.0 144.6L318.0 144.0L318.5 144.2L319.2 145.0Z"/><path d="M314.5 146.5L314.2 146.8L313.5 146.6L313.1 146.3L313.6 146.0L314.3 146.3Z"/><path d="M307.2 152.8L307.0 152.2L307.4 151.3L308.1 151.0L308.2 151.8L307.6 152.7Z"/><path d="M331.1 138.7L331.4 138.2L332.4 137.7L333.0 137.9L332.7 138.3L331.7 138.8Z"/><path d="M345.8 129.5L345.0 128.8L344.2 127.5L344.5 126.7L345.2 127.1L345.7 128.2Z"/><path d="M324.9 144.1L324.3 143.0L324.4 141.8L324.9 141.2L325.3 141.9L325.4 143.0Z"/><path d="M342.8 129.2L342.8 128.7L343.7 128.1L344.4 128.2L344.2 128.8L343.4 129.4Z"/><path d="M377.1 96.9L377.0 96.3L377.6 95.6L378.2 95.4L378.2 96.0L377.8 96.8Z"/><path d="M338.8 132.2L338.0 132.2L337.2 131.2L337.1 130.3L338.0 130.5L338.6 131.5Z"/><path d="M274.3 167.7L274.4 166.9L274.8 166.4L275.4 166.2L275.5 166.7L274.9 167.6Z"/><path d="M310.6 150.0L310.0 149.5L309.5 148.4L309.9 147.6L310.5 148.1L310.8 149.4Z"/><path d="M327.8 139.5L327.6 139.3L327.4 138.5L327.7 138.0L328.0 138.4L328.2 139.2Z"/><path d="M314.9 147.0L314.7 147.2L314.0 147.2L313.8 147.0L314.1 146.7L314.6 146.7Z"/><path d="M280.3 163.5L279.8 163.5L279.3 162.4L279.3 161.6L280.0 162.0L280.6 162.8Z"/><path d="M366.8 111.1L366.0 110.8L365.2 109.5L365.1 108.6L366.1 109.2L366.9 110.2Z"/><path d="M293.7 159.4L293.8 158.4L294.7 157.2L295.7 157.0L295.5 158.0L294.5 159.2Z"/><path d="M325.8 141.2L326.2 140.7L327.2 140.1L327.6 140.5L327.5 141.1L326.2 141.6Z"/><path d="M347.3 129.5L346.9 129.3L347.0 128.6L347.3 128.2L347.5 128.6L347.6 129.4Z"/><path d="M373.1 100.1L373.1 99.3L373.7 98.0L374.4 97.5L374.3 98.7L373.7 99.8Z"/><path d="M297.4 156.2L297.0 156.0L297.1 155.1L297.2 154.6L297.6 155.1L297.7 155.9Z"/><path d="M317.0 147.6L316.7 147.8L315.8 147.1L315.6 146.4L316.3 146.5L317.2 147.1Z"/><path d="M319.3 145.1L318.6 145.3L317.6 145.0L317.0 144.2L317.9 143.9L318.9 144.4Z"/><path d="M280.6 189.2L280.7 188.5L281.9 187.6L282.9 187.5L282.7 188.4L281.5 189.2Z"/><path d="M380.2 96.6L379.7 96.6L379.0 96.2L378.8 95.7L379.2 95.5L380.1 96.1Z"/><path d="M350.7 124.3L351.1 124.0L351.7 123.8L351.9 124.1L351.7 124.5L351.0 124.5Z"/><path d="M286.6 161.5L286.2 161.7L285.4 161.7L285.2 161.4L285.6 161.2L286.3 161.2Z"/><path d="M368.0 106.7L368.2 106.0L368.9 105.4L369.5 105.6L369.4 106.2L368.5 106.7Z"/><path d="M290.3 161.4L289.6 161.2L288.9 160.6L288.7 159.8L289.4 159.9L290.1 160.7Z"/><path d="M299.1 155.2L298.7 154.3L298.7 153.3L299.2 152.8L299.7 153.4L299.5 154.6Z"/><path d="M275.5 172.2L275.7 171.3L276.4 170.6L277.0 170.6L277.0 171.2L276.2 172.1Z"/><path d="M286.1 161.5L285.0 161.4L283.9 161.1L283.3 160.2L284.3 160.1L285.5 160.6Z"/><path d="M280.5 181.2L279.6 181.7L278.4 181.7L278.1 181.1L278.4 180.8L279.9 180.6Z"/><path d="M342.2 131.8L341.8 131.8L341.2 131.3L341.1 130.9L341.5 131.0L342.1 131.3Z"/><path d="M368.3 109.6L367.9 109.4L368.0 108.4L368.4 107.9L368.7 108.5L368.7 109.3Z"/><path d="M280.7 189.7L280.5 189.4L280.6 188.8L280.9 188.4L281.0 188.8L281.0 189.4Z"/><path d="M332.6 136.8L333.0 136.0L334.2 135.3L334.7 135.4L334.6 136.1L333.7 136.7Z"/><path d="M368.5 106.6L368.2 105.4L368.7 104.2L369.7 103.5L369.7 104.6L369.4 105.9Z"/><path d="M293.9 158.3L294.2 157.8L295.4 157.7L296.0 158.1L295.3 158.5L294.5 158.7Z"/><path d="M336.9 131.6L337.5 131.0L338.5 130.6L339.3 130.8L338.8 131.3L337.8 131.7Z"/><path d="M280.4 192.6L281.0 192.2L282.0 192.1L282.5 192.3L282.0 192.8L281.1 192.8Z"/><path d="M326.2 142.2L326.6 142.0L327.3 141.9L327.5 142.1L327.4 142.3L326.5 142.5Z"/><path d="M323.0 144.0L322.7 143.9L322.4 143.4L322.5 143.0L322.8 143.2L323.0 143.6Z"/><path d="M377.1 96.3L377.7 95.9L378.8 95.7L379.1 96.0L378.7 96.4L377.8 96.7Z"/><path d="M366.9 113.4L366.0 112.7L365.4 111.5L365.4 110.7L366.2 111.0L366.8 112.1Z"/><path d="M357.5 121.7L357.6 121.2L358.1 120.5L358.5 120.5L358.5 120.9L358.0 121.5Z"/><path d="M301.9 153.7L302.0 153.0L302.8 152.5L303.4 152.5L303.4 153.1L302.6 153.8Z"/><path d="M308.4 150.4L308.5 149.8L309.9 148.5L310.9 148.7L310.5 149.7L309.2 150.5Z"/><path d="M371.6 104.2L370.9 104.4L370.0 104.0L369.6 103.3L370.4 103.3L371.3 103.6Z"/><path d="M277.8 178.1L277.4 178.3L276.2 177.5L276.2 176.9L276.8 176.8L278.0 177.7Z"/><path d="M350.5 126.8L350.1 126.3L350.3 125.2L350.7 124.6L350.9 125.4L350.9 126.4Z"/><path d="M356.9 121.2L356.4 121.3L355.9 121.3L355.6 121.0L355.9 120.8L356.6 121.0Z"/><path d="M274.9 168.7L275.4 167.6L276.7 166.8L277.4 166.7L277.2 167.6L276.0 168.6Z"/><path d="M336.1 135.1L335.5 134.8L334.8 133.4L335.0 132.4L335.7 132.8L336.4 134.3Z"/><path d="M378.0 98.1L377.1 98.2L376.1 98.0L375.5 97.4L376.3 97.2L377.3 97.5Z"/><path d="M319.2 145.3L318.5 145.6L317.4 145.3L317.1 144.7L317.7 144.3L318.7 144.7Z"/><path d="M320.8 145.1L320.8 144.5L321.3 144.0L321.8 143.7L321.9 144.2L321.3 144.8Z"/><path d="M362.2 116.6L362.3 115.9L362.7 115.3L363.1 115.1L363.3 115.5L362.7 116.3Z"/><path d="M299.9 155.7L300.5 154.9L301.6 154.5L302.0 154.9L301.7 155.5L300.7 155.8Z"/><path d="M378.6 96.0L378.1 95.2L378.9 93.8L379.8 92.9L379.9 94.1L379.5 95.7Z"/><path d="M324.7 142.3L324.2 141.8L323.9 140.8L324.2 140.1L324.6 140.7L324.9 141.6Z"/><path d="M378.4 94.0L378.4 93.6L379.4 93.5L379.6 93.7L379.5 94.1L378.6 94.3Z"/><path d="M320.9 144.8L321.0 144.1L321.8 143.3L322.5 143.0L322.3 143.7L321.6 144.5Z"/><path d="M305.9 152.9L306.0 152.3L307.2 152.1L307.9 152.4L307.2 153.1L306.1 153.3Z"/><path d="M357.9 121.2L357.4 121.0L356.8 119.8L357.1 119.4L357.7 119.6L358.1 120.5Z"/><path d="M346.3 127.9L346.3 127.4L347.0 126.8L347.7 126.7L347.6 127.3L346.9 127.9Z"/><path d="M335.0 135.8L334.3 135.4L333.8 134.1L333.7 133.1L334.7 133.8L335.2 135.0Z"/><path d="M277.2 176.6L276.7 176.7L275.9 175.9L275.9 175.6L276.3 175.5L277.1 176.1Z"/><path d="M350.8 124.7L351.0 123.9L351.5 123.4L352.2 123.2L352.0 123.7L351.4 124.6Z"/><path d="M331.8 137.0L331.4 136.5L332.0 135.1L332.6 134.4L332.7 135.6L332.4 136.7Z"/><path d="M316.6 145.8L316.2 145.7L315.9 145.2L315.8 144.7L316.2 144.9L316.6 145.5Z"/><path d="M279.0 184.6L278.6 184.5L278.4 183.8L278.6 183.4L279.0 183.7L279.2 184.4Z"/><path d="M275.4 170.9L275.5 170.1L276.0 169.4L276.6 169.0L276.5 169.7L276.1 170.5Z"/><path d="M367.5 109.4L367.5 108.9L367.7 108.3L368.2 107.9L368.2 108.5L367.9 109.1Z"/><path d="M282.8 187.6L282.1 187.5L281.2 187.0L281.0 186.4L281.6 186.4L282.4 186.9Z"/><path d="M372.9 100.8L372.3 100.3L372.4 99.2L372.8 98.3L373.3 98.9L373.4 100.4Z"/><path d="M344.4 130.4L344.0 129.8L343.7 128.6L344.1 128.0L344.5 128.4L344.8 129.5Z"/><path d="M312.0 149.1L312.0 148.1L312.5 146.9L313.0 146.8L313.3 147.4L312.8 148.4Z"/><path d="M378.9 96.1L378.6 96.3L377.9 96.1L377.4 95.7L378.0 95.7L378.8 95.9Z"/><path d="M298.7 154.5L298.7 154.0L299.9 153.7L300.4 153.9L300.0 154.4L299.2 154.6Z"/><path d="M365.0 112.1L364.5 111.6L364.1 110.9L364.1 110.2L364.6 110.6L365.0 111.3Z"/><path d="M371.7 104.3L371.0 104.1L370.1 103.0L370.2 102.4L370.9 102.5L371.5 103.3Z"/><path d="M284.6 162.2L284.3 162.3L283.6 162.2L283.4 161.9L283.8 161.7L284.4 161.8Z"/><path d="M343.7 131.6L343.6 130.8L344.5 129.7L345.2 129.3L345.0 130.3L344.4 131.3Z"/><path d="M280.6 186.5L280.1 185.9L280.1 184.7L280.6 184.1L280.9 184.8L281.0 185.7Z"/><path d="M367.7 109.6L367.2 109.2L366.8 108.4L367.0 107.6L367.6 108.2L367.7 108.8Z"/><path d="M298.3 157.0L298.0 156.5L298.8 155.2L299.6 155.1L299.7 155.8L299.0 156.8Z"/><path d="M292.5 159.3L292.2 159.1L292.1 158.5L292.4 158.2L292.6 158.3L292.8 159.1Z"/><path d="M304.0 153.7L304.3 153.0L305.1 152.6L305.8 152.6L305.4 153.2L304.6 153.7Z"/><path d="M348.9 127.5L348.5 127.6L348.0 127.4L347.7 127.2L348.1 127.0L348.7 127.2Z"/><path d="M376.4 100.6L375.3 100.7L374.4 100.2L373.9 99.5L374.7 99.4L375.9 99.8Z"/><path d="M293.1 158.9L293.2 158.4L294.1 158.2L294.8 158.4L294.5 158.8L293.4 159.1Z"/><path d="M285.5 160.9L284.8 161.0L283.8 160.4L283.6 160.0L284.3 159.9L285.1 160.2Z"/><path d="M307.7 149.8L307.8 148.9L308.8 148.0L309.6 148.2L309.4 148.9L308.5 149.7Z"/><path d="M310.1 149.5L310.4 148.8L311.0 148.5L311.8 148.2L311.5 148.9L310.7 149.5Z"/><path d="M275.1 170.3L274.2 169.4L273.6 168.1L274.1 167.5L274.8 167.6L275.2 169.1Z"/><path d="M331.9 137.2L332.1 136.3L332.6 135.7L333.2 135.5L333.1 136.2L332.5 136.8Z"/><path d="M377.9 97.3L377.9 96.4L378.9 95.6L379.8 95.4L379.7 96.3L378.6 97.2Z"/><path d="M340.6 131.7L340.1 131.4L339.9 130.8L340.1 130.4L340.4 130.5L340.8 131.2Z"/><path d="M344.4 130.3L344.7 129.9L345.4 129.6L345.9 129.7L345.5 130.2L344.8 130.5Z"/><path d="M280.9 164.9L280.2 164.4L279.5 163.5L279.5 162.6L280.5 163.1L281.0 164.0Z"/><path d="M322.9 144.0L322.5 144.0L322.0 143.6L322.1 143.4L322.3 143.3L322.8 143.7Z"/><path d="M309.9 151.2L309.5 151.0L309.3 150.1L309.7 149.7L310.1 150.0L310.3 150.8Z"/><path d="M369.7 107.5L369.1 107.6L368.4 106.6L368.3 106.0L368.9 106.1L369.7 107.0Z"/><path d="M300.0 155.0L299.7 154.6L299.5 154.0L299.7 153.7L300.0 153.8L300.1 154.5Z"/><path d="M336.8 132.4L336.6 131.9L337.0 131.2L337.6 131.0L337.7 131.6L337.2 132.4Z"/><path d="M310.7 149.0L311.0 148.6L311.5 148.3L312.1 148.2L311.8 148.7L311.2 149.1Z"/><path d="M280.4 189.6L279.8 189.2L279.6 187.9L279.9 187.1L280.4 187.8L280.7 189.0Z"/><path d="M306.0 151.1L305.6 151.3L304.9 151.0L304.7 150.6L305.1 150.4L305.9 150.7Z"/><path d="M355.8 120.4L356.2 120.0L357.2 120.0L358.0 120.3L357.4 120.8L356.0 120.7Z"/><path d="M307.9 150.6L307.7 150.0L308.0 148.8L308.6 148.6L308.9 149.0L308.5 150.1Z"/><path d="M282.8 163.3L282.8 162.5L283.3 161.8L283.9 161.5L284.0 162.3L283.4 163.2Z"/><path d="M360.3 117.8L360.2 117.3L360.8 116.4L361.3 116.4L361.4 116.9L360.8 117.5Z"/><path d="M309.3 151.9L308.7 151.8L307.9 151.3L307.8 150.8L308.3 150.6L309.1 151.2Z"/><path d="M276.6 168.5L276.1 168.8L275.2 168.7L274.9 168.2L275.3 167.9L276.2 168.1Z"/><path d="M329.8 141.1L329.3 140.6L329.5 139.7L329.8 138.9L330.1 139.6L330.2 140.6Z"/><path d="M352.2 122.6L352.5 121.8L353.9 121.4L355.2 121.8L354.1 122.6L352.9 122.9Z"/><path d="M285.4 162.1L285.2 161.5L285.2 160.9L285.5 160.5L285.7 160.8L285.8 161.6Z"/><path d="M346.9 129.1L346.3 128.9L345.6 127.7L345.7 126.9L346.4 127.4L346.9 128.3Z"/><path d="M282.0 162.3L281.9 161.9L282.6 160.9L283.3 160.7L283.1 161.5L282.6 162.3Z"/><path d="M324.6 142.0L324.7 141.0L325.7 139.9L327.0 139.6L326.5 140.7L325.6 142.0Z"/><path d="M353.5 122.5L353.5 122.2L354.0 121.4L354.4 121.5L354.5 121.9L353.9 122.4Z"/><path d="M354.8 121.9L355.0 121.4L355.7 120.6L356.2 120.7L356.2 121.3L355.5 121.9Z"/><path d="M297.1 157.9L296.7 157.3L297.1 156.1L298.0 155.3L298.3 156.3L297.6 157.5Z"/><path d="M354.8 123.3L354.3 123.2L353.8 122.6L353.7 122.3L354.2 122.3L354.6 122.8Z"/><path d="M281.1 185.4L280.5 185.7L279.4 185.0L279.4 184.7L279.8 184.4L280.8 184.8Z"/><path d="M358.0 120.7L357.4 120.8L356.5 120.3L356.3 119.9L356.7 119.7L357.6 120.1Z"/><path d="M352.1 126.5L351.6 126.1L351.3 125.1L351.6 124.1L352.3 124.6L352.5 126.1Z"/><path d="M329.2 140.6L329.3 140.1L330.0 139.9L330.7 139.9L330.3 140.4L329.6 140.7Z"/><path d="M359.8 120.9L358.9 120.8L357.9 120.2L357.8 119.7L358.3 119.5L359.3 120.0Z"/><path d="M279.8 183.2L279.1 183.2L278.3 182.4L278.3 181.9L278.9 181.9L279.7 182.5Z"/><path d="M277.8 178.5L276.8 178.7L275.6 178.1L275.3 177.5L275.9 177.1L277.2 177.7Z"/><path d="M281.0 187.0L280.7 186.7L280.6 186.1L280.7 185.8L281.0 186.1L281.1 186.7Z"/><path d="M282.0 188.4L281.9 188.0L282.1 187.3L282.4 187.1L282.6 187.5L282.4 188.0Z"/><path d="M312.5 150.4L311.7 150.5L310.8 149.3L310.6 148.4L311.5 148.6L312.3 149.6Z"/><path d="M275.4 167.3L274.9 167.3L274.6 167.0L274.6 166.6L274.8 166.5L275.4 167.0Z"/><path d="M279.4 189.1L279.6 188.4L280.2 187.9L280.7 187.9L280.6 188.4L280.0 188.9Z"/><path d="M277.0 180.8L276.4 181.0L275.8 179.8L275.7 179.0L276.6 179.4L277.2 180.4Z"/><path d="M349.9 127.9L349.6 127.9L349.0 127.3L349.2 127.1L349.4 127.1L349.9 127.6Z"/><path d="M325.8 142.5L325.0 142.5L324.0 141.6L323.9 141.1L324.5 141.1L325.4 141.7Z"/><path d="M314.8 146.3L314.4 146.6L313.6 146.6L313.2 146.2L313.5 145.8L314.5 145.9Z"/><path d="M298.9 155.2L298.8 154.5L299.3 153.6L300.0 153.4L300.1 154.0L299.7 155.1Z"/><path d="M316.9 147.1L316.7 146.4L316.8 145.6L317.2 145.3L317.5 145.7L317.3 146.5Z"/><path d="M284.9 162.4L284.3 161.6L284.1 160.7L284.4 160.1L285.1 160.6L285.1 161.5Z"/><path d="M280.9 185.1L280.5 184.8L280.3 183.8L280.5 183.4L281.0 183.5L281.1 184.4Z"/><path d="M277.2 178.7L277.0 178.9L276.0 178.8L275.9 178.3L276.2 178.0L277.1 178.2Z"/><path d="M330.1 140.9L329.5 140.2L329.4 139.0L329.7 138.3L330.2 138.8L330.5 140.0Z"/><path d="M276.5 166.8L276.0 166.8L275.3 166.4L275.3 166.0L275.6 165.9L276.3 166.3Z"/><path d="M324.1 142.8L324.0 142.1L324.2 141.1L324.7 140.9L324.9 141.5L324.6 142.4Z"/><path d="M370.2 106.0L370.4 105.4L371.1 104.5L372.1 104.3L371.8 105.2L370.9 105.9Z"/><path d="M293.0 217.3L292.9 216.8L293.4 216.0L293.8 215.9L293.9 216.3L293.4 217.1Z"/><path d="M284.5 212.7L284.5 212.3L285.1 212.0L285.5 212.0L285.3 212.5L284.8 212.7Z"/><path d="M304.7 218.9L304.3 218.7L304.0 217.8L304.2 217.4L304.5 217.5L304.9 218.4Z"/><path d="M324.2 210.7L324.4 210.2L324.9 209.7L325.3 209.8L325.3 210.1L324.7 210.7Z"/><path d="M298.6 218.6L298.3 218.2L298.3 217.5L298.5 217.1L298.8 217.5L298.9 218.3Z"/><path d="M346.0 203.8L346.0 203.5L346.0 203.1L346.3 202.8L346.4 203.1L346.3 203.6Z"/><path d="M318.2 214.5L318.3 214.2L319.3 213.8L319.8 214.0L319.3 214.5L318.6 214.7Z"/><path d="M344.0 203.4L344.1 203.0L344.4 202.6L344.6 202.6L344.7 202.9L344.3 203.3Z"/><path d="M282.3 210.2L282.5 209.8L283.2 209.3L283.8 209.4L283.6 209.9L282.7 210.4Z"/><path d="M344.2 196.6L343.6 196.8L342.8 196.5L342.7 196.2L343.0 196.0L343.8 196.1Z"/><path d="M292.8 216.3L293.1 215.9L293.7 215.7L294.2 215.7L293.9 216.2L293.3 216.3Z"/><path d="M283.0 203.0L282.9 202.6L283.1 202.0L283.3 201.8L283.4 202.1L283.3 202.7Z"/><path d="M309.6 217.4L309.9 216.8L310.4 216.4L310.9 216.3L310.7 216.8L310.2 217.2Z"/><path d="M292.7 216.7L292.2 216.5L292.0 216.0L291.9 215.5L292.3 215.6L292.8 216.3Z"/><path d="M323.5 211.9L323.3 211.6L323.4 211.2L323.5 210.9L323.7 211.1L323.7 211.6Z"/><path d="M282.9 210.9L282.9 210.5L283.4 209.9L283.9 209.8L283.9 210.2L283.4 210.8Z"/><path d="M334.5 203.8L334.5 203.5L334.8 203.1L335.4 202.9L335.2 203.5L334.8 203.9Z"/><path d="M339.7 197.4L339.7 197.1L340.0 196.6L340.4 196.4L340.4 196.9L340.0 197.3Z"/><path d="M290.5 215.3L290.8 215.0L291.5 215.0L292.3 215.3L291.6 215.7L290.7 215.6Z"/><path d="M343.9 196.2L343.2 196.2L342.3 195.9L342.1 195.4L342.7 195.2L343.4 195.5Z"/><path d="M325.1 211.6L324.8 211.2L324.8 210.6L325.0 210.5L325.2 210.6L325.2 211.2Z"/><path d="M340.1 195.1L340.0 194.8L340.5 194.0L340.9 193.8L341.0 194.2L340.5 195.1Z"/><path d="M285.2 211.1L284.8 210.9L284.5 210.4L284.5 209.8L285.0 210.1L285.2 210.7Z"/><path d="M284.4 195.1L284.0 195.1L283.7 194.7L283.7 194.3L284.0 194.4L284.4 194.8Z"/><path d="M282.6 208.7L282.4 208.4L282.3 207.9L282.5 207.6L282.8 207.8L282.8 208.5Z"/><path d="M431.5 202.1L431.2 201.9L431.2 201.3L431.3 201.0L431.7 201.3L431.7 201.8Z"/><path d="M424.7 206.2L424.6 205.7L424.9 205.0L425.4 204.7L425.4 205.1L425.1 205.9Z"/><path d="M429.1 202.7L428.9 202.6L428.9 202.1L429.1 201.7L429.2 202.0L429.3 202.6Z"/><path d="M428.1 203.3L428.0 202.9L428.1 202.2L428.5 201.9L428.7 202.3L428.5 203.1Z"/><path d="M427.9 203.7L427.3 203.3L426.8 202.6L426.7 201.9L427.4 202.2L427.8 202.9Z"/><path d="M427.7 204.9L427.2 204.9L426.6 204.8L426.3 204.3L426.7 204.3L427.3 204.5Z"/><path d="M436.9 194.3L436.9 194.0L437.4 193.6L437.7 193.6L437.7 194.0L437.3 194.3Z"/><path d="M423.2 205.7L423.6 205.5L424.0 205.4L424.4 205.6L424.1 205.8L423.5 205.8Z"/><path d="M425.5 205.1L425.7 204.6L426.4 204.1L426.9 204.1L426.8 204.6L426.1 205.1Z"/><path d="M429.7 201.8L429.5 201.6L429.5 201.1L429.6 200.8L429.8 201.0L429.8 201.6Z"/><path d="M430.2 202.7L430.0 202.5L430.0 202.0L430.2 201.6L430.3 201.9L430.4 202.4Z"/><path d="M432.4 199.3L432.2 199.0L432.5 198.4L432.8 198.2L432.9 198.7L432.7 199.1Z"/><path d="M436.5 192.9L436.5 192.5L437.1 191.9L437.6 191.9L437.5 192.4L436.9 192.9Z"/><path d="M427.4 203.3L427.3 202.7L427.8 202.1L428.2 201.8L428.3 202.2L427.8 203.1Z"/><path d="M436.8 193.7L437.2 193.5L437.7 193.4L438.0 193.6L437.7 193.9L437.1 193.8Z"/><path d="M422.0 207.0L421.6 207.3L421.0 207.2L420.9 206.9L421.0 206.7L421.7 206.8Z"/><path d="M431.2 201.8L430.9 201.9L430.5 201.8L430.2 201.6L430.5 201.5L431.1 201.6Z"/><path d="M418.2 207.5L417.6 207.4L417.1 206.7L417.1 206.2L417.5 206.1L418.1 206.8Z"/><path d="M465.3 182.5L464.8 182.1L465.0 181.2L465.3 180.5L465.8 181.1L465.7 182.0Z"/><path d="M488.5 191.2L488.0 191.1L487.4 191.0L487.4 190.7L487.6 190.5L488.2 190.8Z"/><path d="M509.5 185.4L509.6 185.1L510.2 184.8L510.5 185.0L510.3 185.3L509.8 185.5Z"/><path d="M490.2 189.0L490.0 188.8L490.0 188.3L490.2 188.0L490.3 188.4L490.3 188.8Z"/><path d="M490.5 188.9L490.1 188.5L490.0 188.0L490.1 187.7L490.4 187.7L490.6 188.5Z"/><path d="M498.3 188.5L497.8 188.3L497.4 188.0L497.3 187.4L497.7 187.6L498.2 188.0Z"/><path d="M510.0 184.9L509.7 185.1L509.2 184.9L508.9 184.6L509.3 184.5L509.7 184.6Z"/><path d="M500.8 188.7L500.3 188.5L499.8 187.8L499.8 187.3L500.3 187.5L500.9 188.1Z"/><path d="M468.9 184.3L468.7 184.5L468.0 184.3L467.8 184.0L468.1 183.9L468.8 184.0Z"/><path d="M478.2 189.4L477.8 189.0L478.0 187.9L478.3 187.5L478.5 188.1L478.6 189.0Z"/><path d="M500.1 186.9L499.5 186.9L498.6 186.5L498.2 185.6L499.0 185.7L499.8 186.2Z"/><path d="M475.6 187.4L475.5 187.2L475.8 186.8L476.0 186.6L476.0 187.0L475.9 187.3Z"/><path d="M467.5 171.4L467.3 171.2L467.3 170.5L467.6 170.1L467.8 170.5L467.7 171.3Z"/><path d="M477.9 189.1L478.1 188.7L479.0 188.2L479.4 188.5L479.4 189.1L478.4 189.3Z"/><path d="M466.0 178.9L465.7 178.9L465.0 178.1L464.9 177.5L465.6 177.8L466.2 178.5Z"/><path d="M495.4 187.1L495.5 186.8L496.1 186.3L496.7 186.3L496.6 186.8L495.8 187.2Z"/><path d="M467.1 179.9L467.0 180.1L466.4 180.0L466.1 179.7L466.5 179.6L467.0 179.7Z"/><path d="M466.7 180.2L466.5 179.9L466.6 179.1L467.0 178.9L467.2 179.4L467.0 180.0Z"/><path d="M467.0 173.8L466.8 173.6L466.7 172.9L466.9 172.8L467.2 172.9L467.2 173.6Z"/><path d="M467.3 169.7L466.8 169.7L466.2 169.3L466.1 168.9L466.5 168.8L467.0 169.2Z"/><path d="M504.8 187.3L505.3 186.8L506.4 186.6L507.1 186.8L506.5 187.3L505.5 187.5Z"/><path d="M467.8 181.5L467.3 181.7L466.5 181.4L466.3 181.1L466.6 180.8L467.4 181.0Z"/><path d="M485.9 191.7L485.6 191.7L485.1 191.2L485.1 190.9L485.5 190.9L486.0 191.4Z"/><path d="M488.3 190.1L487.9 190.2L487.2 189.5L487.2 189.0L487.8 189.1L488.3 189.6Z"/><path d="M477.5 190.2L477.0 190.1L476.6 189.7L476.5 189.4L476.9 189.4L477.3 189.7Z"/><path d="M468.0 186.9L467.4 186.8L466.8 186.1L466.7 185.3L467.3 185.5L468.0 186.3Z"/><path d="M465.9 183.9L466.2 183.7L466.7 183.5L467.0 183.8L466.9 184.1L466.3 184.1Z"/><path d="M502.2 187.8L501.9 187.9L501.5 187.9L501.3 187.7L501.4 187.6L502.0 187.6Z"/><path d="M470.3 187.3L470.5 187.0L471.1 187.0L471.4 187.2L471.1 187.4L470.5 187.4Z"/><path d="M476.9 189.3L476.9 188.8L477.5 188.2L478.3 188.1L478.0 188.7L477.3 189.4Z"/><path d="M403.8 410.6L403.6 410.1L403.8 409.0L404.5 408.4L404.6 409.1L404.3 410.3Z"/><path d="M425.2 427.7L425.0 427.1L425.2 426.2L425.6 425.9L425.9 426.4L425.7 427.3Z"/><path d="M428.7 428.3L428.4 428.2L428.2 427.7L428.3 427.2L428.6 427.4L428.9 428.1Z"/><path d="M392.0 399.9L391.6 399.8L391.1 399.4L391.0 399.1L391.4 399.1L391.9 399.4Z"/><path d="M401.6 410.3L401.9 409.8L403.0 409.8L403.5 410.2L403.2 410.6L402.0 410.7Z"/><path d="M391.4 398.6L390.8 398.8L389.9 398.7L389.7 398.4L390.0 398.1L390.9 398.2Z"/><path d="M391.6 399.7L391.6 399.2L391.9 398.8L392.2 398.6L392.2 399.0L392.0 399.4Z"/><path d="M423.9 425.0L423.4 425.3L422.3 424.6L422.0 424.1L422.7 423.9L423.6 424.4Z"/><path d="M398.6 406.7L398.6 405.8L399.3 404.9L399.8 404.6L399.8 405.3L399.3 406.3Z"/><path d="M404.7 412.5L404.0 411.7L404.0 410.5L404.3 409.8L404.9 410.4L405.0 411.7Z"/><path d="M423.7 424.7L423.1 424.7L422.3 424.3L422.0 423.9L422.7 423.9L423.3 424.1Z"/><path d="M399.1 407.2L398.4 407.3L397.4 406.7L396.7 405.8L397.7 406.0L398.8 406.6Z"/><path d="M391.0 397.5L391.3 396.6L392.1 395.9L392.9 395.9L392.9 396.5L391.9 397.4Z"/><path d="M400.6 409.7L400.2 409.6L399.7 409.1L399.7 408.8L400.0 408.8L400.5 409.3Z"/><path d="M414.7 420.5L414.5 420.1L414.6 419.4L415.1 419.2L415.3 419.5L415.1 420.4Z"/><path d="M409.8 415.4L409.4 415.3L408.8 414.4L408.9 413.9L409.4 414.0L410.1 414.9Z"/><path d="M427.7 428.2L427.6 427.0L428.0 425.9L428.6 425.5L429.1 426.0L428.6 427.3Z"/><path d="M399.2 408.0L399.3 407.8L399.7 407.5L400.1 407.6L399.8 407.9L399.5 408.1Z"/><path d="M425.7 426.4L425.3 426.6L424.6 426.4L424.2 426.2L424.8 425.9L425.5 426.1Z"/><path d="M390.0 392.8L389.6 392.9L388.8 392.4L388.6 391.8L389.1 391.6L389.9 392.2Z"/><path d="M396.3 405.4L395.8 404.6L395.7 403.4L396.1 403.0L396.6 403.5L396.6 404.7Z"/><path d="M415.4 418.9L415.0 418.8L414.4 417.7L414.6 416.9L415.2 417.3L415.8 418.5Z"/><path d="M398.6 405.8L398.2 405.7L397.6 405.1L397.5 404.6L398.0 404.8L398.6 405.4Z"/><path d="M398.9 406.6L398.4 406.7L397.6 406.3L397.4 405.7L398.0 405.7L398.8 406.1Z"/><path d="M414.0 417.9L413.9 418.2L413.0 418.2L412.5 417.9L413.0 417.6L413.7 417.6Z"/><path d="M411.9 418.1L411.6 417.9L411.6 417.3L411.8 417.1L412.1 417.4L412.0 417.9Z"/><path d="M416.9 420.7L416.3 420.6L415.6 419.9L415.3 419.0L416.1 419.2L416.8 420.1Z"/><path d="M418.0 422.5L418.3 422.1L418.9 421.7L419.4 421.7L419.1 422.1L418.6 422.4Z"/><path d="M396.9 405.2L396.5 405.3L396.0 404.4L395.9 403.7L396.5 403.8L397.0 404.6Z"/><path d="M389.6 392.3L388.8 391.9L388.3 390.4L388.5 389.6L389.2 390.0L389.8 391.4Z"/><path d="M143.7 160.2L143.4 160.7L142.7 160.9L142.2 160.9L142.3 160.4L143.2 160.1Z"/><path d="M145.4 160.2L144.8 160.7L143.4 160.7L142.2 159.8L143.2 159.2L145.0 159.4Z"/><path d="M139.2 160.5L138.5 161.4L137.3 161.7L136.4 161.3L137.0 160.7L138.4 160.2Z"/><path d="M137.0 161.0L136.1 161.3L135.1 160.9L134.4 160.3L135.2 160.1L136.5 160.3Z"/><path d="M136.5 160.4L136.3 160.7L135.4 160.5L135.3 160.2L135.6 160.0L136.4 160.1Z"/><path d="M139.6 160.1L139.2 160.6L138.4 161.1L138.0 160.8L138.2 160.5L138.9 160.0Z"/><path d="M137.8 159.5L137.6 160.3L136.3 161.2L135.3 160.9L135.7 159.9L137.2 159.4Z"/><path d="M137.3 159.5L136.7 160.0L135.7 160.5L135.0 160.2L135.5 159.7L136.6 159.3Z"/><path d="M145.5 161.0L144.6 161.4L143.4 161.3L143.1 160.8L143.6 160.5L144.7 160.5Z"/><path d="M138.2 160.1L137.6 160.8L136.4 161.6L135.5 161.4L136.2 160.6L137.0 160.1Z"/><path d="M134.5 161.0L134.3 161.3L133.1 161.3L132.7 160.8L133.0 160.5L134.3 160.6Z"/><path d="M142.3 160.1L141.1 160.6L139.3 160.3L138.7 159.7L139.2 159.2L141.1 159.4Z"/><path d="M142.0 160.7L141.5 161.0L140.5 160.7L140.0 160.1L140.8 159.9L141.7 160.1Z"/><path d="M145.2 158.9L144.2 159.4L142.6 159.5L141.6 158.8L142.7 158.2L143.9 158.2Z"/><path d="M137.2 160.9L136.9 161.5L135.7 162.0L135.2 161.8L135.4 161.0L136.5 160.7Z"/><path d="M143.5 161.3L142.9 161.6L142.0 161.6L141.3 161.1L142.0 160.8L143.0 160.9Z"/><path d="M140.8 166.0L140.4 166.0L140.0 165.7L139.9 165.3L140.4 165.3L140.8 165.7Z"/><path d="M142.3 164.6L141.8 164.9L140.5 164.8L140.2 164.2L140.9 163.9L142.0 164.1Z"/><path d="M140.8 165.8L140.1 166.3L139.1 166.1L138.6 165.8L139.0 165.4L140.3 165.5Z"/><path d="M141.1 169.3L140.8 169.3L140.5 168.8L140.4 168.3L140.9 168.5L141.3 169.0Z"/><path d="M142.6 171.3L141.8 171.4L140.8 171.2L140.2 170.5L141.0 170.4L142.1 170.8Z"/><path d="M143.3 171.4L142.4 171.4L141.5 170.9L141.1 170.3L142.0 170.4L142.7 170.8Z"/><path d="M205.1 187.4L204.7 187.7L204.0 187.6L203.7 187.4L203.9 187.1L204.7 187.1Z"/><path d="M208.0 186.2L207.8 186.7L206.3 186.9L205.7 186.4L206.2 185.8L207.5 185.8Z"/><path d="M203.0 187.0L202.8 187.4L201.7 187.6L201.0 187.2L201.7 186.8L202.8 186.8Z"/><path d="M205.1 182.9L204.6 183.2L203.6 182.7L203.4 182.0L204.1 181.8L205.0 182.3Z"/><path d="M206.9 182.1L206.6 182.5L205.8 182.6L205.0 182.2L205.7 181.7L206.6 181.8Z"/><path d="M204.2 188.4L203.8 189.0L202.5 188.5L202.0 188.0L202.8 187.5L204.1 188.0Z"/><path d="M203.2 189.5L201.9 189.6L200.8 189.0L200.0 188.2L201.2 188.2L202.3 188.6Z"/><path d="M205.4 189.8L205.1 190.4L203.4 190.6L202.7 190.0L203.3 189.4L205.1 189.3Z"/><path d="M208.2 187.9L207.2 187.9L206.0 187.4L205.9 186.7L206.6 186.5L207.8 187.0Z"/><path d="M204.4 190.8L203.8 191.1L202.6 190.8L202.1 190.2L202.6 189.9L203.9 190.1Z"/><path d="M204.7 192.1L204.2 192.5L203.0 191.8L202.4 191.1L203.5 190.8L204.4 191.4Z"/><path d="M205.5 186.9L204.5 187.0L203.5 186.1L202.8 185.1L203.9 185.1L204.9 185.9Z"/><path d="M205.7 190.7L205.2 190.8L204.4 190.5L204.3 190.1L204.7 190.0L205.4 190.3Z"/><path d="M206.6 181.9L206.2 182.2L205.3 181.9L205.1 181.6L205.4 181.2L206.4 181.5Z"/><path d="M203.4 189.5L203.1 189.7L202.4 189.4L202.3 189.2L202.7 189.1L203.2 189.2Z"/><path d="M205.9 186.5L205.4 187.0L203.9 186.3L203.6 185.6L204.4 185.4L205.6 185.9Z"/><path d="M208.4 186.1L208.0 186.6L206.8 186.4L206.2 186.0L207.0 185.6L208.2 185.6Z"/><path d="M206.3 186.5L205.9 186.6L205.2 186.3L205.0 185.8L205.5 185.7L206.2 186.2Z"/><path d="M188.7 205.2L188.3 205.9L187.3 206.6L186.8 206.2L186.9 205.6L188.2 205.0Z"/><path d="M182.8 204.8L182.8 205.4L182.4 206.4L181.5 206.7L181.4 206.0L182.2 205.0Z"/><path d="M188.7 201.6L188.4 202.4L187.7 203.2L187.2 203.0L187.3 202.6L187.9 201.8Z"/><path d="M188.4 202.2L188.3 202.9L187.3 203.7L186.1 204.0L186.5 203.0L187.6 202.1Z"/><path d="M187.2 201.0L187.0 201.7L186.2 202.0L185.7 201.9L185.8 201.3L186.5 200.9Z"/><path d="M185.7 206.7L185.6 207.2L185.1 207.9L184.6 207.9L184.6 207.4L185.1 206.9Z"/><path d="M185.7 203.6L185.3 204.3L184.4 204.6L183.9 204.5L183.9 204.1L185.0 203.5Z"/><path d="M184.3 203.6L183.7 204.0L182.8 204.0L182.3 203.7L182.8 203.3L183.8 203.3Z"/><path d="M187.9 203.9L187.7 204.3L187.2 204.7L186.7 204.8L187.0 204.3L187.4 203.9Z"/><path d="M188.4 202.0L187.9 202.6L186.8 203.1L186.0 203.2L186.4 202.5L187.4 202.0Z"/><path d="M183.2 204.5L183.0 205.0L182.0 205.3L181.5 205.1L181.7 204.6L182.7 204.2Z"/><path d="M189.4 204.8L189.0 205.2L188.1 205.6L187.4 205.4L187.8 204.9L188.6 204.6Z"/><path d="M183.4 203.1L183.0 203.7L182.1 204.0L181.4 203.7L181.9 203.2L182.8 202.9Z"/><path d="M188.3 204.0L188.1 204.2L187.6 204.3L187.3 204.1L187.5 203.9L188.2 203.8Z"/><path d="M133.1 231.6L132.6 231.6L131.8 231.0L131.6 230.4L132.4 230.5L133.1 231.2Z"/><path d="M135.1 230.2L134.4 230.4L133.3 230.4L133.0 229.9L133.5 229.6L134.4 229.7Z"/><path d="M135.2 226.4L134.3 226.9L133.3 226.8L132.7 226.4L133.2 225.9L134.5 225.9Z"/><path d="M133.6 231.3L132.8 231.4L132.0 231.0L131.6 230.4L132.2 230.2L133.0 230.6Z"/><path d="M135.6 223.2L135.2 223.5L134.1 223.7L133.8 223.4L134.1 223.1L135.2 222.9Z"/><path d="M134.5 226.6L133.8 227.1L132.6 226.8L132.2 226.4L132.8 226.1L133.9 226.3Z"/><path d="M135.2 226.7L134.2 227.2L132.8 226.9L132.2 226.3L132.8 226.0L134.4 226.2Z"/><path d="M136.7 223.6L136.2 224.1L135.1 223.8L134.6 223.3L135.3 222.9L136.3 223.2Z"/><path d="M134.4 225.2L134.1 225.4L133.3 225.1L132.9 224.5L133.4 224.4L134.2 224.8Z"/><path d="M143.4 227.2L142.9 227.3L142.2 226.7L142.3 226.3L142.8 226.3L143.4 226.8Z"/><path d="M145.4 225.9L144.9 225.8L144.3 225.5L144.2 225.2L144.5 225.0L145.2 225.5Z"/><path d="M145.3 230.1L144.7 230.2L143.9 229.6L143.5 228.7L144.6 228.9L145.2 229.5Z"/><path d="M144.0 225.9L143.8 226.0L143.2 225.8L143.0 225.4L143.3 225.4L143.9 225.5Z"/><path d="M148.9 227.7L148.3 228.2L147.4 228.2L146.9 227.7L147.3 227.2L148.6 227.3Z"/><path d="M146.1 231.2L145.4 231.5L144.5 231.4L144.2 231.0L144.8 230.7L145.4 230.8Z"/><path d="M142.5 229.4L142.2 229.5L141.7 229.1L141.5 228.8L142.0 228.9L142.4 229.1Z"/><path d="M147.1 230.4L146.3 230.9L145.3 231.0L144.6 230.5L145.2 230.0L146.4 230.0Z"/><path d="M145.8 224.6L145.3 224.8L144.4 224.5L144.2 224.1L144.6 223.8L145.5 224.1Z"/><path d="M148.9 228.3L148.2 228.4L147.2 227.8L147.2 227.3L147.6 227.1L148.8 227.7Z"/><path d="M145.3 225.2L145.0 225.5L144.2 225.6L143.5 225.3L144.1 224.9L145.1 224.8Z"/><path d="M144.8 228.3L144.3 228.5L143.2 228.4L142.9 228.0L143.3 227.5L144.4 227.8Z"/><path d="M143.0 237.9L142.7 238.6L142.0 239.4L141.3 239.3L141.5 238.6L142.2 237.9Z"/><path d="M142.8 237.3L142.6 237.9L142.0 238.5L141.5 238.5L141.6 238.0L142.1 237.3Z"/><path d="M145.1 238.9L144.5 239.2L143.9 239.3L143.4 239.1L143.8 238.8L144.5 238.7Z"/><path d="M144.4 235.9L144.4 236.2L143.5 236.6L142.9 236.3L143.3 235.9L144.1 235.6Z"/><path d="M144.5 237.8L144.5 238.1L143.9 238.7L143.4 238.8L143.5 238.4L144.0 237.7Z"/><path d="M145.2 236.7L144.5 237.2L143.5 237.2L143.0 236.7L143.4 236.3L144.4 236.3Z"/><path d="M150.3 243.2L149.9 243.4L148.9 243.2L148.7 242.5L149.3 242.2L150.1 242.8Z"/><path d="M149.3 244.1L148.9 244.4L148.0 244.5L147.4 244.2L148.0 243.9L149.0 243.6Z"/><path d="M147.5 244.4L147.0 244.5L146.5 244.3L146.2 244.1L146.6 244.0L147.1 244.1Z"/><path d="M149.5 242.5L149.1 242.8L148.0 242.5L147.5 241.9L148.1 241.7L149.2 242.0Z"/><path d="M150.2 242.0L149.9 242.1L149.3 242.0L149.1 241.6L149.5 241.5L150.0 241.6Z"/><path d="M149.7 244.5L149.2 245.2L148.0 245.3L147.2 245.0L147.8 244.4L148.9 244.3Z"/><path d="M562.3 388.1L562.3 388.6L561.7 389.2L561.2 389.1L561.1 388.7L561.8 388.1Z"/><path d="M563.4 388.1L563.1 388.5L562.6 388.7L562.1 388.8L562.3 388.4L562.9 388.1Z"/><path d="M562.4 386.8L562.3 387.2L561.7 387.5L561.2 387.5L561.4 387.0L562.0 386.7Z"/><path d="M563.0 385.7L562.5 386.4L561.7 386.8L561.0 386.8L561.3 386.1L562.2 385.6Z"/><path d="M562.1 387.8L561.9 388.2L561.4 388.5L560.9 388.4L561.2 388.1L561.7 387.8Z"/><path d="M564.6 386.1L564.6 386.7L564.1 387.6L563.5 387.8L563.5 387.2L564.0 386.4Z"/><path d="M552.7 402.0L552.4 401.9L552.0 401.6L552.0 401.4L552.3 401.4L552.7 401.7Z"/><path d="M553.7 401.6L553.3 401.7L552.6 401.3L552.2 400.9L552.8 400.9L553.5 401.2Z"/><path d="M554.9 401.5L554.3 401.7L553.7 401.8L553.2 401.4L553.7 401.1L554.4 401.1Z"/><path d="M554.1 400.1L553.8 400.3L553.1 400.1L553.0 399.7L553.2 399.5L554.0 399.7Z"/><path d="M552.8 403.5L552.7 403.7L552.2 403.7L551.9 403.5L552.2 403.3L552.6 403.3Z"/><path d="M545.7 413.2L545.2 413.5L544.7 413.6L544.4 413.3L544.6 413.1L545.3 413.0Z"/><path d="M545.5 413.8L545.1 413.9L544.7 413.5L544.5 413.1L545.0 413.1L545.3 413.4Z"/></g>
<g fill="none" stroke="#2b2b2b" stroke-width=".45" stroke-linejoin="round"><path d="M380.8 96.1L381.0 97.3L380.3 97.4L379.8 97.9L379.2 98.2L378.1 97.9L377.8 98.5L377.2 98.8L376.8 99.3L376.3 99.7L376.1 100.3L374.8 100.2L374.8 100.9L375.8 102.2L375.3 102.7L375.4 103.4L372.9 102.5L372.8 103.2L372.1 103.4L373.6 105.2L373.4 105.8L372.7 106.1L372.6 106.9L371.4 106.7L371.0 107.3L370.9 108.0L370.2 108.3L369.9 108.9L369.6 109.4L369.0 109.8L369.5 111.0L368.5 111.0L366.9 110.6L367.3 111.7L366.9 112.3L366.6 112.8L366.3 113.4L365.7 113.8L365.3 114.3L365.0 114.8L364.6 115.3L364.5 116.1L363.8 116.3L363.4 116.8L363.2 117.5L362.6 117.9L362.3 118.5L362.1 119.3L361.0 119.0L360.2 118.9L359.3 118.8L360.4 121.3L359.8 121.6L358.5 120.9L358.2 121.6L357.4 121.7L356.3 121.3L357.6 124.0L356.9 124.1L355.3 123.1L354.8 123.5L354.9 124.8L354.6 125.4L353.6 125.1L352.9 125.2L351.9 125.1L352.8 127.4L352.2 127.6L351.4 127.6L350.3 127.2L350.0 127.8L349.5 128.3L348.9 128.7L348.3 128.8L347.5 128.6L346.9 128.7L346.9 130.2L345.8 129.4L345.8 130.7L345.1 130.8L344.4 130.8L344.4 132.1L344.0 132.8L343.0 132.2L341.6 130.7L341.8 132.6L341.0 132.4L340.4 132.5L340.2 133.5L339.6 133.7L338.3 133.0L337.8 133.4L337.6 134.1L337.8 135.3L336.5 134.8L336.4 135.6L336.8 137.0L334.9 135.9L335.5 137.5L334.3 137.1L335.0 138.9L334.6 139.4L332.8 138.4L332.8 139.3L332.0 139.2L331.6 139.8L331.1 140.1L330.6 140.5L330.0 140.6L329.1 140.3L328.5 140.5L328.6 142.0L327.4 141.2L327.2 142.0L327.0 142.9L326.6 143.4L325.9 143.3L325.2 143.3L324.9 144.1L324.0 143.8L324.1 145.3L322.8 144.1L322.4 144.6L322.0 145.3L321.9 146.4L320.6 145.3L320.0 145.5L319.2 145.3L318.7 145.7L318.4 146.4L318.0 147.0L318.2 148.8L316.9 147.7L316.5 148.2L315.9 148.3L315.5 149.1L315.1 149.6L314.2 149.2L314.2 150.5L312.9 149.4L313.0 151.1L312.0 150.5L311.5 150.9L310.8 150.9L310.2 151.0L309.4 150.9L309.7 152.9L308.5 151.8L308.4 153.0L307.5 152.6L307.0 153.0L306.3 153.1L305.8 153.4L305.2 153.7L304.8 154.2L304.2 154.4L303.0 153.3L303.5 155.7L302.4 155.0L301.3 154.1L301.1 155.1L300.4 155.3L300.8 157.3L299.8 156.8L298.9 156.3L298.1 156.3L297.7 156.7L297.2 157.1L296.8 157.7L296.5 158.6L295.9 158.8L295.3 159.0L294.9 159.6L294.3 159.8L293.2 158.5L292.4 158.3L292.0 159.0L291.6 159.6L291.2 160.5L290.7 161.1L290.0 160.9L289.4 161.0L288.7 160.9L288.5 162.2L287.8 162.1L287.0 161.6L286.3 161.6L285.9 162.4L285.2 162.3L284.7 162.8L283.9 162.2L283.7 163.5L282.7 162.8L283.1 165.4L281.4 163.0L280.5 162.6L280.2 163.4L280.3 165.3L279.8 165.7L278.9 165.3L278.4 165.8L277.0 165.4L276.9 166.0L276.2 166.5L278.9 167.5L276.3 167.8L277.5 168.6L276.9 169.1L276.4 169.7L276.9 170.3L278.7 171.2L276.0 171.5L275.7 172.4L277.4 172.7L277.3 173.3L277.2 174.0L277.3 174.6L277.7 175.2L277.5 175.9L277.5 176.5L277.6 177.2L278.2 177.6L278.3 178.3L278.6 178.8L279.2 179.2L279.7 179.6L279.3 180.6L278.4 181.7L281.1 181.1L278.5 183.1L279.9 183.1L279.7 183.8L281.3 183.8L281.7 184.2L281.1 185.2L281.6 185.7L282.8 185.8L282.9 186.4L281.1 187.8L283.7 187.4L284.4 187.8L282.9 189.0L282.4 189.9L284.1 189.9L283.5 190.8L283.3 191.5L283.6 192.0L284.3 192.4L283.9 193.2L284.8 193.5"/><path d="M284.5 193.9L285.3 194.8L285.5 195.5L284.9 196.2L284.7 196.9L284.6 197.6L284.4 198.3L283.9 198.9L284.0 199.7L284.1 200.4L283.8 201.1L283.5 201.8L283.2 202.5L284.0 203.4L283.8 204.1L282.9 204.6L283.2 205.4L283.8 206.3L282.3 207.0L283.3 207.2L283.4 208.0L284.3 208.3L284.8 208.8L285.5 209.2L285.2 210.3L285.7 210.8L285.9 211.5L286.4 212.1L287.0 212.1L287.8 212.2L288.6 212.3L289.2 212.7L289.7 213.7L290.4 213.9L291.0 214.3L291.7 214.6L292.4 214.8L293.2 215.0L293.8 215.6L294.5 215.8L295.4 215.5L295.8 216.6L296.6 216.7L297.3 217.0L298.0 217.4L299.1 216.3L299.9 216.3L300.2 216.9L300.9 217.5L301.6 217.2L302.3 217.3L303.0 217.4L303.7 217.2L304.5 217.7L305.2 217.5L305.8 217.2L306.5 217.1L307.2 216.6L307.9 217.1L308.7 217.0L309.2 216.3L309.9 216.0L310.5 215.6L311.3 215.5L312.1 215.5L312.8 215.2L313.5 214.8L314.1 214.4L315.0 214.5L315.5 213.9L316.1 213.4L317.3 214.1L317.8 213.3L318.2 212.6L318.9 212.3L319.7 212.1L320.3 211.6L320.9 211.3L321.7 211.2L322.6 211.3L322.8 210.0L323.4 209.7L324.3 209.7L324.5 208.7L325.0 208.0L325.8 207.9L326.4 207.4L327.1 207.1L328.2 207.3L328.7 206.7L329.4 206.4L329.9 205.8L330.4 205.3L331.5 205.4L331.8 204.5L332.7 204.5L333.0 203.7L333.8 203.5L334.3 202.9L334.9 202.5L334.8 201.5L335.5 201.2L336.4 201.0L336.6 200.3L337.4 200.0L337.7 199.3L338.1 198.7L338.1 198.3L338.4 197.6L337.5 196.7L338.4 196.1L339.1 195.5L339.1 194.8L339.3 194.1L339.7 193.5L340.5 193.3L341.2 192.3L342.1 192.3L343.3 192.5L343.2 193.3L343.3 194.0L343.4 194.7L343.9 195.4L344.0 196.2L344.6 196.8L344.2 197.6L343.9 198.4L344.1 199.1L344.3 199.9L344.9 200.4L345.0 201.2L345.3 201.9L345.4 203.0L346.4 202.8L347.4 202.7"/><path d="M163.4 247.8L163.7 249.2L162.9 249.2L162.8 250.1L162.1 250.1L161.2 249.9L160.7 250.2L160.4 250.9L159.6 250.7L159.3 251.4L158.7 251.4L158.1 251.8L157.6 252.4L157.0 252.6L156.3 252.7L155.5 252.4L155.2 253.4L154.5 253.5L153.2 253.7L153.4 253.0L153.1 252.4L152.7 251.9L152.6 251.2L152.4 250.7L152.2 250.2L152.5 249.7L152.7 249.0L152.7 248.3L153.7 248.2L154.4 248.0L154.3 247.2L153.9 246.2L154.5 245.9L155.6 245.9L155.8 244.7L155.4 244.2L154.2 244.5L154.5 243.2L153.0 243.7L153.2 242.5L152.9 241.9L152.2 241.6L151.9 241.0L150.8 241.1L151.4 239.6L150.4 239.6L150.0 239.1L150.0 238.1L149.2 238.1L148.0 238.0L148.0 237.3L148.0 236.7L147.5 236.2L147.1 235.7L146.9 234.8L147.4 234.5L148.0 234.2L148.5 233.8L149.0 233.4L149.5 233.0L149.8 232.4L150.8 232.3L149.9 231.5L150.2 230.9L151.1 230.5L150.3 229.6L151.6 229.3L151.5 228.6L151.5 228.0L151.3 227.3L152.1 226.8L151.5 226.0L151.9 225.4L151.9 224.5L153.3 224.8L153.2 223.8L153.3 223.1L153.8 222.6L154.4 222.3L154.6 221.6L155.3 221.3L155.8 221.0L157.0 220.7L156.5 219.9L156.4 219.1L156.9 218.6L157.3 218.1L157.5 217.5L157.7 216.9L157.7 216.1L158.5 215.8L158.0 214.9L159.0 214.6L159.0 213.9L158.8 213.0L159.8 212.9L159.7 212.2L160.4 211.9L160.1 211.0L161.4 211.1L160.8 210.0"/><path d="M416.9 177.2L416.4 178.0L417.6 178.0L417.5 178.6L417.9 179.0L418.1 179.5L417.8 180.2L418.6 180.4L418.4 181.0L418.4 181.6L419.4 181.6L419.4 182.2L419.7 182.6L420.2 182.9L420.8 182.8L421.2 183.1L421.7 183.2L422.1 183.5L422.5 183.7L423.1 183.6L423.4 184.4L424.3 183.5L424.2 184.9L425.1 184.1L425.5 184.5L425.9 184.8L426.3 185.1L426.6 185.9L427.4 185.1L428.0 185.2L428.1 186.0L428.2 186.8L428.6 187.3L429.2 187.2L430.3 186.4L430.2 187.5L430.7 187.7L431.3 187.8L431.6 188.3L432.2 188.2L432.7 188.4L432.9 189.1L433.0 189.8L434.2 188.9L434.6 189.3L435.0 189.6L434.9 190.7L435.9 190.0L436.1 190.6L436.8 190.7L437.2 190.1L437.8 190.0L437.7 190.6L438.2 191.0L438.1 191.6L438.3 192.1L438.0 192.7L438.2 193.2L438.6 193.7L438.5 194.1L438.1 194.5L437.6 194.7L437.5 195.3L436.5 195.2L437.0 196.4L436.1 196.2L436.2 197.2L436.0 197.7L435.6 198.1L434.5 197.7L434.3 198.3L434.2 198.9L433.6 199.0L433.8 199.8L432.9 199.7L432.9 200.4L432.0 200.3L432.3 201.3L431.4 201.2L431.3 201.7L431.3 202.4L431.1 202.8L430.2 202.7L430.0 202.9L429.6 203.1L429.4 204.1L428.9 204.2L428.5 204.5L428.0 204.8L427.3 204.3L426.9 204.8L426.4 205.0L426.0 205.3L425.5 205.6L425.1 205.7L424.6 206.0L424.1 206.0L423.6 206.3L423.2 206.7L422.5 206.3L422.3 207.0L421.7 206.9L421.1 206.8L420.6 207.1L420.3 207.7L419.9 208.1L419.4 208.1L419.0 208.6L418.4 208.5L418.0 208.9L417.6 209.1L417.0 208.9L416.4 209.1L415.9 208.9L415.5 209.1L414.9 209.1L414.4 209.2L414.0 209.4L413.4 209.2L413.0 209.7L412.6 210.4L411.8 209.2L411.6 210.7L411.4 210.2L410.2 210.7L410.9 211.2L410.5 211.7L410.5 212.3L410.6 212.8L410.6 213.3L410.3 213.8L410.3 214.3"/><path d="M457.7 135.6L457.1 135.8L457.3 137.0L456.5 136.7L456.0 136.9L455.9 137.6L455.3 137.7L454.8 137.8L454.3 138.0L453.9 138.3L453.6 138.8L453.2 139.2L452.4 138.8L452.0 139.2L451.7 139.8L451.1 139.7L450.8 140.3L450.4 140.5L449.8 140.6L449.4 140.8L449.1 141.3L448.7 141.6L448.1 141.6L447.7 141.9L447.3 142.2L446.8 142.3L446.3 142.3L445.9 142.9L445.4 142.9L445.0 143.2L444.4 143.1L444.0 143.4L443.5 143.5L443.1 143.9L442.6 144.0L442.1 144.1L441.6 144.2L441.5 145.0L440.5 144.4L439.9 144.3L439.5 144.7L439.1 145.1L438.7 145.3L438.5 146.2L437.9 146.1L437.5 146.5L436.9 146.5L436.5 146.8L435.8 146.6L435.8 147.8L435.0 147.3L434.6 147.6L434.3 148.2L433.9 148.6L433.5 148.9L432.7 148.6L432.3 148.9L432.2 149.6L431.4 149.5L430.8 149.5L430.6 150.2L430.1 150.4L429.7 150.7L429.5 151.3L429.0 151.5L428.6 151.8L428.1 152.1L427.7 152.4L427.4 152.8L427.0 153.2L426.6 153.5L426.1 153.8L425.4 153.9L425.4 154.5L425.4 155.1L425.0 155.5L424.6 155.8L424.3 156.3L423.7 156.4L423.2 156.8L423.7 157.7L422.5 157.5L422.4 158.1L422.3 158.6L422.3 159.3L422.0 159.7L421.8 160.1L421.6 160.6L420.9 160.9L420.6 161.3L420.1 161.6L420.0 162.1L419.3 162.3L420.6 163.6L419.6 163.7L419.2 164.1L418.4 164.2L419.1 165.2L418.3 165.4L418.5 166.0L418.0 166.4L417.8 166.9L417.5 167.4L417.7 168.0L417.3 168.4L417.4 169.0L417.2 169.5L416.9 170.0L416.8 170.5L416.8 171.0L416.8 171.5L416.8 172.1L416.7 172.6L416.4 173.1L416.2 173.6L417.1 174.1L417.0 174.6L417.0 175.1L416.9 175.7L416.8 176.2L416.7 176.7"/><path d="M457.7 135.8L458.3 135.7L458.9 135.7L459.2 135.2L459.7 135.0L459.9 134.5L460.5 134.3L460.7 133.9L461.1 133.5L461.6 133.3L462.0 133.1L462.5 132.9L462.9 132.5L463.4 132.3L463.7 131.9L464.2 131.7L464.4 131.1L465.1 131.0L465.1 130.3L465.2 129.7L466.5 130.2L466.5 129.5L467.0 129.2L467.1 128.6L467.1 128.0L467.1 127.5L466.6 127.1L466.6 126.5L465.9 126.2L465.6 125.8L466.1 125.0L465.8 124.5L465.6 124.0L464.9 123.7L464.7 123.3L464.9 122.8L464.6 122.1L464.8 121.7L464.9 121.2L465.2 120.7L465.6 120.3L465.7 119.8L466.1 119.5L465.8 118.8L466.5 118.5L466.9 118.1L467.1 117.6L467.6 117.4L468.1 117.3L468.5 117.0L469.0 116.8L469.5 116.7L469.8 116.3L470.1 115.7L470.6 115.4L471.2 115.6L471.8 115.6L472.0 115.0L472.4 114.6L473.1 114.8L473.4 114.3L473.8 113.9L473.9 113.2L474.7 113.5L475.1 113.2L475.6 113.1L476.2 113.0L476.1 111.9L476.9 112.3L477.2 111.7L477.7 111.7L478.2 111.5L478.8 111.9L479.2 111.4L479.7 110.7L480.3 111.3L480.7 110.6L481.2 110.4L481.7 110.5L482.3 110.9L482.8 111.0L483.3 110.5L483.9 110.6L484.4 111.3L484.9 111.0L485.4 111.4L486.0 111.0L486.5 111.3L487.0 111.0L487.5 110.9L488.0 110.9L488.5 110.9L489.1 111.0L489.6 111.0L490.1 110.9L490.7 110.6L491.1 111.2L491.6 111.7L492.3 110.7L492.7 111.9L493.3 111.3L493.9 111.1L494.4 111.2L494.9 111.7L495.4 111.9L496.0 111.4"/><path d="M467.7 186.2L467.1 185.9L467.2 185.3L466.3 185.2L466.6 184.5L466.2 184.1L465.8 183.7L465.7 183.2L465.6 182.7L465.3 182.2L465.2 181.7L464.5 181.4L465.0 181.0L464.8 180.4L464.7 179.8L464.9 179.3L465.0 178.8L465.1 178.2L465.2 177.7L465.4 177.2L465.8 176.7L465.9 176.2L466.1 175.6L466.0 175.1L465.9 174.6L466.1 174.1L465.7 173.5L465.9 173.0L465.8 172.5L465.8 171.9L466.0 171.4L465.9 170.9L465.8 170.4L466.3 169.9L466.7 169.4L467.0 168.7L466.0 168.4L466.3 167.8L466.3 167.3L466.5 166.8L466.3 166.3L465.1 166.0L465.7 165.4L464.9 165.0L464.8 164.5L465.8 163.8L465.7 163.3L464.7 163.0L465.2 162.4L464.9 162.0L464.7 161.5L464.7 161.0L464.6 160.5L464.3 160.0L464.1 159.5L463.9 159.0L463.9 158.4L464.3 157.8L464.3 157.3L464.1 156.8L463.4 156.4L463.4 155.8L463.1 155.4L462.9 154.9L463.3 154.2L462.5 153.7L463.3 153.3L463.4 152.7L463.4 152.2L463.0 151.6L463.2 151.1L463.4 150.6L463.5 150.0L463.4 149.5L463.4 148.9L463.2 148.4L463.9 148.2L464.5 148.3L464.8 147.6L465.0 146.7L465.7 147.1L466.1 146.6L466.9 147.3L467.3 146.8L467.6 146.1L468.3 146.4L468.7 145.9L469.2 145.7L469.9 146.1L470.3 145.7L470.8 145.6L471.4 145.6L471.9 145.4L472.4 145.2L472.9 145.0L473.4 144.7L474.0 145.1L474.4 144.6L475.0 144.7L475.3 144.1L476.1 144.7L476.4 144.2L476.9 144.0L477.3 143.6L477.7 143.4L478.2 143.3L478.7 143.0L479.1 142.9L479.5 142.5L479.9 142.2L480.5 142.2L481.1 142.2L481.3 141.6L481.7 141.4L482.3 141.2L482.7 141.1L483.2 140.8L483.7 140.6L483.7 139.7L484.5 140.0L484.6 139.2L485.2 139.2L485.9 139.5L486.3 139.1L486.3 138.2L486.7 137.8L487.1 137.6L487.8 137.8L488.2 137.5L488.8 137.4L489.2 137.1L489.6 136.7L489.8 136.1L490.1 135.6L490.8 135.7L491.6 135.9L491.9 135.4L492.4 135.3L492.8 134.9L493.1 134.4L493.6 134.2L494.2 134.2L494.6 133.8L494.6 132.9L495.2 132.9L495.6 132.6L496.1 132.4L496.5 132.1L496.9 131.7L497.4 131.5L497.7 131.2L498.1 130.8L498.5 130.5L499.3 130.7L499.8 130.5L499.6 129.4L500.6 129.8L500.8 129.2L501.0 128.7L501.4 128.4L502.1 128.4L502.3 127.8L502.5 127.2L503.3 127.4L503.7 127.2L503.9 126.5L504.2 126.0L504.8 125.9L505.2 125.5L505.8 125.5L506.2 125.2L506.9 125.4L507.3 124.9L508.0 125.2L508.6 125.2L508.9 124.8L509.0 123.5L510.0 124.4L510.4 124.2L510.2 123.5L510.4 123.0L510.8 122.5L511.1 122.0L510.9 121.4L511.3 120.9L511.5 120.4L511.6 119.9L511.5 119.3L511.6 118.8L511.4 118.2L511.6 117.7L511.2 117.3L511.0 116.8L510.7 116.4L510.4 115.9L510.4 115.3L509.8 115.1L508.9 115.1L508.8 114.9L508.4 114.6L508.4 113.4L507.8 113.6L507.2 113.6L506.9 113.0L506.5 112.8L506.0 112.6L505.7 112.2L504.9 112.5L504.5 112.3L503.8 112.4L504.0 110.9L503.1 111.6L502.6 111.5L502.3 110.5L501.7 110.5L501.4 111.7L500.8 111.5L500.1 110.5L499.6 110.7L499.2 111.6L498.5 110.8L498.1 111.4L497.5 111.2L497.0 111.4"/><path d="M385.2 248.9L385.5 248.4L386.3 248.2L386.4 247.4L387.3 247.3L387.5 246.7L387.4 245.6L388.2 245.4L388.6 245.0L389.2 244.5L389.8 244.8L390.3 244.2L390.9 243.8L391.6 244.5L392.1 243.8L392.8 243.9L393.4 243.8L394.0 243.6L394.5 243.5L395.2 243.5L395.8 243.5L396.4 243.2L397.0 243.4L397.6 242.9L398.1 242.3L398.9 242.8L399.5 242.3L400.1 242.2L400.8 242.1L401.3 241.6L401.8 241.1L402.7 241.3L402.9 240.7L403.1 240.1L403.3 239.5L403.6 238.9L404.3 238.6L404.8 238.2L404.3 237.2L405.0 236.9L404.9 236.1L406.2 236.2L405.7 235.3L406.5 234.8L406.5 234.2L406.6 233.6L406.7 233.0L406.9 232.4L407.0 231.7L406.9 231.1L407.5 230.6L407.6 229.9L407.8 229.4L408.0 228.8L408.2 228.2L408.6 227.6L408.7 227.1L408.6 226.3L408.7 225.7L409.1 225.1L409.5 224.6L409.8 224.0L410.0 223.4L410.3 222.9L410.4 222.2L410.7 221.7L411.1 221.1L411.3 220.5L411.6 220.0L412.1 219.5L412.2 218.9L412.5 218.3L412.3 217.6L412.6 217.0L413.6 216.8L413.6 215.9L413.1 215.3L412.1 215.8L411.7 214.9"/><path d="M510.6 185.8L510.2 186.9L509.5 186.8L509.0 187.0L508.4 187.1L507.8 187.1L507.1 187.0L506.6 187.2L506.0 187.6L505.4 187.4L504.8 187.6L504.2 187.5L503.6 187.6L502.9 187.3L502.3 187.4L501.7 187.3L501.0 187.0L500.4 186.9L500.1 188.5L499.6 189.1L498.9 188.7L498.3 188.9L497.6 188.6L497.1 189.1L496.4 188.9L495.9 189.4L495.2 188.8L494.6 188.9L494.0 189.4L493.4 189.2L492.8 189.4L492.3 190.0L491.7 190.3L491.1 190.7L490.4 190.6L489.7 190.5L489.1 190.9L488.6 191.3L488.0 191.6L487.4 191.9L486.8 192.1L486.2 192.4L485.6 192.5L485.0 192.2L484.6 191.4L483.9 191.5L483.2 191.5L482.8 190.7L482.0 191.3L481.5 190.8L480.8 190.8L480.0 191.4L479.4 191.3L479.2 189.9L478.3 190.4L477.8 190.1L477.3 189.5L476.5 189.6L475.9 189.6L475.3 189.3L474.7 189.1L474.4 188.0L473.5 188.6L472.8 188.4L472.5 187.4L471.6 187.9L470.8 188.0L470.2 187.7L469.6 187.4L469.0 187.1L468.4 187.0L467.8 186.5L467.1 186.5L467.0 185.8L466.6 185.3L466.3 184.8L466.0 184.2L465.8 183.6L465.8 182.9L465.7 182.3L465.0 181.9L465.1 181.5L465.1 180.9L465.2 180.2L465.2 179.5L465.0 178.8L465.0 178.2L465.7 177.6L465.4 176.9L465.7 176.3L465.6 175.6L465.6 175.0L466.0 174.4L466.6 173.9L466.2 173.2L466.1 172.6L466.1 171.9L465.6 171.3L466.2 170.7L466.3 170.1L466.6 169.5"/><path d="M180.7 203.8L181.2 203.6L181.7 203.3L182.2 203.1L182.6 202.7L183.1 202.4L183.6 202.2L184.1 201.8L184.7 202.2L185.2 202.0L185.7 201.9L186.3 201.9L186.7 201.3L187.3 201.8L187.8 201.3L188.3 201.1L188.9 201.4L189.5 201.2L189.5 201.8L188.7 201.9L188.9 202.6L188.7 203.1L188.4 203.5L187.9 203.8L187.6 204.2L187.7 204.8L187.5 205.3L187.3 206.0L186.3 205.4L185.9 205.8L185.9 206.7L185.1 206.6L184.6 206.7L184.3 207.4L183.9 207.7L183.5 207.8L182.9 207.6L182.4 207.4L181.7 207.4L181.3 206.9L181.4 206.3L181.1 205.9L181.1 205.4L181.0 204.9L180.8 204.4Z"/><path d="M200.9 184.7L201.3 184.3L201.7 183.9L202.1 183.5L202.4 183.1L203.0 182.9L203.1 182.3L203.6 181.8L204.1 181.8L204.6 181.9L205.1 181.7L205.5 181.3L206.1 181.6L206.6 181.6L207.0 180.9L207.6 181.3L208.1 181.1L208.5 180.9L209.3 180.7L209.4 181.3L208.4 181.6L208.6 182.2L208.2 182.7L208.1 183.2L207.9 183.7L207.7 184.2L207.5 184.7L207.3 185.2L206.9 185.5L206.7 186.0L206.6 186.5L207.0 187.3L206.2 187.5L206.7 188.2L206.4 188.7L205.7 188.9L205.7 189.5L205.2 189.8L205.5 190.5L205.5 191.0L204.8 191.5L204.6 190.9L204.2 190.5L203.7 190.2L203.3 189.7L202.9 189.4L202.8 188.9L202.4 188.5L202.1 188.0L202.1 187.5L201.9 187.0L201.7 186.5L201.7 186.0L201.1 185.7L201.3 185.0Z"/><path d="M132.3 224.5L132.8 224.3L133.3 224.1L133.7 223.6L134.1 223.3L134.6 223.2L134.9 223.0L135.4 223.4L135.2 224.0L135.4 224.5L135.3 225.1L135.4 225.6L135.3 226.2L135.8 226.7L135.9 227.2L135.8 227.8L135.6 228.3L135.2 228.7L135.0 229.2L134.6 229.6L134.4 230.1L134.1 230.5L133.9 231.0L133.7 231.4L133.3 231.1L133.0 230.8L132.6 230.4L132.2 230.1L132.2 229.5L132.2 229.0L132.2 228.5L132.3 228.0L132.2 227.5L132.3 227.0L132.4 226.4L132.7 225.9L132.3 225.4L132.7 224.9Z"/><path d="M132.0 161.8L132.4 161.5L132.9 161.3L133.4 161.2L133.7 160.7L134.4 160.8L134.7 160.4L135.1 160.0L135.5 159.7L136.4 160.2L136.5 159.3L137.0 159.3L137.5 159.2L138.0 159.3L138.6 159.2L139.1 159.2L139.6 158.7L140.1 158.6L140.6 159.2L141.1 158.6L141.6 159.0L142.1 158.9L142.7 159.0L143.2 158.9L143.7 158.8L144.2 158.8L144.7 158.8L145.2 158.9L145.7 159.0L145.9 158.6L145.6 159.1L145.8 159.7L145.9 160.3L145.3 160.7L145.2 161.2L145.0 161.6L144.8 162.2L144.6 162.6L144.0 162.8L143.5 162.7L142.9 162.6L142.4 163.0L141.9 163.0L141.4 163.0L140.8 163.1L140.3 163.3L139.8 163.4L139.2 163.3L138.6 163.6L138.2 163.3L137.7 163.0L137.2 163.0L136.8 162.3L136.1 163.0L135.5 162.9L135.1 162.6L134.6 162.2L134.1 162.1L133.5 162.4L133.0 162.2L132.4 162.1Z"/><path d="M138.8 168.7L139.3 168.7L139.8 168.4L140.2 167.9L140.8 168.0L141.3 167.6L141.3 168.2L141.6 168.6L141.8 169.0L142.0 169.5L142.1 170.0L142.2 170.5L142.5 170.9L142.7 171.4L142.9 171.9L142.4 171.7L141.9 171.6L141.4 171.3L140.9 171.1L140.4 171.0L140.1 170.6L139.8 170.1L139.5 169.8L139.5 169.2L138.8 169.0Z"/><path d="M446.0 467.0L446.5 467.0L447.0 467.3L447.5 467.1L447.9 467.7L448.9 467.3L448.4 468.1L448.7 468.5L449.2 468.8L449.3 469.4L449.6 469.8L449.9 470.2L450.3 470.5L450.7 471.0L450.8 471.5L450.9 472.0L450.7 472.5L450.8 473.0L451.1 473.3L450.5 473.3L450.0 473.0L449.5 472.7L449.1 472.5L448.8 472.0L448.2 471.8L448.2 471.1L447.6 470.9L447.5 470.3L446.8 470.1L446.9 469.5L446.7 469.0L446.5 468.5L446.3 468.0L446.1 467.5Z"/><path d="M454.0 487.0L454.5 486.8L454.9 486.5L455.6 486.6L456.1 486.4L456.7 485.8L456.6 486.7L457.4 486.7L457.5 487.4L458.2 487.5L458.6 488.0L458.5 488.6L458.4 489.1L458.2 489.6L458.0 490.1L457.5 490.5L457.0 490.4L456.5 490.5L456.0 490.1L455.5 490.1L455.0 490.0L454.8 489.5L454.7 489.0L454.6 488.5L454.3 488.0L454.2 487.5Z"/><path d="M508.0 464.9L508.5 464.9L508.9 464.4L509.4 464.3L509.9 463.9L510.4 464.2L510.9 464.4L511.5 464.5L512.0 464.6L512.5 464.7L513.0 465.0L512.6 465.4L512.3 465.8L512.3 466.3L511.6 466.4L511.5 466.7L511.0 466.9L510.4 467.2L509.9 466.8L509.3 466.8L508.6 466.9L508.5 466.2L508.0 465.7Z"/><path d="M111.8 307.4L111.3 307.1L110.8 307.1L110.3 306.8L109.8 306.9L109.2 307.0L108.8 306.6L108.2 307.1L107.8 306.3L107.3 306.1L106.8 305.7L106.2 306.4L105.7 305.9L105.4 305.9L105.0 305.7L104.4 305.6L104.2 305.0L103.7 304.8L102.9 305.0L102.5 304.7L102.5 303.8L102.1 303.4L101.3 303.7L101.1 303.1L100.6 302.9L100.1 302.7L99.7 302.4L99.2 302.1L99.0 301.6L99.1 301.0L98.8 300.4L98.3 300.0L98.1 299.4L98.5 299.1L98.8 298.3L99.3 298.2L99.9 298.2L100.3 297.9L100.8 297.8L101.2 297.5L101.9 297.7L102.3 297.4L102.7 297.1L103.2 296.9L103.6 296.4L104.3 296.8L104.7 296.6L104.9 296.3L105.0 295.7L105.2 295.0L105.2 294.4L105.4 293.8L105.3 293.2L104.8 293.5L104.3 292.0L105.7 292.9L105.9 292.4L106.1 291.7L106.6 291.4L106.7 290.7L107.2 290.5L107.4 289.9L108.1 289.8L109.0 289.8L109.0 289.2L109.0 288.6L109.2 288.1L109.5 287.6L109.9 287.2L110.0 286.7L110.4 286.3L110.8 285.8L111.0 285.4L110.6 285.0L110.0 285.1L109.6 284.8L109.1 284.6L108.7 284.3L108.2 284.2L107.7 284.0L107.3 283.8L106.8 283.7L106.4 283.4L106.0 283.0L105.4 282.8L105.6 281.9L105.3 281.4L104.7 281.3L104.0 281.3L103.5 281.0L103.7 280.2L103.4 279.8L102.6 279.5L103.7 278.5L103.2 278.1L103.4 277.5L103.3 277.0L102.7 276.6L102.6 276.1L102.3 275.7L101.6 275.2L101.9 274.7L102.1 274.3L102.4 273.8L102.1 273.1L102.3 272.6L103.2 272.4L103.7 272.0L103.1 271.2L103.8 270.9L103.6 270.6L104.1 270.4L104.4 269.7L104.9 269.7L105.5 269.7L106.0 269.6L106.6 269.5L106.9 268.8L107.5 269.0L107.9 268.5L108.5 268.5L109.0 268.4L109.6 268.4L110.1 268.3L110.6 268.3L111.1 268.1L111.7 268.5L112.2 267.7L112.9 268.8L113.2 267.2L113.7 267.1L114.4 267.7L114.9 267.8L115.4 268.2L116.0 267.6L116.5 267.7L117.1 267.8L117.6 268.1L118.0 268.7L118.6 268.6L119.2 268.1L119.7 268.4L120.5 268.5L120.1 268.1L119.5 267.8L119.5 267.2L118.9 266.9L119.2 266.3L118.7 265.9L118.6 265.4L118.5 264.9L119.0 264.6L118.5 263.7L118.9 263.3L119.3 262.9L119.7 262.5L119.9 262.0L120.3 261.6L120.6 261.1L120.7 260.6L120.9 259.9L121.5 259.9L122.1 259.8L122.2 259.1L122.8 259.1L123.1 258.6L123.8 258.6L124.2 258.4L124.2 257.5L125.1 257.8L125.3 257.3L125.6 256.7L126.1 256.6L126.8 256.7L126.9 256.0L127.4 255.9L127.9 255.8L128.4 255.5L128.9 255.7L129.3 255.2L130.0 255.8L130.3 254.5L130.9 255.3L131.3 254.6L132.0 255.3L132.4 255.1L132.9 255.2L133.4 255.1L134.0 255.2L134.3 254.1L134.8 254.1"/><path d="M126.9 255.8L127.5 255.9L128.1 255.7L128.7 255.5L129.4 255.6L129.9 255.4L130.6 255.4L131.1 254.9L131.7 254.9L132.3 254.7L133.0 254.9L133.5 254.6L134.1 254.6L134.7 254.2L135.3 254.3L136.0 254.4L136.5 255.0L137.3 254.7L137.6 255.7L138.4 255.3L139.0 255.7L139.6 255.9L140.2 256.1L140.9 256.2L141.5 256.4L142.1 257.0L142.7 257.0L143.3 256.7L143.9 256.5L144.5 256.4L145.1 256.4L145.7 256.3L146.3 256.2L146.9 256.1L147.5 256.0L148.2 256.3L148.7 256.0L149.0 256.6L149.7 256.9L150.2 257.3L150.6 257.8L151.0 258.3L151.4 258.8L152.0 259.1L152.3 259.8L153.1 259.9L153.2 260.7L153.7 261.0L154.0 261.7L154.1 262.3L154.5 262.9L154.7 263.5L154.9 264.1L154.9 264.8L155.0 265.5L155.5 266.1L155.0 266.6L154.6 267.1L154.3 267.7L153.7 268.1L153.6 268.8L152.7 269.0L152.8 269.9L152.2 270.4L151.5 270.4L151.1 270.9L150.6 271.2L150.0 271.5L149.4 271.7L148.9 272.1L148.5 272.5"/><path d="M279.9 173.8L280.5 174.1L281.1 174.3L281.9 174.1L282.4 174.6L283.2 174.3L283.8 174.5L284.2 175.4L284.8 175.5L285.4 175.9L286.2 175.6L286.8 175.9L287.4 175.5L288.0 175.5L288.7 175.7L289.3 175.6L289.9 175.7L290.5 175.1L291.2 175.2L292.0 175.8L292.5 175.7L293.1 175.3L293.7 175.1L294.1 174.5L294.8 174.5L295.3 174.2L295.9 174.1L296.5 173.7L297.1 173.7L297.7 173.5L298.3 173.4L298.9 173.3L299.5 173.1L300.1 173.0L300.7 173.0L301.2 172.5L301.8 172.3L302.4 172.2L302.9 171.8L303.7 172.5L304.3 172.1L305.0 171.8L305.6 171.5L306.2 171.2L306.9 171.1"/><path d="M291.7 175.4L292.4 175.6L292.8 176.1L293.1 176.8L293.5 177.3L294.2 177.5L294.4 178.2L295.0 178.5L295.6 178.0L296.3 178.4L297.0 177.9L297.7 178.3L298.3 178.2L299.0 178.0"/><path d="M282.9 185.1L283.5 185.4L284.1 185.9L284.7 186.1L285.4 186.0L285.8 186.6L286.5 186.8L287.3 186.6L287.9 186.8L288.4 187.3L289.0 187.5L289.6 187.3L290.2 187.2L290.7 186.7L291.4 186.8L292.0 186.8L292.6 186.7L293.2 186.5L293.8 186.3L294.4 186.1L295.0 186.0L295.5 186.4L296.2 186.4L296.6 187.0L297.3 187.0L297.8 187.3L298.3 187.8L299.0 187.8L299.3 188.5L300.0 188.5"/><path d="M284.5 192.0L285.1 192.1L285.6 192.5L286.2 192.7L286.7 193.0L287.2 193.4L287.8 193.4L288.2 194.0L289.0 193.9L289.4 194.4L289.9 194.3L290.6 194.4L291.2 194.4L291.9 194.3L292.3 193.4L293.1 194.1L293.5 193.0L294.4 194.2L294.7 193.0L295.5 193.5L296.0 193.0"/><path d="M328.8 140.7L329.2 141.4L329.8 141.6L330.3 141.9L331.0 142.0L331.7 142.0L332.0 142.7L332.5 143.2L333.1 143.3L333.8 143.5L334.4 143.2L335.0 143.2L335.7 143.1L336.3 143.0L336.9 143.0L337.6 142.9L338.1 142.4L338.8 142.5L339.4 142.5L340.1 142.6L340.7 142.5L341.3 142.3L341.9 142.3L342.6 142.6L343.2 143.2L343.6 142.3L344.6 142.7L344.9 142.0L345.4 141.7L345.9 141.3L346.3 140.9L346.9 140.7L347.1 139.9L347.8 139.9L348.1 139.3L348.5 138.7L349.1 138.5L349.8 138.4L349.6 137.7L349.8 137.1L350.5 136.6L350.5 135.9"/><path d="M300.2 151.6L300.5 152.3L300.9 153.0L301.7 152.8L302.2 153.3L302.7 153.6L303.2 154.1L303.8 154.3L304.2 154.8L305.2 154.3L305.0 155.9L306.1 155.9L306.5 154.9L307.2 154.8L307.9 155.3L308.5 155.1L309.1 154.8L309.8 155.0L310.4 154.7L311.0 154.5"/><path d="M312.0 147.4L312.6 147.7L313.1 148.0L313.6 148.4L314.2 148.6L314.8 148.7L315.3 149.0L315.7 149.6L316.4 149.7L316.9 149.9L317.4 150.4L318.1 150.7L318.6 150.3L319.2 149.8L319.8 149.7L320.3 149.2L321.3 150.2L321.8 149.7L322.3 149.0L323.0 149.0"/><path d="M288.2 159.7L288.6 160.2L289.0 160.7L289.7 160.7L290.2 161.1L290.7 161.3L291.3 161.6L291.8 161.9L292.4 162.1L293.0 162.3L293.5 162.7L294.1 163.3L294.5 162.4L295.2 162.6L295.8 162.2L296.6 162.6L297.0 161.7L297.7 161.8L298.5 162.1L299.0 161.5"/><path d="M341.0 127.0L341.5 127.4L342.0 127.8L342.6 128.0L343.1 128.5L343.6 128.9L343.7 129.7L344.3 130.1L345.0 130.2L345.4 130.7L346.0 131.1L346.7 131.1L347.2 130.6L347.8 130.7L348.3 130.1L348.9 130.0L349.6 129.9L350.2 129.9L350.8 129.7L351.4 129.7L352.0 129.5"/><path d="M355.9 117.2L356.4 117.6L357.0 117.8L357.4 118.3L358.4 118.1L358.1 119.5L358.9 119.6L359.3 120.1L360.2 119.9L360.5 120.6L361.0 120.9L361.7 120.9L362.3 120.7L362.7 119.9L363.7 120.6L364.0 119.4L364.6 119.1L365.4 119.3L366.0 119.0"/><path d="M367.8 108.2L368.3 108.6L369.0 108.7L369.6 109.1L369.7 109.9L370.4 110.1L370.7 110.6L371.2 111.1L371.6 111.5L372.1 112.2L372.7 112.0L373.2 111.5L373.8 111.3L374.3 111.0L375.0 110.8L375.6 110.5L376.0 110.0"/></g>
<g fill="none" stroke="#505860" stroke-width=".5"><path d="M345.5 142.5L359.8 142.8"/><path d="M301.9 165.5L320.4 171.3L335.5 173.9L352.2 171.8L365.7 171.3"/><path d="M320.4 171.3L322.9 177.2L321.2 185.6L313.7 194.0L308.6 196.7"/><path d="M308.6 196.7L290.2 196.7"/><path d="M308.6 196.7L320.4 201.8L330.4 205.1"/><path d="M335.4 408.4L347.1 407.6L353.8 408.4L358.9 411.7L363.1 410.9"/><path d="M358.9 413.4L357.2 420.1L353.8 426.8L352.1 432.7"/><path d="M363.1 412.6L367.2 418.5L370.6 423.5L377.3 426.0"/><path d="M380.7 441.9L384.0 439.4L390.7 440.3L395.8 443.6L397.4 448.7L399.1 455.4L400.0 463.8"/><path d="M400.8 465.4L407.5 464.6L410.0 463.8"/><path d="M121.1 263.5L125.3 266.0L128.6 268.6L133.7 271.1L138.7 268.6L142.0 271.1L147.9 272.8"/><path d="M494.2 305.3L500.9 302.0L512.6 301.1L524.4 302.8L534.4 304.5L541.1 307.0L547.9 305.3L554.6 306.2L559.6 308.7L565.5 307.3"/><path d="M273.8 287.6L275.2 284.0L278.0 281.5L284.0 280.0L288.0 280.5L292.0 280.0"/></g>
</g>
</defs>
<g transform="translate(0 0)" clip-path="url(#clip)">
<use href="#under"/>
<use href="#rLV" fill="#fff" stroke="#2e3238" stroke-width=".7"/>
<g stroke="#43351f" stroke-width=".55">
<use href="#rSE1" fill="#febd6a"/>
<use href="#rSE2" fill="#febd6a"/>
<use href="#rSE3" fill="#feba63"/>
<use href="#rSE4" fill="#faa22d"/>
<use href="#rFI" fill="#ffc985"/>
<use href="#rEE" fill="#ffc67e"/>
<use href="#rLT" fill="#ffc67e"/>
<use href="#rDK1" fill="#fdb457"/>
<use href="#rDK2" fill="#febd6a"/>
<use href="#rPL" fill="#ffc985"/>
<use href="#rDE" fill="#f0910c"/>
<use href="#rNL" fill="#f0910c"/>
<use href="#rBE" fill="#f0910c"/>
<use href="#rGB" fill="#fed5a3"/>
<use href="#rFR" fill="#fba93e"/>
<use href="#rCH" fill="#fba93e"/>
<use href="#rAT" fill="#f0910c"/>
<use href="#rCZ" fill="#fba93e"/>
<use href="#rSK" fill="#fba93e"/>
<use href="#rHU" fill="#fcaf4a"/>
<use href="#rSI" fill="#fec071"/>
<use href="#rHR" fill="#fedcb1"/>
<use href="#rRO" fill="#fed199"/>
<use href="#rBG" fill="#fed5a3"/>
<use href="#rGR" fill="#fed5a3"/>
<use href="#rES" fill="#feba63"/>
<use href="#rPT" fill="#fdb457"/>
</g>
<circle cx="237.3" cy="430.2" r=".9" fill="#fff" stroke="#6b5a40" stroke-width=".3"/>
<use href="#over"/>
<text x="445" y="105" class="lb">11%</text>
<text x="398" y="151" class="lb">11%</text>
<text x="390" y="197" class="lb">12%</text>
<text x="383" y="233" class="lb">16%</text>
<text x="521" y="160" class="lb">7%</text>
<text x="518" y="212" class="lb">8%</text>
<text x="494" y="258" class="lb">8%</text>
<text x="323" y="246" class="lb">13%</text>
<text x="356" y="255" class="lb">11%</text>
<text x="441" y="302" class="lb">7%</text>
<text x="338" y="316" class="lb">18%</text>
<text x="284" y="300" class="lb">18%</text>
<text x="272" y="323" class="lb">18%</text>
<text x="201" y="291" class="lb">4%</text>
<text x="247" y="377" class="lb">15%</text>
<text x="313" y="375" class="lb">15%</text>
<text x="381" y="364" class="lb">18%</text>
<text x="394" y="335" class="lb">15%</text>
<text x="443" y="349" class="lb">15%</text>
<text x="442" y="369" class="lb">14%</text>
<text x="389" y="384" class="lb">10%</text>
<text x="415" y="390" class="lb">1%</text>
<text x="507" y="388" class="lb">5%</text>
<text x="508" y="430" class="lb">4%</text>
<text x="467" y="475" class="lb">4%</text>
<text x="177.6" y="462.3" class="lb">12%</text>
<text x="126.5" y="472.3" class="lb">13%</text>
</g>
<g transform="translate(592 0)" clip-path="url(#clip)">
<use href="#under"/>
<g stroke="#43351f" stroke-width=".55">
<use href="#rSE1" fill="#f59a1c"/>
<use href="#rSE2" fill="#e37d02"/>
<use href="#rSE3" fill="#ea8703"/>
<use href="#rSE4" fill="#ea8703"/>
<use href="#rFI" fill="#fdb457"/>
<use href="#rEE" fill="#ffc377"/>
<use href="#rLV" fill="#ffc67e"/>
<use href="#rLT" fill="#fec071"/>
<use href="#rDK1" fill="#f0910c"/>
<use href="#rDK2" fill="#fcaf4a"/>
<use href="#rPL" fill="#ed8c04"/>
<use href="#rDE" fill="#ac6001"/>
<use href="#rNL" fill="#9c5701"/>
<use href="#rBE" fill="#ac6001"/>
<use href="#rGB" fill="#fed8a8"/>
<use href="#rFR" fill="#c16a02"/>
<use href="#rCH" fill="#f59a1c"/>
<use href="#rAT" fill="#da7802"/>
<use href="#rCZ" fill="#ed8c04"/>
<use href="#rSK" fill="#f0910c"/>
<use href="#rHU" fill="#f59a1c"/>
<use href="#rSI" fill="#ed8c04"/>
<use href="#rHR" fill="#ffc67e"/>
<use href="#rRO" fill="#ffc377"/>
<use href="#rBG" fill="#ffc377"/>
<use href="#rGR" fill="#fed8a8"/>
<use href="#rES" fill="#7b4502"/>
<use href="#rPT" fill="#feba63"/>
</g>
<circle cx="237.3" cy="430.2" r=".9" fill="#fff" stroke="#6b5a40" stroke-width=".3"/>
<use href="#over"/>
<text x="445" y="105" class="lb">17%</text>
<text x="398" y="151" class="lb">22%</text>
<text x="390" y="197" class="lb">20%</text>
<text x="383" y="233" class="lb">20%</text>
<text x="521" y="160" class="lb">13%</text>
<text x="518" y="212" class="lb">9%</text>
<text x="506.5" y="237.5" class="lb">8%</text>
<text x="494" y="258" class="lb">10%</text>
<text x="323" y="246" class="lb">18%</text>
<text x="356" y="255" class="lb">14%</text>
<text x="441" y="302" class="lb">19%</text>
<text x="338" y="316" class="lb">28%</text>
<text x="284" y="300" class="lb">30%</text>
<text x="272" y="323" class="lb">28%</text>
<text x="201" y="291" class="lb">3%</text>
<text x="247" y="377" class="lb">26%</text>
<text x="313" y="375" class="lb">17%</text>
<text x="381" y="364" class="lb">23%</text>
<text x="394" y="335" class="lb">19%</text>
<text x="443" y="349" class="lb">18%</text>
<text x="442" y="369" class="lb">17%</text>
<text x="389" y="384" class="lb">19%</text>
<text x="415" y="390" class="lb">8%</text>
<text x="507" y="388" class="lb">9%</text>
<text x="508" y="430" class="lb">9%</text>
<text x="467" y="475" class="lb">3%</text>
<text x="177.6" y="462.3" class="lb">34%</text>
<text x="126.5" y="472.3" class="lb">12%</text>
</g>
<rect x="574.4" y="95.5" width="10" height="451" fill="url(#cb)"/>
<text x="586.7" y="549.9" class="tk">0</text>
<text x="586.7" y="485.5" class="tk">5</text>
<path d="M580.4 481.9h4" stroke="#5a4a30" stroke-width=".5" stroke-opacity=".7"/>
<text x="586.7" y="421.1" class="tk">10</text>
<path d="M580.4 417.5h4" stroke="#5a4a30" stroke-width=".5" stroke-opacity=".7"/>
<text x="586.7" y="356.7" class="tk">15</text>
<path d="M580.4 353.1h4" stroke="#5a4a30" stroke-width=".5" stroke-opacity=".7"/>
<text x="586.7" y="292.3" class="tk">20</text>
<path d="M580.4 288.7h4" stroke="#5a4a30" stroke-width=".5" stroke-opacity=".7"/>
<text x="586.7" y="227.9" class="tk">25</text>
<path d="M580.4 224.3h4" stroke="#5a4a30" stroke-width=".5" stroke-opacity=".7"/>
<text x="586.7" y="163.5" class="tk">30</text>
<path d="M580.4 159.9h4" stroke="#5a4a30" stroke-width=".5" stroke-opacity=".7"/>
<text x="586.7" y="99.1" class="tk">35</text>
<text x="579.6" y="89.6" class="pc">%</text>
<rect x="1166.6" y="95.5" width="10" height="451" fill="url(#cb)"/>
<text x="1178.9" y="549.9" class="tk">0</text>
<text x="1178.9" y="485.5" class="tk">5</text>
<path d="M1172.6 481.9h4" stroke="#5a4a30" stroke-width=".5" stroke-opacity=".7"/>
<text x="1178.9" y="421.1" class="tk">10</text>
<path d="M1172.6 417.5h4" stroke="#5a4a30" stroke-width=".5" stroke-opacity=".7"/>
<text x="1178.9" y="356.7" class="tk">15</text>
<path d="M1172.6 353.1h4" stroke="#5a4a30" stroke-width=".5" stroke-opacity=".7"/>
<text x="1178.9" y="292.3" class="tk">20</text>
<path d="M1172.6 288.7h4" stroke="#5a4a30" stroke-width=".5" stroke-opacity=".7"/>
<text x="1178.9" y="227.9" class="tk">25</text>
<path d="M1172.6 224.3h4" stroke="#5a4a30" stroke-width=".5" stroke-opacity=".7"/>
<text x="1178.9" y="163.5" class="tk">30</text>
<path d="M1172.6 159.9h4" stroke="#5a4a30" stroke-width=".5" stroke-opacity=".7"/>
<text x="1178.9" y="99.1" class="tk">35</text>
<text x="1171.8" y="89.6" class="pc">%</text>
</svg>
<div class="src">Sources: Data from ENTSO-E, for Italian data from Mercato Elettrico, for GB on Elexon BMRS, analysis enervis</div>
</body></html>
